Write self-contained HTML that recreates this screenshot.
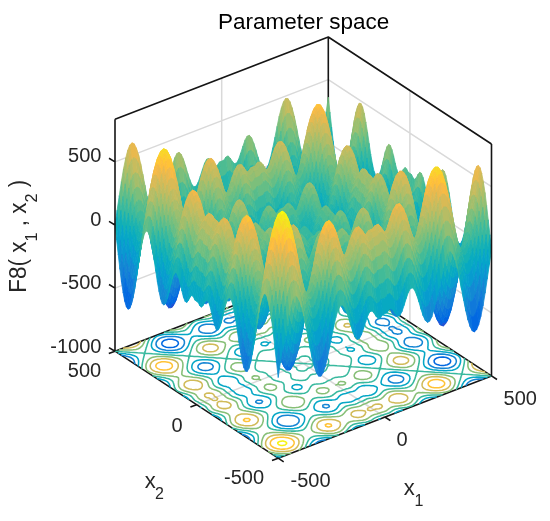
<!DOCTYPE html>
<html><head><meta charset="utf-8"><title>Parameter space</title>
<style>
html,body{margin:0;padding:0;background:#fff}
body{width:550px;height:521px;overflow:hidden}
svg{display:block}
text{font-family:"Liberation Sans",Arial,Helvetica,sans-serif}
.t{font-size:20px;fill:#262626}
.l{font-size:22px;fill:#262626}
.ti{font-size:22.5px;fill:#000}
.s{font-size:16px;fill:#262626}
.c0{fill:#352a87;stroke:#352a87}.c1{fill:#363093;stroke:#363093}.c2{fill:#3637a0;stroke:#3637a0}.c3{fill:#353dad;stroke:#353dad}.c4{fill:#3243ba;stroke:#3243ba}.c5{fill:#2c4ac7;stroke:#2c4ac7}.c6{fill:#2053d4;stroke:#2053d4}.c7{fill:#0f5cdd;stroke:#0f5cdd}.c8{fill:#0363e1;stroke:#0363e1}.c9{fill:#0268e1;stroke:#0268e1}.c10{fill:#046de0;stroke:#046de0}.c11{fill:#0871de;stroke:#0871de}.c12{fill:#0d75dc;stroke:#0d75dc}.c13{fill:#1079da;stroke:#1079da}.c14{fill:#127dd8;stroke:#127dd8}.c15{fill:#1481d6;stroke:#1481d6}.c16{fill:#1485d4;stroke:#1485d4}.c17{fill:#1389d3;stroke:#1389d3}.c18{fill:#108ed2;stroke:#108ed2}.c19{fill:#0c93d2;stroke:#0c93d2}.c20{fill:#0998d1;stroke:#0998d1}.c21{fill:#079ccf;stroke:#079ccf}.c22{fill:#06a0cd;stroke:#06a0cd}.c23{fill:#06a4ca;stroke:#06a4ca}.c24{fill:#06a7c6;stroke:#06a7c6}.c25{fill:#07a9c2;stroke:#07a9c2}.c26{fill:#0aacbe;stroke:#0aacbe}.c27{fill:#0faeb9;stroke:#0faeb9}.c28{fill:#15b1b4;stroke:#15b1b4}.c29{fill:#1db3af;stroke:#1db3af}.c30{fill:#25b5a9;stroke:#25b5a9}.c31{fill:#2eb7a4;stroke:#2eb7a4}.c32{fill:#38b99e;stroke:#38b99e}.c33{fill:#42bb98;stroke:#42bb98}.c34{fill:#4dbc92;stroke:#4dbc92}.c35{fill:#59bd8c;stroke:#59bd8c}.c36{fill:#65be86;stroke:#65be86}.c37{fill:#71bf80;stroke:#71bf80}.c38{fill:#7cbf7b;stroke:#7cbf7b}.c39{fill:#87bf77;stroke:#87bf77}.c40{fill:#92bf73;stroke:#92bf73}.c41{fill:#9cbf6f;stroke:#9cbf6f}.c42{fill:#a5be6b;stroke:#a5be6b}.c43{fill:#aebe67;stroke:#aebe67}.c44{fill:#b7bd64;stroke:#b7bd64}.c45{fill:#c0bc60;stroke:#c0bc60}.c46{fill:#c8bc5d;stroke:#c8bc5d}.c47{fill:#d1bb59;stroke:#d1bb59}.c48{fill:#d9ba56;stroke:#d9ba56}.c49{fill:#e1b952;stroke:#e1b952}.c50{fill:#e9b94e;stroke:#e9b94e}.c51{fill:#f1b94a;stroke:#f1b94a}.c52{fill:#f8bb44;stroke:#f8bb44}.c53{fill:#fdbe3d;stroke:#fdbe3d}.c54{fill:#ffc337;stroke:#ffc337}.c55{fill:#fec832;stroke:#fec832}.c56{fill:#fcce2e;stroke:#fcce2e}.c57{fill:#fad32a;stroke:#fad32a}.c58{fill:#f7d826;stroke:#f7d826}.c59{fill:#f5de21;stroke:#f5de21}.c60{fill:#f5e41d;stroke:#f5e41d}.c61{fill:#f5eb18;stroke:#f5eb18}.c62{fill:#f6f313;stroke:#f6f313}.c63{fill:#f9fb0e;stroke:#f9fb0e}
</style></head><body>
<svg width="550" height="521" viewBox="0 0 550 521">
<rect width="550" height="521" fill="#fff"/>
<path d="M115.0 288.1 L328.3 205.8M328.3 205.8 L491.5 312.8M115.0 225.0 L328.3 142.7M328.3 142.7 L491.5 249.7M115.0 161.9 L328.3 79.6M328.3 79.6 L491.5 186.6M221.7 310.0 L221.7 78.1M409.9 322.4 L409.9 90.5M384.9 417.0 L221.7 310.0M196.6 404.7 L409.9 322.4" fill="none" stroke="#d9d9d9" stroke-width="1.5"/>
<path d="M115.0 351.2 L328.3 268.9 L491.5 375.9M115.0 119.3 L328.3 37.0 L491.5 144.0M328.3 268.9 L328.3 37.0M115.0 351.2 L278.2 458.2 L491.5 375.9" fill="none" stroke="#151515" stroke-width="1.6" stroke-linejoin="round"/>
<g fill="none" stroke-width="1.55" stroke-linejoin="round">
<path stroke="#363093" d="M324.1 286.2L323.4 286.1 320.9 285.4 319.8 284.1 319.9 283.4 321.4 282.1 324 281.6 325.9 281.7 328.1 282.6 328.8 284 328.6 284.6 326.9 285.7 324.1 286.2z"/>
<path stroke="#0268e1" d="M444.8 365.3L443.9 365.4 441.6 365.4 439.8 365.2 437.1 364.6 436.7 364.4 435.3 363.6 435 363.3 434.3 362.3 434.1 360.7 434.1 360.5 435.2 359 437 357.9 439.4 357.3 442.4 357.1 443.3 357.1 446.4 357.6 446.8 357.7 448.6 358.5 450.1 359.6 450.3 360 450.7 361.1 450.4 362.3 449.9 363.1 449.2 363.7 447.3 364.7 444.8 365.3zM358.4 308.6L357.8 308.5 356.4 307.4 356.4 307.3 357.6 305.9 360.4 305.5 361 305.6 362.9 306.6 363 307.2 361.6 308.5 358.4 308.6zM329.3 289.5L326.9 289.8 326.4 289.9 323 289.9 322.5 289.8 319.2 289.4 318.7 289.3 316.6 288.7 314.6 287.8 313.2 286.6 312.4 285.2 312.4 285.2 312.4 283.5 312.6 283 313.4 281.5 313.4 281.4 314.9 280.1 316.8 279.1 319.1 278.4 321.8 278 322.5 278 325.1 277.9 326.7 278 329.2 278.4 329.8 278.5 332.3 279.3 334.1 280.3 335.4 281.5 336.2 282.9 336.2 282.9 336.2 284.6 336 285.1 335.2 286.7 335.1 286.7 333.6 287.9 331.7 288.9 329.3 289.5zM175.7 346.6L173.9 347.2 173.4 347.3 170.5 347.6 168.6 347.5 166.5 347.2 165.6 347 163.5 346.1 162.2 344.9 161.9 344.2 161.8 343.4 162.2 342.1 163.1 341.2 163.5 340.8 165.5 339.9 167.6 339.4 168 339.3 171.3 339.3 172.2 339.3 175 339.9 177 340.9 178.1 342.1 178.4 343.7 178.4 343.9 177.4 345.4 176.2 346.3 175.7 346.6zM279.2 303.3L278.6 303.4 275.5 302.9 274.9 301.4 275.3 300.8 277.6 300.1 278.3 300.1 280.7 300.9 281.2 302.4 281.2 302.4 279.2 303.3z"/>
<path stroke="#1485d4" d="M314.9 444L316 443 317.6 441.8 319.7 441 322.1 440.3 324.8 439.9 325.8 439.8M465.7 385.9L465.8 385.7 466.8 384.1 467.3 383.6 468 382.7 469.6 381.5 471.5 380.5 473.8 379.8 476.4 379.3 478.7 379.1 479.4 379.1 482.7 379 483.4 379M445.9 368.2L445.2 368.3 442.7 368.3 440.8 368.3 439 368.1 437.3 367.9 434.4 367.4 434.4 367.4 432 366.6 430.3 365.5 429 364.3 428.7 363.6 428.4 362.9 428.2 361.2 428.2 361.1 428.6 359.4 428.7 359.1 429.6 357.5 429.9 357.2 430.9 356.1 432.7 355.1 435 354.4 437.9 354.1 437.9 354.1 441.2 354.1 442.2 354.1 445.1 354.3 445.8 354.4 448.8 355 449.8 355.3 451.3 355.7 453.4 356.6 454.9 357.7 455.9 359.1 455.9 359.2 456.3 360.6 456.3 361.7 456.1 362.4 455.7 363.5 455.1 364.5 454.6 365.1 453.1 366.3 451.1 367.2 448.7 367.9 445.9 368.2zM293.2 425.8L290.6 426.2 290.4 426.2 287.1 426.3 286.2 426.2 283 425.7 282.8 425.7 280.6 425 278.8 424 277.6 422.7 277.4 422.1 277.2 421.2 277.3 419.8 277.4 419.4 278.1 418.2 279.6 416.9 280 416.7 281.6 416 282.3 415.8 284.1 415.4 287.2 415.2 288.2 415.2 290.9 415.4 291.9 415.5 294.7 416.1 296.3 416.8 296.9 417 298 417.9 298.3 418.1 299.1 419.6 299.1 420.8 299.1 421.3 298.5 422.6 297.7 423.5 297.2 424 295.4 425.1 293.2 425.8zM400 382.5L398.9 382.7 397.2 383 394 382.9 393.7 382.9 391.2 382.3 389.3 381.3 388.4 380 388.3 379.3 388.6 378.2 389 377.6 390.5 376.4 392.8 375.6 395.6 375.3 396.2 375.3 399.6 375.7 399.7 375.7 401.9 376.5 403.3 377.6 403.5 378.2 403.7 379.2 403.3 380.3 402.3 381.4 402 381.7 400 382.5zM326.8 407.9L325 407.8 322.9 407 322.8 405.3 322.8 405.3 324.9 404.4 325.1 404.4 328.4 404.8 329.4 406.1 328.9 407.1 326.8 407.9zM241.8 434.3L242.7 434.5 245.1 435.3 247.1 436.2 248.6 437.3 249.7 438.6 250.1 439.8M419.1 346.2L418.1 346.4 416.6 346.8 413.4 346.9 412.6 346.8 409.3 346.4 409.2 346.4 407 345.6 405.3 344.6 404.4 343.2 404.3 343.2 404.2 341.6 404.2 340.9 404.9 339.6 405 339.2 406.6 338 409.1 337.4 410.5 337.5 412.5 337.4 414.5 337.6 416.7 338 417.5 338.2 419.8 339 421.4 340.1 422.3 341.4 422.4 341.7 422.3 343.1 422.1 343.8 421 345.2 420.1 345.6 419.1 346.2zM259.2 403.5L257.5 403.3 255.8 402.3 255.8 401.3 257.5 400.2 260.9 400.2 261 400.2 262.6 401.3 262.6 401.3 261.7 403 259.2 403.5zM397.3 334.2L397.1 334.1 394.2 333.6 392.7 332.4 392.1 331 390.5 329.9 388.9 328.8 388.8 328.5 389.6 326.9 392.6 326.6 393.9 326.9 395.5 328 397.1 329 400 329.6 401.7 330.7 401.9 332.3 401.8 332.7 400.2 333.8 397.3 334.2zM384.6 325.8L383.9 325.6 380.4 325.3 380.4 325.3 377.9 324.6 376.2 323.5 375.4 322.1 375.4 322 376.1 320.2 376.2 320.1 377.7 319.1 380.2 318.5 380.5 318.5 383.6 318.5 384.4 318.6 387 319.4 388.5 320.4 389.3 321.9 389.4 322.3 389.1 323.6 389.2 324.4 387.7 325.6 384.6 325.8zM365.1 313L363.6 313.1 361.9 313.1 359.3 313 358.2 312.9 355.9 312.6 353.5 312.1 353.1 312 351 311.1 349.4 310 348.6 308.8 348.5 308.7 348.2 307.1 348.3 306.5 348.8 305.2 349.1 304.7 350.4 303.4 352.2 302.3 354.5 301.6 357.4 301.3 358.9 301.3 360.9 301.4 362.6 301.5 365.2 302 365.6 302.1 367.9 302.9 369.6 304 370.7 305.2 371 305.8 371.3 306.7 371.3 308.2 371.2 308.4 370.7 310 370.2 310.5 369.5 311.4 367.6 312.4 365.1 313zM208.6 370.3L205.8 370.6 205.5 370.6 202.4 370.2 200.9 369.7 200 369.4 198.4 368.3 198.3 368 197.9 366.8 198.1 365.7 198.8 364.8 199.3 364.3 201.3 363.3 203.8 362.8 203.9 362.8 207.4 362.9 207.9 362.9 210.5 363.6 212.3 364.7 213.1 366 213.2 366.7 212.8 367.8 212.5 368.5 210.9 369.6 208.6 370.3zM330 292.2L329.5 292.2 326.8 292.4 324.8 292.3 323.3 292.3 320.9 292.1 319.5 292 317.5 291.8 315 291.3 314.5 291.2 312 290.5 310.1 289.5 308.7 288.4 307.8 287 307.7 286.5 307.5 285.4 307.6 284.2 307.6 283.7 308.1 282.3 308.4 281.7 309 280.7 310.1 279.3 310.2 279.2 311.7 278 313.6 277.1 315.9 276.3 318.6 275.8 319.3 275.8 321.6 275.6 324.2 275.6 325 275.6 328 275.8 328.8 275.9 331.3 276.2 333.5 276.7 334.1 276.9 336.4 277.7 338.2 278.7 339.6 279.9 340.4 281.2 340.5 281.3 340.9 282.8 340.9 283.8 340.9 284.5 340.6 285.8 340.4 286.3 339.8 287.5 339 288.6 338.7 289 337.1 290.2 335.2 291.2 332.8 291.8 330 292.2zM174.6 350.3L174.5 350.3 171.5 350.5 169.8 350.5 167.9 350.4 166.1 350.2 163.7 349.8 163 349.7 160.5 349 158.5 348 157.1 346.9 156.3 345.5 156.1 344.8 156 343.9 156.2 342.7 156.4 342 157 341 158 339.7 158.2 339.5 159.8 338.4 161.9 337.5 164.3 336.9 166 336.6 167.1 336.5 170.3 336.4 171.1 336.4 173.9 336.5 174.9 336.6 178.1 337 178.1 337.1 180.7 337.7 182.6 338.7 183.8 339.9 184.3 341.1 184.4 341.4 184.4 343.1 184.4 343.4 183.8 345 183.8 345.2 182.7 346.7 182 347.4 181.4 348.1 179.5 349.1 177.3 349.8 174.6 350.3zM281.9 307.3L281.4 307.4 278.9 307.6 276.5 307.6 275.4 307.5 272.8 307.3 271.2 307 269.9 306.7 267.7 305.9 266.4 304.7 266.2 303.7 266 303.1 266.3 301.5 266.3 301.3 267.1 299.9 267.9 299 268.4 298.5 270.2 297.4 272.4 296.6 275 296.1 275.4 296.1 278.1 296 280 296 281.9 296.3 283.3 296.4 285.9 297.1 287.8 298.1 289.1 299.3 289.6 300.8 289.6 301.3 289.4 302.6 289.2 303.2 288.1 304.7 287.9 304.9 286.5 305.9 284.4 306.8 281.9 307.3zM212.4 332.9L209.8 333.3 209.7 333.3 206.3 333.3 205.5 333.3 202.5 332.7 201.2 332.2 200.4 331.9 199.7 331.2 199.1 330.6 198.7 329.1 198.9 328.4 199.5 327.1 199.7 326.8 201.3 325.6 203.5 324.8 206.1 324.3 207 324.2 209.3 324.2 211.3 324.2 213.2 324.5 214.6 324.7 216.7 325.5 217.6 326.9 217.5 327.4 217.5 328.6 217.2 329.3 216.2 330.8 216.2 330.9 214.5 332 212.4 332.9zM248.7 316.6L248.6 316.7 245.1 316.5 244.4 316.6 241.4 316 240.7 314.6 241.1 313.9 241.5 312.6 241.8 312.2 243.3 310.9 245.4 310.1 248.2 309.7 249 309.7 252.1 310 252.4 310.1 254.5 311 255.4 312.2 255.5 312.3 255.1 314.1 255.1 314.2 253.6 315.5 251.4 316.3 248.7 316.6zM227.9 323L227.7 323 225.1 322.3 224.1 321 224.2 320.6 225.3 319.1 227.5 318.3 230.5 318.1 232.7 317.3 234.8 316.5 236.1 316.4 238.9 317 238.9 318.7 238.6 319 236.5 319.8 234.4 320.6 233.1 322 231 322.9 227.9 323zM121.2 355.3L121.9 355.3 125 355.8 125.7 356 127.8 356.5 130.1 357.3 131.9 358.3 133.3 359.4 134.1 360.8 134.4 361.7 134.6 362.3 134.8 364 134.7 364.1"/>
<path stroke="#06a7c6" d="M309.5 446.1L309.8 445.6 310.5 444 310.6 443.9 311.7 442.4 312.4 441.6 313 441 314.6 439.9 316.7 439 319.1 438.4 321.9 438 321.9 438 324.9 437.7 327.1 437.6 328.1 437.6 331.4 437.6 331.7 437.6M351.9 429.8L352.4 429.1 353.9 427.8 355.6 426.8 357.8 425.9 360.2 425.4 363 424.9 365 424.7M378.2 419.6L378.4 419.5 380.6 418.7 380.6 418.7M394.5 413.3L395.3 412.8 397.1 411.7 399.2 410.9 401.7 410.3 402.8 410.1M419.2 403.8L420.3 402.5 421.4 401.3 421.5 401.1 423 399.9 424.8 398.8 427 398 429.6 397.5 431.8 397.2 432.4 397.2 435.6 397 436.9 397M461.1 387.6L461.3 387.2 461.9 385.6 462 385.4 462.8 383.7 463 383.5 463.7 382.1 464.5 381.2 464.9 380.7 466.4 379.4 468.2 378.4 470.5 377.7 473.3 377.3 474.9 377.2 476.4 377.1 479.7 377.1 479.7 377.1 483.2 377.2 483.8 377.2 486.9 377.4 487.6 377.4M275.8 456.6L277.6 456.7 279.6 456.9 281.3 457M449.4 370.5L448 370.6 446.2 370.7 443.5 370.6 442.8 370.6 439.6 370.4 439.1 370.4 436 370.1 435.1 370 432.7 369.7 430.5 369.2 429.8 369.1 427.4 368.3 425.6 367.3 424.4 366.1 424 365 423.8 364.6 423.6 363 423.6 362.5 423.6 361.3 423.7 360.3 423.8 359.5 424 358.3 424.1 357.7 424.3 356.3 424.5 355.9 424.6 354.3 424.7 354.1 424.6 352.4 423.1 351.3 420.3 350.7 419.1 350.6 416.9 350.3 415 350.2 413.4 349.9 410.8 349.6 410.1 349.5 407 349 406.2 348.8 404.3 348.4 402.1 347.5 400.4 346.5 399.3 345.2 398.7 344 398.6 343.7 398.2 342.2 397.7 341.1 397.6 340.7 396.6 339.4 395 338.4 392.7 337.5 392.1 337.4 390.2 336.8 388 335.9 386.4 334.9 385.3 333.6 383.6 332.5 382 331.5 380.8 330.2 379.3 329.1 377.1 328.3 374.6 327.5 372.4 326.7 371 325.8 370.7 325.6 370.7 325.6 369.7 324.3 369.1 322.9 368.9 322.2 368.7 321.3 368.2 319.8 367.9 319.3 367.4 318.4 365.7 317.3 364.3 316.9 363.3 316.6 360.3 316 359.3 315.9 357.2 315.5 354.8 315.2 354.1 315.1 351.1 314.5 349.9 314.2 348.5 313.8 346.4 312.9 344.8 311.8 343.8 310.5 343.7 310.1 343.3 309 343.2 307.6 343.2 307.3 343.4 305.5 343.5 305.5 344 303.6 344 303.6 344.8 301.9 345.3 301.5 346 300.5 347.7 299.4 350.1 298.7 352.7 298.6 353.1 298.5 356.6 298.5 357.1 298.6 360.3 298.8 360.8 298.8 364.2 299.2 364.4 299.3 367.2 299.8 369.5 300.3 369.9 300.4 372.1 301.3 373.8 302.4 375 303.6 375.3 304.2 375.7 305 376.2 306.5 376.3 307 376.4 308.1 376.6 309.5 376.6 309.7 377 311.3 377.8 312.5 377.9 312.7 379.5 313.7 379.9 313.9 381.8 314.5 384.6 315.2 385.6 315.4 387.4 315.8 390 316.5 391.7 317.2 392.2 317.3 393.8 318.4 394 318.6 394.9 319.7 395.7 321.1 396.8 322.3 398.5 323.4 400.6 324.3 402.2 325.4 403.9 326.4 405.9 327.3 407.6 328.4 408.7 329.7 409.6 331 409.7 331.2 410.6 332.3 412.2 333.4 414.4 334.2 414.4 334.2 417 334.9 419.8 335.6 419.9 335.6 422.3 336.3 424.4 337.2 426 338.3 427.1 339.6 427.7 340.7 427.8 341 428 342.6 428.1 343.2 428 344.3 428.1 345.4 427.9 346.1 427.9 347.6 427.8 347.8 428.1 349.4 430 350.4 432.7 350.7 433.2 350.8 436.7 351.2 436.8 351.2 440.2 351.5 440.8 351.6 443.6 351.9 444.9 352 446.9 352.3 449.3 352.7 450.1 352.8 452.9 353.4 454.7 354 455.3 354.2 457.3 355.1 458.8 356.2 459.6 357.2 459.8 357.5 460.4 359 460.6 360.1 460.6 360.6 460.5 362.2 460.5 362.4 460 364.1 459.9 364.3 459.2 365.8 458.8 366.4 458.1 367.3 456.6 368.6 454.7 369.5 452.3 370.2 449.4 370.5zM294.1 428.6L293 428.7 291 428.8 288.3 428.8 287.6 428.8 284.5 428.6 283.7 428.5 281.1 428.2 279.2 427.8 278.3 427.6 276 426.8 274.2 425.8 273 424.5 272.4 423.3 272.3 423.1 272 421.5 272 420.8 272.2 419.7 272.3 418.8 272.7 417.8 272.9 417 273.7 415.7 273.9 415.4 275.3 414.1 277.3 413.2 279.8 412.6 282.1 412.5 282.9 412.4 286.4 412.5 286.6 412.5 290 412.6 290.5 412.7 293.9 412.9 294.1 413 297.4 413.4 298.2 413.6 300.3 414 302.5 414.8 304 416 304.6 417.4 304.6 417.8 304.7 419.1 304.5 419.9 304.4 420.9 304.1 421.8 303.6 422.9 303.3 423.5 302.2 425.1 302 425.2 300.8 426.3 299 427.4 296.7 428.1 294.1 428.6zM401.4 385.7L399.5 385.9 398.5 386 395.2 386.1 394.6 386.1 391.7 386 390.5 386 387.9 385.7 386.8 385.7 383.7 385.2 383.6 385.1 381.6 384.3 381.6 383.8 381 382.8 381.2 381.4 381.2 381.1 381.7 379.4 381.7 379.2 382.3 377.6 382.6 377.1 383.2 376 384.4 374.7 384.5 374.6 386.2 373.5 388.4 372.7 390.6 372.3 391.1 372.3 394.2 372.1 395.5 372.1 397.8 372.2 399.3 372.4 401.9 372.7 402.6 372.8 405.4 373.4 407.5 374.3 409 375.4 409.8 376.8 409.9 377.9 410 378.5 409.6 380 409.5 380.3 408.8 381.7 408.1 382.6 407.6 383.1 406 384.2 403.9 385.1 401.4 385.7zM329.4 411.8L327.5 412 326.4 412 323.1 412 322.8 411.9 319.7 411.6 318.4 411.3 317 410.9 315.1 410 314.2 408.6 314.2 408.5 313.9 407 314.1 406.2 314.4 405.1 314.7 404.4 315.8 402.9 315.9 402.9 317.4 401.7 319.6 400.9 322.2 400.4 322.3 400.4 325.2 400.2 327.4 400.1 328.5 400.1 331.8 400.1 332.1 400 334.9 399.8 336.9 399 337.9 397.8 338.2 397.6 339.4 396.1 340.9 394.9 340.9 394.9 341.3 394.7 343.1 394.1 345.7 393.6 347.9 392.8 350 392 352.7 391.5 354.9 390.7 356.4 389.5 357.1 388.7 357.7 388.1 359.3 386.9 361.4 386.1 364 385.6 365.2 385.6 367.2 385.5 369.6 385.5 370.9 385.7 373.3 385.8 375.4 386.4 376 386.5 376.6 387.2 377.2 387.7 377.2 389.4 377 389.7 376.4 391.4 376.4 391.5 375.2 392.9 373.6 394.1 371.4 394.9 368.8 395.4 365.9 395.7 364.7 395.9 363.1 396.1 361 397 360.2 397.7 359.4 398.2 357.3 399 355.2 399.8 353.5 400.9 351.4 401.8 348.7 402.3 348.1 402.3 345.6 402.4 342.8 402.8 340.6 403.6 339.2 404.9 338.6 406 338.2 406.5 337.2 408 336.9 408.4 335.9 409.4 334.2 410.5 332 411.3 329.4 411.8zM237.3 431.4L237.5 431.4 240.7 431.9 241.7 432 243.8 432.4 246.6 433 246.6 433 249 433.8 251.1 434.7 252.6 435.8 253.6 437.1 253.8 437.7 254.1 438.6 254.3 440.2 254.3 440.3 254.3 441.9 254.2 442.5M265.3 407.6L263.8 407.7 262.4 407.8 259.2 407.8 258.8 407.7 255.7 407.4 254.6 407.2 252.8 406.8 250.6 406 248.9 404.9 247.9 403.6 247.4 402.5 247.3 402.1 247.1 400.5 247 400 247 398.8 246.4 397.4 244.7 396.3 242.1 395.6 239.7 395.2 239.2 395.1 236.9 394.3 235.3 393.2 234.2 391.9 232.6 390.8 231 389.7 230.5 389.2 230 388.4 228.5 387.3 227 386.9 226 386.5 223.4 385.9 221.1 385.1 219.4 384 218.5 382.7 218.1 381.1 218.1 381 218.4 379.3 218.4 379 219.3 377.4 220.1 376.9 221.1 376.3 221.7 376.3 224 376 226.4 376.2 227.7 376.2 230 376.5 232 376.8 233.1 377 235.4 377.8 237 378.9 237.9 380.3 238.2 380.9 238.4 381.8 239.3 383.1 241 384.2 243.3 385 244.9 386.1 246.6 387.1 248.9 387.9 250.2 388.8 250.6 389 250.6 389 251.4 390.4 251.8 391.9 251.9 392.1 252.3 393.4 253.8 394.5 256.4 395 256.7 395.1 259.8 395.6 260.9 395.7 262.9 396.1 265.7 396.7 265.8 396.7 268.1 397.5 269.7 398.6 270.6 399.9 270.6 399.9 270.9 401.5 270.8 402.3 270.6 403.4 270.3 404.2 269.3 405.5 269.2 405.7 267.6 406.8 265.3 407.6zM368.9 364.4L367 364.4 365.5 364.4 363.4 364.1 360.8 363.4 359.2 362.4 358.4 361 358.4 359.7 358.5 359.2 359 357.9 360.1 356.9 360.4 356.6 362.6 355.8 362.9 355.8 365.7 355.6 367.5 355.8 369.7 356 370.7 356.2 373.1 357 374.7 358.1 375.6 359.4 375.6 359.9 375.3 361.2 375.1 361.8 373.7 363.1 371.7 364 368.9 364.4zM298.8 389.5L297.3 389.7 295.4 389.5 294 389.2 292.3 388.2 292 387.3 292.2 386.5 292.9 385.6 295 384.8 297 384.6 298.3 384.7 300.2 385.1 301.8 386.2 302 387.2 301.7 387.9 301 388.7 298.8 389.5zM211.8 414.6L213.6 415.1 216 415.9 218.1 416.8 219.8 417.9 220.9 419.1 221.6 420.5 221.8 421.2M352.3 351.3L348.7 351.1 347.3 350 347.5 348.2 345.9 347.1 347.7 348.1 349.9 347.5 352.6 347.9 354.4 348.9 354.2 350.3 352.3 351.3zM199.9 406.8L199.9 406.8 201.5 407.9 201.7 408M339.5 342.9L339.2 342.9 336.3 343 334.9 342.8 332.1 342.2 330.4 341.2 330 339.6 330.1 339 331.4 337.6 333.7 336.9 336.9 336.7 337.4 336.8 340 337.5 341.6 338.6 342.2 340 342.2 340.2 341.4 341.9 340.5 342.4 339.5 342.9zM182.9 395.7L183.9 396 186 396.9 187.6 398 188.8 399.2 189.2 399.9M216.8 373.5L214.4 374 214.3 374.1 211 374.2 209.9 374.1 207.3 374 206.1 373.8 203.3 373.6 202.7 373.5 199.6 372.9 198.6 372.7 197 372.3 194.8 371.4 193.3 370.3 192.3 369 192.1 368.4 191.8 367.4 191.9 366.1 191.9 365.7 192.4 364.2 192.7 363.7 193.4 362.6 194.9 361.4 196.9 360.5 199.5 359.9 202.4 359.7 203.2 359.7 205.9 359.7 207.4 359.8 209.7 360 210.9 360.1 213.9 360.6 214.3 360.8 216.3 361.4 218 362.5 219 363.8 219.1 363.9 219.5 365.3 219.6 366.4 219.5 367 219.3 368.5 219.3 368.8 218.8 370.4 218.7 370.7 218.1 372.1 217.1 373 216.8 373.5zM320.2 330.2L318.5 330.5 317.4 330.7 314.2 330.8 313.4 330.7 310.5 330.5 309.7 330.5 306.7 329.9 305.7 329.6 304.3 329.2 302.7 328.1 302.5 327.5 302.1 326.6 302.1 325 302.1 324.9 302.8 323.3 303.1 322.8 304 321.8 305.7 320.7 307.9 319.9 310.6 319.5 311.9 319.4 313.9 319.4 316 319.6 317.9 319.8 319.1 320 321.5 320.8 323.2 321.8 324.3 323.2 324.6 324.2 324.6 324.7 324.5 326.4 324.4 326.5 323.6 328 322.7 328.8 322.2 329.3 320.2 330.2zM244.8 356.3L242.7 356.3 241.2 356.2 239.4 355.9 237 355.1 235.4 354 234.8 352.6 234.8 352 235.3 350.7 235.5 350.3 237.1 349 239.2 348.2 241.9 347.8 243 347.7 245.3 347.7 247 347.8 249.6 348.4 249.9 348.4 251.7 349.4 251.8 349.8 252.3 350.9 252.2 352.3 252 352.7 251.3 353.9 249.8 355.2 247.7 356 244.8 356.3zM283.4 339.4L282 339.4 279.3 338.9 279 338.9 278.3 338.3 277.6 337.8 277.7 336 277.9 335.8 279.2 334.5 281.3 333.6 284.2 333.3 284.7 333.3 287.7 333.8 289.5 334.9 290.1 336.3 289.9 337 288.7 338.4 286.5 339.2 283.4 339.4zM265.8 345.7L262.2 345.4 260.9 344.2 261.5 342.8 263.8 342.1 266.5 342 268.4 342.9 270.6 342.2 268.5 343 267.8 344.8 265.8 345.7zM156.8 378.6L158.1 378.8 161 379.3 161.5 379.5 163.6 380 165.8 380.9 167.5 381.9 168.7 383.2 169.5 384.6 169.5 384.7 170 386.1 170.3 387.5M178.1 352.6L177.4 352.6 175 352.8 172.6 352.8 171.6 352.8 168.5 352.7 168 352.6 164.8 352.4 164.1 352.3 161.4 352 159.8 351.7 158.4 351.4 155.9 350.7 153.9 349.8 152.5 348.6 151.7 347.2 151.5 346.3 151.4 345.6 151.5 344 151.5 343.9 152 342.1 152.1 342 152.8 340.4 153.1 339.9 153.8 338.9 155.2 337.5 155.6 337.2 156.8 336.4 158.9 335.5 161.3 334.9 162 334.8 164 334.5 167.1 334.2 167.9 334.2 170.3 334.2 172.4 334.1 173.7 334.2 176.6 334.2 177.3 334.3 180.7 334.4 180.8 334.4 184.4 334.5 184.9 334.4 187.7 334.5 190 333.7 191.1 332.2 191.1 332 192 330.6 192.1 329.9 192.7 328.9 193.2 327.8 193.6 327.2 194.7 325.7 195 325.4 196.1 324.4 197.8 323.3 200 322.5 202.5 321.9 205.1 321.5 205.2 321.5 208.2 321.2 211.1 320.9 211.2 320.9 213.7 320.4 215.8 319.6 217.3 318.5 217.5 318.4 219 317.2 220.7 316.1 222.9 315.3 225.4 314.7 227.5 313.9 229.7 313.1 232.1 312.5 234.3 311.7 236 310.6 237.6 309.4 239 308.5 239.3 308.3 241.4 307.4 241.9 307.3 243.9 306.9 246.8 306.6 248.8 306.4 249.9 306.3 252.9 306.1 255 305.7 255.5 305.6 257.6 304.8 257.8 304.6 259.2 303.6 260.4 302.1 260.5 301.9 261.4 300.6 262.1 299.5 262.5 299.1 263.7 297.6 264.6 296.9 265.2 296.4 267 295.3 269.2 294.6 271.7 294 272.2 293.9 274.6 293.7 277.6 293.6 277.8 293.6 281.3 293.6 281.8 293.6 285 293.9 285.6 293.9 288.9 294.3 289.3 294.4 291.7 294.9 293.7 295.8 294.8 297.1 295 298.2 295.2 298.7 295.1 300.4 295.1 300.4 294.6 302.3 294.6 302.3 293.9 304.1 293.8 304.3 292.9 305.7 292 306.7 291.7 307.1 290 308.2 287.9 309.1 285.4 309.7 283.9 309.8 282.5 310 279.4 310.2 278.6 310.2 276.1 310.2 273.9 310.3 272.8 310.3 269.7 310.5 268.5 310.7 266.9 310.9 264.8 311.7 263.9 312.5 263.3 312.9 262 314.3 261.4 315.1 260.8 315.8 259.5 317.1 257.8 318.2 257.8 318.2 257.4 318.3 255.6 319 253.1 319.5 250.3 320 247.8 320.5 245.7 321.3 243.9 322.4 241.8 323.2 239.6 324.1 237.8 325.1 235.7 326 233.2 326.5 231 326.8 230.4 326.9 227.8 327.4 225.6 328.2 224 329.4 223.7 329.6 222.7 330.7 221.4 332.1 221.2 332.3 220 333.4 218.3 334.5 216.1 335.3 213.6 335.9 211.5 336.1 210.6 336.1 207.4 336.2 206.6 336.2 203.9 336.2 202.3 336.2 200.4 336.1 198.1 336.1 196.9 336 193.8 336.2 191.8 337.2 190.9 338.8 190.9 338.9 190.2 340.5 190.1 340.9 189.5 342.3 189.4 342.9 188.9 344.1 188.6 344.9 188.2 345.9 187.6 347 187.3 347.5 186.2 349 185.9 349.3 184.9 350.4 183.1 351.4 180.8 352.2 178.1 352.6zM344 279.2L344.3 279.7 344.8 281.2 344.9 282 344.9 282.9 344.9 284.2 344.8 284.6 344.6 286.2 344.5 286.4 344.1 288.1 343.9 288.4 343.4 289.9 343 290.4 342.5 291.5 341.1 292.8 341.1 292.9 339.3 293.9 337.5 294.2 336.7 294.4 333.7 294.7 332 294.7 330.4 294.7 327.8 294.6 326.8 294.6 323.8 294.4 323.1 294.4 320 294.2 319.4 294.1 316.4 293.9 315.4 293.8 312.9 293.5 311.3 293.3 309.6 293.1 306.9 292.5 306.2 292.2 304.7 291.6 303.5 290.4 303.5 290.4 302.8 288.9 302.9 287.8 302.8 287.2 303.1 285.7 303.1 285.4 303.5 283.8 303.6 283.5 304.2 282 304.3 281.5 305 280.3 305.5 279.4 306 278.7 307.2 277.3 307.8 276.8M118 353.1L118.7 353.2 121.8 353.4 122.3 353.5 125.8 353.8 125.8 353.9 129 354.3 130.4 354.6 131.9 354.9 134.3 355.7 136.2 356.6 137.4 357.8 138.2 359.2 138.3 359.8 138.6 360.8 138.6 362.2 138.6 362.5 138.5 364.2 138.5 364.4 138.3 366 138.3 366.5M315.1 274L315.6 273.9 318.6 273.6 320.5 273.6 321.9 273.6 324.8 273.7 325.4 273.7 328.6 273.9 329.2 273.9 332.1 274.2 333.4 274.5 335.2 274.7 338 275.4 338.4 275.5"/>
<path stroke="#38b99e" d="M304.9 447.9L305.3 447.1 305.8 445.8 306 445.4 306.7 443.8 306.8 443.6 307.6 441.9 307.7 441.7 308.4 440.3 309.1 439.5 309.6 438.8 311 437.5 313 436.6 315.6 436 318.6 435.8 318.6 435.8 321.8 435.7 323.4 435.7 325.1 435.6 327.9 435.6 328.5 435.6 331.7 435.5 332.6 435.5 334.9 435.4 337.8 435 338.8 434.8M344.1 432.8L344.3 432.7 345.8 431.4 347.1 430 347.2 429.9 348.2 428.6 349.3 427.4 349.5 427.2 350.9 425.9 352.6 424.8 354.7 424 357.2 423.4 360 423 360.9 422.9 362.9 422.6 365.7 422.2 368.1 421.6 370.3 420.8 372 419.8 373.7 418.6 375.5 417.6 377.6 416.8 380 416.1 382.2 415.3 384.3 414.5 386.7 413.8 388.9 413 390.7 412 392.3 410.8 392.6 410.7 394.1 409.8 396.2 408.9 398.4 408.4 398.7 408.3 401.5 407.9 404.3 407.6 405.4 407.4 407.1 407.2 409.5 406.6 411.7 405.8 413.4 404.7 414.1 404.1 414.9 403.4 416.1 402 416.6 401.4 417.3 400.5 418.5 399.1 418.8 398.9 419.9 397.8 421.6 396.7 423.8 396 426.4 395.5 427.9 395.3 429.4 395.2 432.6 395 433.1 395 435.9 395 437.7 394.9 439.2 394.9 442.4 394.8 442.5 394.8M456.1 389.6L456.7 388.6 457.3 387.4 457.6 387 458.3 385.3 458.3 385.2 459 383.4 459 383.3 459.5 381.6 459.6 381.4 460.1 379.7 460.3 379.5 460.6 377.9 460.9 377.5 461.1 376 461.6 375.6 461.4 373.9 457.6 373.7 457.6 373.7 453.9 373.4 453.9 373.4 450.1 373.2 450.1 373.2 446.3 372.9 446.3 372.9 442.6 372.7 442.6 372.7 438.8 372.4 438.8 372.4 435 372.2 435 372.2 431.3 371.9 431.3 371.9 427.5 371.7 427.5 371.7 423.7 371.5 423.7 371.5 420 371.2 420 371.2 416.2 371 417.1 372.3 416.4 373.3 416.4 374.3 415.9 375.2 415.7 376.2 415.4 377.1 415.1 378.2 414.8 378.9 414.3 380.2 414.1 380.7 413.4 382.2 413.3 382.4 412.3 384 411.8 384.5 411.1 385.4 409.5 386.6 407.4 387.4 404.9 388 402.2 388.2 402 388.3 398.8 388.4 397.2 388.5 395.6 388.5 392.4 388.7 392.3 388.7 389.4 388.9 386.8 389.4 384.6 390.2 382.9 391.4 381.6 392.7 381.5 392.9 380.3 394.1 378.9 395.4 378.4 395.7 377.2 396.5 375.1 397.3 373.5 397.6 372.5 397.9 369.8 398.3 367.2 398.8 365.2 399.7 363.4 400.7 361.2 401.6 359.1 402.4 357.3 403.4 355.2 404.3 352.7 404.8 349.9 405.3 348.5 405.6 347.4 405.8 345.2 406.6 344.4 407.2 343.5 407.7 342.1 409 341.1 410.1 340.8 410.4 339.4 411.7 337.7 412.8 335.6 413.6 333 414.1 330 414.4 329.9 414.4 326.9 414.6 325 414.6 323.6 414.6 320.4 414.7 320.3 414.8 317.3 414.9 314.6 415.4 312.6 416.3 311.1 417.5 310.4 418.6 310 419.1 309.1 420.7 309.1 420.8 308.4 422.4 308.2 422.8 307.6 424.2 307.2 424.9 306.8 425.8 305.9 427.1 305.8 427.4 304.5 428.8 302.8 429.9 300.5 430.6 297.7 431 295.7 431.1 294.5 431.1 291.2 431.1 291.1 431.1 287.4 430.9 287.2 430.9 283.7 430.7 283.5 430.7 279.9 430.3 279.7 430.3 276.5 430 275.5 429.7 273.5 429.4 271 428.7 269.2 427.7 268.1 426.4 267.6 424.9 267.6 424.6 267.4 423.3 267.5 422.3 267.5 421.5 267.6 420.2 267.7 419.8 267.8 418.1 267.8 418 267.8 416.3 267.7 415.8 267.6 414.7 266.8 413.3 265.3 412.2 263 411.4 260.1 410.8 260.1 410.8 257 410.3 255.6 410.1 253.9 409.8 251 409.3 250.9 409.2 248.2 408.6 246 407.7 244.3 406.7 243.3 405.4 242.6 404 242.5 403.7 242 402.5 241.4 401 240.8 400.4 240.3 399.7 238.6 398.7 237.7 398.3 236.4 397.8 234 397.1 231.9 396.2 230.3 395.1 229.1 393.9 227.5 392.8 225.8 391.7 224.7 390.5 223.1 389.4 220.9 388.5 218.5 387.7 217.7 387.4 216.3 386.9 214.7 385.8 213.9 385 213.6 384.6 212.9 383.1 212.4 381.8 212.4 381.6 211.8 380.1 210.8 378.8 209.1 377.8 206.8 377 204.2 376.4 204.1 376.3 201.1 375.8 199.6 375.5 198 375.3 195 374.7 194.8 374.6 192.4 374 190.2 373.2 188.7 372.1 187.7 370.7 187.5 369.8 187.3 369.2 187.1 367.6 187.1 367.4 187.3 365.8 187.3 365.3 187.5 364 187.6 363.3 187.9 362.2 188 361.3 188.4 360.3 188.4 359.3 188.9 358.4 188.7 357.3 190.3 356.1 186.5 355.9 186.5 355.9 182.8 355.6 182.8 355.6 179 355.4 179 355.4 175.2 355.2 175.2 355.2 171.5 354.9 171.5 354.9 167.7 354.7 167.7 354.7 163.9 354.4 163.9 354.4 160.2 354.2 160.2 354.2 156.4 353.9 156.4 353.9 152.6 353.7 152.6 353.7 148.9 353.4 148.9 353.4 145.1 353.2 144.1 354.7 144.3 355.2 143.8 356.7 143.8 357.1 143.3 358.7 143.3 359 142.9 360.6 142.9 360.8 142.5 362.6 142.5 362.7 142.2 364.5 142.2 364.6 142 366.3 142 366.7 142 368 142.1 369M272.7 454.6L274 454.7 276.6 454.9 277.7 455 280.4 455.2 281.5 455.2 284.1 455.4 285.4 455.4M464.4 358.1L464.5 359.1 464.5 360.4 464.5 360.8 464.3 362.5 464.3 362.6 464 364.4 464 364.5 463.6 366.3 463.6 366.5 463.2 368.1 463.2 368.4 462.7 370 462.7 370.4 462.2 371.9 462.4 372.4 461.4 373.9 465.1 374.2 465.1 374.2 468.9 374.4 468.9 374.4 472.7 374.7 472.7 374.7 476.4 374.9 476.4 374.9 480.2 375.2 480.2 375.2 484 375.4 484 375.4 487.7 375.7 487.7 375.7 491.5 375.9M412.4 370.7L416.2 371 417.8 369.8 417.6 368.7 418.1 367.8 418.1 366.8 418.5 365.8 418.6 364.9 418.9 363.8 419 363.1 419.2 361.8 419.2 361.3 419.4 359.7 419.4 359.5 419.2 357.9 419 357.3 418.8 356.4 417.8 355 416.3 353.9 414.1 353.1 411.7 352.5 411.5 352.4 408.5 351.8 406.9 351.6 405.4 351.3 402.4 350.8 402.3 350.7 399.7 350.1 397.4 349.3 395.7 348.3 394.7 347 394.1 345.5 394.1 345.3 393.6 344 392.9 342.5 392.6 342.1 391.8 341.3 390.2 340.2 388.8 339.7 388 339.4 385.6 338.6 383.4 337.7 381.8 336.6 380.7 335.4 379 334.3 377.4 333.2 376.2 332 374.6 330.9 372.5 330 370.1 329.3 368.8 328.8 367.9 328.4 366.2 327.4 365.7 326.7 365.1 326.1 364.5 324.6 364 323.4 363.9 323.1 363.2 321.7 362.2 320.4 360.5 319.4 358.3 318.5 355.6 317.9 355.5 317.8 352.6 317.3 350.9 317 349.5 316.8 346.4 316.3 346.4 316.3 343.5 315.7 341.2 314.9 339.7 313.8 338.9 312.4 338.8 311.3 338.7 310.8 338.7 309.1 338.7 309 338.8 307.3 338.9 306.9 339 305.6 339 304.8 339.1 303.8 338.9 302.5 338.9 302.2 338.4 300.7 337.3 299.4 335.5 298.4 333 297.7 331 297.4 330 297.1 326.8 296.8 326.6 296.8 323 296.4 322.8 296.4 319.3 296.2 319.1 296.2 315.4 296 315.3 296 312 296 310.8 296 308.8 296.1 306 296.5 303.7 297.2 302 298.3 300.7 299.7 300.6 300 299.7 301.3 299.3 302.2 298.9 302.9 298.3 304.3 298.1 304.7 297.4 306.3 297.4 306.4 296.5 308 296.1 308.5 295.4 309.6 293.9 310.8 291.9 311.7 289.2 312.2 286.2 312.3 286.1 312.4 282.9 312.5 281.5 312.5 279.6 312.5 276.6 312.7 276.5 312.7 273.5 313 270.9 313.5 268.8 314.3 267.1 315.4 265.7 316.7 265.4 317 264.4 318.1 263 319.4 262.1 319.9 261.3 320.5 259.1 321.3 258 321.5 256.6 321.8 253.8 322.3 251.3 322.8 249.2 323.7 247.4 324.7 245.3 325.5 243.1 326.4 241.3 327.4 239.3 328.3 236.7 328.8 234 329.2 233 329.5 231.4 329.8 229.3 330.6 228.1 331.4 227.6 331.7 226.2 333 225 334.2 224.9 334.4 223.6 335.7 221.9 336.9 219.7 337.7 217.1 338.2 214.2 338.4 214.1 338.4 210.9 338.6 209.3 338.6 207.7 338.7 204.5 338.8 204.3 338.9 201.6 339.1 199.1 339.7 197 340.5 195.4 341.7 194.7 342.6 194.2 343.1 193.2 344.7 193.1 344.9 192.4 346.4 192.2 346.9 191.7 348.2 191.4 348.9 191.1 350 190.8 350.9 190.6 351.9 190.1 352.8 190.1 353.8 189.4 354.8 190.3 356.1 194.1 356.4 194.1 356.4 197.8 356.6 197.8 356.6 201.6 356.9 201.6 356.9 205.4 357.1 205.4 357.1 209.1 357.4 209.1 357.4 212.9 357.6 212.9 357.6 216.7 357.9 216.7 357.9 220.4 358.1 220.4 358.1 224.2 358.4 224.2 358.4 227.9 358.6 226.6 357.4 227.4 356 227.3 355.5 227.9 354.1 227.9 353.5 228.4 352.3 228.7 351.5 229.1 350.5 229.7 349.4 230 348.9 231.2 347.4 231.9 346.9 232.8 346.2 234.9 345.4 236.5 345.1 237.5 344.9 240.5 344.6 242.4 344.5 243.7 344.5 246.7 344.3 248.3 344 249.4 343.8 251.5 342.9 252 342.5 253.1 341.8 254.5 340.5 256.1 339.3 258.3 338.5 260.9 338 263 337.2 265.1 336.3 267.7 335.8 269.9 335 271.5 333.8 272.5 332.9 272.9 332.6 274.6 331.4 276.7 330.6 279.3 330.1 280.1 330 282.3 329.8 285.3 329.7 285.5 329.7 288.6 329.5 291.2 329.1 291.3 329.1 293.5 328.3 293.5 328.2 295 327 295.9 325.6 296 325.5 296.8 323.8 297 323.5 297.7 322.1 298.1 321.3 298.5 320.5 299.7 319 299.8 319 301.3 317.8 303.5 317.1 305.4 316.8 306.3 316.7 309.6 316.6 310.3 316.6 313.1 316.7 314.3 316.8 316.9 316.9 318.1 317 320.8 317.3 321.6 317.4 324.7 317.9 325.5 318.2 327.2 318.6 328.9 319.6 329.8 321 329.8 321 330.2 322.6 330.2 323.4 330.2 324.3 330.1 325.6 330.1 326 330.1 327.7 330.1 327.8 330.3 329.3 331 330.7 331.1 330.7 332.7 331.8 332.8 331.8 335.1 332.6 338 333.1 338.2 333.2 341 333.7 343.1 334.1 343.8 334.3 346.1 335.1 347.7 336.2 348.7 337.5 348.9 337.9 349.4 339 350.4 340.3 352.1 341.3 354.2 342.2 355.9 343.2 357.5 344.3 359.7 345.2 361.4 346.2 362.3 347.5 363 349 363.7 349.9 364 350.3 365.6 351.4 366.5 351.7 367.9 352.2 370.7 352.8 371.9 353 373.7 353.4 376.4 354 377.3 354.3 378.7 354.8 380.3 355.9 380.8 356.7 381.2 357.3 381.6 358.8 381.6 359.4 381.6 360.5 381.5 361.6 381.4 362.3 381.2 363.6 381 364.2 380.8 365.5 380.5 366 380.5 367.5 378.6 368.5 382.3 368.7 382.3 368.7 386.1 369 386.1 369 389.8 369.2 389.8 369.2 393.6 369.5 393.6 369.5 397.4 369.7 397.4 369.7 401.1 370 401.1 370 404.9 370.2 404.9 370.2 408.7 370.5 408.7 370.5 412.4 370.7 412.4 370.7zM301.1 410.3L303 410 305.2 409.3 306.7 408.1 306.8 408.1 308 406.6 308.4 405.8 308.8 405 309.5 403.6 309.7 403.3 310.5 401.6 310.6 401.5 311.5 400.1 313 398.9 313 398.8 315.2 398 315.3 398 317.9 397.6 321 397.4 321.2 397.4 324.2 397.3 326.4 397.1 327.2 397 329.8 396.5 331.9 395.7 333.6 394.5 334 394.2 335 393.3 336.6 392.1 338.8 391.3 341.4 390.8 343.5 389.9 345.6 389.1 348.2 388.6 350.4 387.8 352 386.6 353.4 385.3 354.5 384.6 355 384.2 357.1 383.3 358.2 383.1 359.8 382.8 362.8 382.6 364.1 382.6 366 382.5 369 382.2 370 382 371.6 381.7 373.7 380.9 374.6 380.2 375.3 379.7 376.5 378.2 376.8 377.7 377.4 376.6 377.8 375.6 378.1 374.8 378.6 373.6 378.6 373 379.2 371.6 379.1 371.1 379.9 369.7 378.6 368.5 374.8 368.2 374.8 368.2 371 368 371 368 367.3 367.7 367.3 367.7 363.5 367.5 363.5 367.5 359.7 367.3 359.7 367.3 356 367 356 367 352.2 366.8 352.2 366.8 348.4 366.5 350 367.6 349.4 369.4 349.4 369.5 348.8 371.2 348.7 371.5 348 372.9 347.6 373.6 347 374.5 345.5 375.7 343.3 376.5 340.6 376.9 338.6 377.1 337.6 377.2 334.8 377.6 332.7 378.4 331.1 379.6 329 380.4 326.9 381.3 325.8 382.1 325.3 382.4 323.2 383.3 322.2 383.4 320.4 383.7 317.4 383.9 316 384.1 314.5 384.2 312.3 385 311.6 385.8 310.9 386.4 310 387.9 309.8 388.2 309.1 389.6 308.5 390.4 308.1 391.1 306.6 392.4 304.5 393.2 301.6 393.6 300.4 393.6 298.2 393.6 296.2 393.5 294.5 393.4 292.5 393.2 290.4 392.9 289.2 392.8 286.7 392 285 391 284.2 389.6 284.2 388.8 284.1 387.9 284.1 386.5 284.1 386.2 284 384.6 283.6 384 283.3 383.1 281.6 382.1 280.2 381.8 279 381.4 276.2 380.8 274.6 380.3 273.7 380 272.2 378.9 271.9 378.5 271.2 377.6 269.6 376.5 268 375.5 267 374.1 265.5 373 263 372.3 262 372.1 260.2 371.7 257.8 370.9 256.1 369.8 255.3 368.5 255.2 367.6 255.1 366.8 255.2 365.4 255.3 365.1 255.5 363.4 255.6 363.2 256 361.4 258.1 360.6 254.3 360.3 254.3 360.3 250.5 360.1 250.5 360.1 246.8 359.8 246.8 359.8 243 359.6 243 359.6 239.2 359.4 239.2 359.4 235.5 359.1 235.5 359.1 231.7 358.9 231.7 358.9 227.9 358.6 226 359.6 226 361.1 225.7 361.6 225.5 362.9 225.3 363.5 225.1 364.8 225 365.5 224.9 366.6 224.9 367.7 224.9 368.3 225.3 369.8 225.7 370.4 226.2 371.2 227.8 372.3 229.2 372.8 230.1 373.1 232.8 373.7 234.6 374.1 235.8 374.3 238.6 374.9 240 375.4 240.9 375.7 242.5 376.8 242.8 377.2 243.5 378.1 244.2 379.6 245.1 380.9 246.8 381.9 249 382.8 250.6 383.9 252.3 384.9 254.4 385.8 256.1 386.8 257.1 388.1 257.6 389.2 257.8 389.6 258.8 390.9 260.4 392 262.7 392.8 263.4 393 265.5 393.4 268.3 393.9 268.5 394 271.4 394.5 273.7 395.3 273.8 395.3 275.4 396.4 275.5 396.4 276.2 397.8 276.4 399.3 276.4 399.4 276.4 401.1 276.4 401.5 276.3 402.8 276.3 403.7 276.3 404.5 276.7 406.1 276.7 406.1 277.6 407.5 279.3 408.5 281 408.9 281.8 409.2 284.9 409.7 285.7 409.8 288.4 410.1 289.6 410.2 292.2 410.3 293.4 410.4 296.2 410.5 296.9 410.5 300.2 410.4 301.1 410.3zM231.8 427.8L232.7 428.2 235.3 428.8 237.4 429.3 238.3 429.4 241.4 429.9 241.9 430 244.6 430.4 246.3 430.6 247.9 430.8 250.8 431.3 250.9 431.4 253.6 432 255.8 432.9 257.2 434 258 435.4 258.1 436.1 258.3 437 258.3 438.5 258.3 438.7 258.2 440.4 258.2 440.6 258 442.2 257.9 442.7 257.8 444 257.7 444.8M344.7 366.3L348.4 366.5 350.5 365.7 350.9 363.9 351 363.7 351.2 362 351.3 361.7 351.4 360.3 351.3 359.5 351.2 358.6 350.4 357.3 348.7 356.2 346.3 355.4 344.5 355 343.5 354.8 341 354.1 339.5 353 338.5 351.6 336.9 350.6 335.3 349.5 334.6 348.6 334.3 348.2 332.8 347.1 331.9 346.8 330.3 346.3 327.5 345.7 326.3 345.3 324.9 345 323.2 344 322.9 343.1 322.5 342.5 322.4 340.9 322.4 340.6 322.4 339.2 322.3 338.3 322.3 337.5 321.5 336.1 319.8 335.1 317.3 334.3 316.1 334.2 314 333.9 312 333.7 310.3 333.6 308.3 333.5 306.1 333.5 304.9 333.5 302 333.9 299.9 334.7 298.4 336 298 336.7 297.4 337.5 296.7 338.9 296.5 339.2 295.6 340.7 294.9 341.3 294.2 342.1 292 342.9 290.5 343 289.1 343.2 286.1 343.4 284.3 343.7 283.3 343.8 281.2 344.7 280.7 345 279.6 345.8 277.5 346.7 275.4 347.5 273.8 348.7 271.7 349.5 268.9 349.9 267.9 350 265.9 350.2 263.2 350.6 261 351.4 259.5 352.6 258.9 353.5 258.5 354.2 257.8 355.6 257.7 355.9 257.1 357.6 257.1 357.7 256.5 359.5 258.1 360.6 261.8 360.8 261.8 360.8 265.6 361.1 265.6 361.1 269.4 361.3 269.4 361.3 273.1 361.6 273.1 361.6 276.9 361.8 278.9 360.9 279.4 359.2 279.5 359.1 280.3 357.4 280.7 357 281.6 356 283.8 355.3 285.8 355 286.6 354.9 288.8 354.1 290.9 353.2 293.8 352.9 296 352.1 297.2 350.7 297.3 350.5 298.2 349.2 299.3 348.1 299.5 347.8 301.6 346.9 302.4 346.9 304.6 346.6 307.2 346.7 308.2 346.8 310.8 347.1 312.7 347.5 313.5 347.7 315.1 348.8 315.1 349.1 315.6 350.3 315.7 351.7 315.7 351.9 316.2 353.5 317.9 354.5 320.5 355.2 322.2 356.3 323.8 357.3 324.5 357.5 326.3 358 328 359.1 328.5 360.1 328.6 360.6 328.6 362.3 328.6 362.4 328.1 364.2 329.6 365.3 333.4 365.5 333.4 365.5 337.1 365.8 337.1 365.8 340.9 366 340.9 366 344.7 366.3 344.7 366.3zM304.1 380.2L304.9 380.2 307 379.3 307.2 379 308.3 377.9 309.2 376.6 309.3 376.4 310.5 375 312.7 374.2 315.6 373.9 317.7 373 319.9 372.2 320.7 372.1 322.7 371.8 324.9 371.1 325.8 370.1 326.2 369.7 327 368 327.1 367.9 327.6 366.2 329.6 365.3 325.8 365 325.8 365 322.1 364.8 322.1 364.8 318.3 364.5 318.3 364.5 314.5 364.3 312.6 365.2 311.8 366.9 309.7 367.8 307.5 368.6 307.5 368.7 306.4 370 304.3 370.9 301.5 371 301 371 298.4 370.5 296.9 369.4 296.5 368 296.5 367.9 294.9 366.8 293.3 365.7 293.4 364 292 362.8 288.2 362.6 288.2 362.6 284.4 362.3 284.4 362.3 280.7 362.1 280.7 362.1 276.9 361.8 278.4 362.9 277.9 364.7 277.9 364.8 277.9 366.5 278 367 278.5 368 280.2 369.1 282 369.6 282.7 369.8 284.3 370.8 286 371.9 288.6 372.6 290.3 373.6 290.8 375.2 290.8 375.4 290.9 376.8 291.4 378 291.4 378.3 293 379.4 293.8 379.6 295.7 380 298.3 380.3 299.3 380.4 301.9 380.5 304.1 380.2zM310.8 364L314.5 364.3 313.1 363.1 313.2 361.4 311.6 360.3 310 359.2 310 359.1 309.6 357.7 308.1 356.6 305.5 356.1 305 356.1 302.2 356.2 300.1 357.1 299 358.4 299 358.5 296.8 359.3 294.7 360.2 293.9 361.9 292 362.8 295.7 363.1 295.7 363.1 299.5 363.3 299.5 363.3 303.2 363.5 303.2 363.5 307 363.8 307 363.8 310.8 364 310.8 364zM378.7 302L378.8 302.1 379.6 303.5 380.2 305 380.2 305.1 380.5 306.5 380.9 307.9 381 308.1 381.7 309.5 382.8 310.8 384.4 311.8 386.5 312.7 389 313.5 389.8 313.7 391.6 314.2 394.1 314.9 396.2 315.8 397.8 316.9 398.9 318.1 399.9 319.5 401.1 320.7 402.8 321.8 404.8 322.7 406.4 323.8 408 324.8 410 325.7 411.7 326.8 412.9 328 413.9 329.4 414.1 329.6 415 330.6 416.6 331.7 418.5 332.5 418.7 332.6 421.2 333.3 423.8 334 424.7 334.3 426.2 334.8 428.3 335.7 429.9 336.8 431.1 338 431.4 338.7 431.8 339.4 432.3 341 432.4 341.6 432.6 342.5 433.1 344.1 433.2 344.3 433.7 345.5 434.9 346.8 436.6 347.8 438.8 348.6 440.2 348.9 441.6 349.3 444.6 349.8 445.1 349.9 447.7 350.3 449.5 350.6 450.9 350.8 453.9 351.3 454 351.3M152.5 375.8L152.6 375.8 155.6 376.3 157 376.5 158.8 376.8 161.4 377.2 161.9 377.3 164.9 377.8 166.3 378.2 167.7 378.5 169.9 379.3 171.6 380.3 172.8 381.6 173.3 382.8 173.4 383 173.9 384.6 174.1 385.5 174.2 386.1 174.7 387.7 175.1 388.4 175.4 389.1 176.6 390.3 178.2 391.4 180.3 392.3 181.8 392.8 182.7 393.1 185.3 393.8 187.8 394.5 188 394.6 189.9 395.4 191.5 396.5 192.4 397.5 192.6 397.7 193.6 399.1 194.8 400.3 196.5 401.4 198.5 402.3 200.1 403.3 201.7 404.4 203.7 405.3 205.4 406.4 206.6 407.6 207.6 409 208.7 410.2 210.3 411.3 212.4 412.2 214.9 412.9 216.7 413.4 217.5 413.6 220 414.4 222.1 415.3 223.7 416.3 224.8 417.6 225.5 419 225.6 419.2 226 420.6 226.3 422 226.3 422.1 226.9 423.6 227.7 425 227.8 425.1M348.8 282.3L348.7 283.1 348.6 284.4 348.5 284.9 348.3 286.5 348.3 286.7 348.2 288.4 348.2 288.6 348.2 290.1 348.4 291 348.5 291.7 349.3 293.1 350.7 294.2 352.9 295.1 355.6 295.7 355.7 295.8 358.6 296.3 360.2 296.5 361.9 296.7 364.6 297.1 365.1 297.2 368.2 297.7 369.1 297.8 371.2 298.3 373.8 298.9 374.7 299.3M115 351.2L118.8 351.4 118.8 351.4 122.5 351.7 122.5 351.7 126.3 351.9 126.3 351.9 130.1 352.2 130.1 352.2 133.8 352.4 133.8 352.4 137.6 352.7 137.6 352.7 141.4 352.9 141.4 352.9 145.1 353.2 144.9 351.5 145.4 351.1 145.6 349.6 145.9 349.2 146.2 347.6 146.4 347.4 146.9 345.7 147 345.5 147.5 343.8 147.5 343.7 148.2 341.9 148.2 341.8 148.9 340.1 149.2 339.7 149.8 338.5 150.4 337.5M164 332.3L164.1 332.3 167.3 332.2 168.8 332.2 170.6 332.1 173.4 332.1 173.9 332.1 177.1 331.9 178.6 331.8 180.1 331.6 182.7 331.1 184.9 330.4 186.6 329.3 187.7 328.2 188 328 189.2 326.6 189.9 325.7 190.4 325.1 191.6 323.7 192.4 323 193.1 322.4 194.8 321.3 197 320.5 199.4 319.9 201.1 319.7 202.2 319.5 205 319.2 207.8 318.8 208.1 318.7 210.3 318.2 212.4 317.3 213.9 316.4 214.2 316.3 215.8 315.1 217.6 314.1 219.8 313.3 222.2 312.6 224.3 311.8 226.5 311 228.9 310.3 231 309.5 232.8 308.5 234.5 307.3 236.2 306.3 238.4 305.5 240.8 304.9 243.6 304.5 245.6 304.2 246.5 304.1 249.3 303.7 251.8 303.1 253.9 302.3 255.6 301.2 257 299.9 257.2 299.7 258.3 298.5 259.3 297.2 259.4 297.1 260.7 295.7 262.2 294.4 262.4 294.3M267.7 292.3L268.7 292.1 271.6 291.7 273.9 291.6 274.8 291.6 278 291.5 278.6 291.5 281.4 291.5 283.1 291.4 284.7 291.4 287.9 291.3 287.9 291.3 290.9 291.1 293.5 290.5 295.5 289.6 296.9 288.3 297.4 287.6 298.1 286.8 298.8 285.4 298.9 285.2 299.7 283.5 299.8 283.3 300.5 281.7 300.7 281.3 301.2 280 301.6 279.2M321.1 271.7L322.4 271.7 325 271.9 326.1 271.9 328.8 272.1 329.9 272.2 332.5 272.4 333.8 272.5"/>
<path stroke="#87bf77" d="M298.7 450.3L299.3 449.8 300.5 448.4 301 447.7 301.5 446.8 302.2 445.6 302.3 445.1 302.9 443.6 303 443.3 303.4 441.7 303.4 441.4 303.7 439.9 303.6 439.3 303.7 438.2 303 436.7 303 436.7 301.8 435.5 300.3 434.9 299.6 434.6 296.9 434 295.2 433.8 293.6 433.6 291.1 433.3 290.1 433.2 287.1 433 286.5 432.9 283.4 432.7 282.7 432.7 279.7 432.5 278.7 432.5 276.1 432.4 274.5 432.4 272.8 432.4 269.8 432.7 269 432.9 267.2 433.2 265.4 434.2 265.4 434.3 264 435.6 263.5 436.7 263.1 437.2 262.6 438.7 262.4 439 262 440.7 261.9 440.9 261.7 442.5 261.6 442.9 261.6 444.2 261.6 445.1 261.7 445.9 262.2 447.4 262.5 447.9M444.5 392.3L445.2 392.2 447.6 391.6 449.7 390.7 450.9 389.9 451.3 389.6 452.7 388.2 453.4 387.2 453.7 386.7 454.4 385.1 454.5 385 455 383.2 455 383.1 455.1 381.5 455 380.8 454.8 379.9 454 378.5 452.6 377.3 450.6 376.4 448.1 375.7 446.7 375.4 445.1 375.1 442.4 374.8 441.7 374.7 438.5 374.5 438 374.4 434.9 374.3 433.9 374.3 431.5 374.3 429.1 374.5 428.4 374.5 425.7 374.9 423.4 375.7 421.6 376.7 420.6 377.8 420.3 378.1 419.2 379.6 418.9 380.1 418.3 381.2 417.9 382.2 417.6 383 417.1 384.2 417 384.8 416.4 386.2 416.3 386.6 415.6 388.2 415.6 388.3 414.7 389.9 412.7 390.9 409.6 391.1 408.4 391 406.1 391 404.2 390.9 402.6 390.9 399.9 390.9 399.1 390.9 395.9 391 395 391 392.9 391.2 390.4 391.8 388.2 392.6 386.5 393.7 385.3 394.8 385.1 395 383.8 396.4 382.8 397.5 382.5 397.7 380.9 398.9 378.7 399.7 376.1 400.2 375.5 400.3 373.3 400.6 370.8 401.1 368.7 402 366.9 403 364.7 403.9 362.6 404.7 360.8 405.8 358.7 406.6 356.2 407.1 353.4 407.6 350.9 408.1 349.1 408.8 348.7 408.9 348.7 408.9 347 410 345.7 411.3 345.1 412 344.5 412.8 343.2 414.2 342.6 414.6 341.7 415.4 339.6 416.2 338 416.4 336.8 416.6 333.7 416.8 332.6 416.8 330.4 416.9 327.9 416.9 327.1 416.9 324 417.1 322.6 417.3 321.1 417.4 318.6 418 316.5 418.9 314.8 420 314.5 420.4 313.6 421.4 312.7 422.8 312.6 423 311.9 424.8 311.9 424.8 311.4 426.7 311.4 426.7 311.3 428.4 311.5 428.9 311.7 430 312.8 431.3 314.8 432.2 317.2 432.7 317.6 432.8 320.9 433.2 321.5 433.2 324.7 433.5 325.2 433.5 328.7 433.5 328.9 433.5 331.9 433.4 334.3 433.2 334.8 433.1 337.3 432.5 339.5 431.8 341.3 430.7 341.9 430.2 342.8 429.5 344 428 344.4 427.6 345.1 426.5 346 425.2 346.1 425 347.3 423.5 348.7 422.5 348.9 422.3 351 421.5 351.5 421.4 353.6 421 356.6 420.8 357.7 420.7 359.7 420.5 362.6 420.2 364.6 419.8 365.1 419.7 367.2 418.8 367.5 418.6 368.9 417.7 370.5 416.5 372.2 415.4 374.4 414.6 376.8 414 379 413.2 381.1 412.4 383.6 411.8 385.8 411 387.5 409.9 389 408.7 389.2 408.6 390.7 407.5 392.8 406.7 395.3 406.2 395.4 406.2 398.3 405.9 401.3 405.6 401.4 405.6 404 405.2 406.5 404.6 408.7 403.8 410.4 402.7 411.5 401.7 411.8 401.4 412.9 399.9 413.3 399.3 413.8 398.2 414.4 397.2 414.5 396.5 415.4 395.1 415.4 394.9 416.5 393.4 418.8 392.6 421.6 392.7 422.1 392.6 425.7 392.7 425.8 392.7 429.2 392.8 429.9 392.9 432.8 392.9 434.1 393 436.2 392.9 438.6 392.9 439.4 392.9 442.5 392.6 444.5 392.3zM268.1 451.6L268.5 451.7 271.3 452.4 273.1 452.6 274.4 452.9 277.3 453.2 277.9 453.2 281.1 453.4 281.7 453.4 284.6 453.5 286 453.5 287.9 453.5 290.9 453.2 291.4 453.1M468.2 360.6L468.2 361.1 468 362.7 468 362.9 467.9 364.6 467.9 364.9 467.9 366.3 468.2 367.3 468.3 367.9 469.1 369.3 470.3 370.5 472.2 371.4 474.6 372.2 476.1 372.5 477.5 372.8 480.7 373.2 480.7 373.3 484.2 373.6 484.7 373.7 487.8 373.9 488.5 374M253.8 428.5L256.4 428.4 258.8 427.7 260.5 426.6 261.2 425.6 261.7 425.2 262.5 423.5 262.5 423.5 263 421.6 263.1 421.6 263.3 419.8 263.3 419.5 263.2 418.1 262.8 417 262.7 416.6 261.7 415.3 260.1 414.2 258 413.3 256.6 412.9 255.4 412.6 252.4 412 251.7 411.9 249.3 411.6 247.2 411.2 246.2 411.1 243.2 410.5 242.2 410.2 240.8 409.8 239.1 408.7 238.6 407.8 238.3 407.3 237.8 405.8 237.6 404.9 237.4 404.2 236.8 402.8 235.8 401.5 235.8 401.5 235.5 401.3 234.1 400.4 231.9 399.6 229.4 398.8 227.2 398 225.7 396.9 224.5 395.6 222.9 394.6 221.2 393.5 220.1 392.2 218.5 391.2 216.3 390.3 214.4 389.7 213.8 389.6 211.5 388.7 209.9 387.7 208.9 386.4 208.8 386 208.3 384.9 207.9 383.4 207.8 383.1 207.2 381.9 206.1 380.6 204.4 379.6 202.2 378.7 200.3 378.3 199.5 378.1 196.4 377.6 195.7 377.5 193.1 377.2 191.5 376.9 189.6 376.8 187.4 376.5 186.2 376.4 183.4 375.8 181.9 374.7 181.8 373 181.9 372.8 182 371.2 182.2 370.8 182.4 369.4 182.5 368.8 182.7 367.6 182.8 366.8 182.9 365.8 182.9 364.6 182.9 364.1 182.7 362.5 182.5 362.1 182.1 361 180.9 359.8 179.1 358.8 176.7 358 176 357.9 173.8 357.4 171.4 357.1 170.5 357 167.4 356.7 166.9 356.7 163.7 356.5 163 356.5 160.3 356.4 158.5 356.5 157.1 356.6 154.2 356.9 151.8 357.6 149.9 358.5 148.4 359.8 147.7 360.7 147.3 361.3 146.6 362.8 146.5 363 146 364.7 146 364.9 145.9 366.5 145.9 367 146.1 368.1 146.7 369.6 146.9 369.9 147.7 370.9 149.2 372 151.2 372.9 151.8 373.1 153.6 373.7 156.4 374.3 157.2 374.4 159.6 374.8 161.6 375.1 162.9 375.2 165.7 375.5 166.3 375.6 169.7 375.9 169.8 375.9 173.3 376.3 173.8 376.4 176.5 376.7 178.4 377.7 178.7 379.3 178.6 379.5 178.6 381 178.4 381.7 178.5 382.8 178.4 383.9 178.5 384.5 178.7 386.1 178.8 386.4 179.4 387.5 180.5 388.8 182.1 389.9 184.2 390.8 186.6 391.5 186.7 391.5 189.5 392.2 192.1 392.9 192.1 392.9 194.3 393.7 195.9 394.8 196.8 395.9 196.9 396.1 197.8 397.4 198.9 398.7 200.6 399.8 202.6 400.7 204.3 401.7 205.9 402.8 208 403.7 209.7 404.8 210.8 406 211.6 407.4 212.5 408.5 212.7 408.7 214.3 409.8 214.8 409.9 216.5 410.6 219.1 411.3 220.9 411.7 221.9 411.9 224.7 412.6 226.6 413.2 227 413.4 228.6 414.4 228.7 414.6 229.5 415.8 229.9 417.4 229.9 417.6 230.1 419 230.2 420.1 230.3 420.6 230.8 422.1 231.2 422.9 231.5 423.5 232.7 424.7 234.4 425.8 236.6 426.7 237 426.8 239.3 427.3 242.1 427.8 242.3 427.9 245.7 428.3 246.2 428.3 249.4 428.5 249.9 428.6 253.4 428.6 253.8 428.5zM403.3 367.4L404.1 367.4 407 367.2 409.6 366.6 411.6 365.7 413.1 364.5 413.8 363.4 414.1 362.9 414.6 361.4 414.6 361 414.7 359.7 414.4 358.7 414.2 358.1 413.2 356.8 411.7 355.7 409.5 354.8 407.9 354.4 406.9 354.2 403.8 353.6 403.2 353.5 400.4 353.3 399.2 353.1 396.6 353 395.5 352.9 392.2 353 392.1 353.1 389.7 353.6 389.4 354.1 388.4 355 387.8 356.4 387.7 356.7 387.2 358.3 387.2 358.6 387 360.1 386.9 360.7 387 361.8 387.4 363.2 387.5 363.3 388.5 364.6 390.2 365.7 392.2 366.3 392.6 366.5 395.6 367 396.8 367.1 399.1 367.3 400.6 367.4 403.3 367.4zM294.6 407.7L295.9 407.6 298.6 407.2 300.8 406.4 302.5 405.3 303.4 404.3 303.7 403.8 304.4 402.2 304.4 402.1 304.4 400.5 304 399.6 303.8 399 302.2 397.9 300.8 397.5 299.8 397.2 296.8 396.6 296 396.6 293.1 396.4 292.3 396.3 289.1 396.4 288 396.6 286.3 396.9 284.3 397.8 283.8 398.3 282.9 399.1 282.1 400.6 282 400.7 281.9 402.4 281.9 402.9 282.2 403.9 283.3 405.3 285 406.3 287.4 407.1 288.6 407.3 290.5 407.5 292.6 407.7 294.6 407.7zM363.5 379.4L364.6 379.3 367.3 378.9 369.4 378.1 371 376.8 371.2 376.4 371.7 375.1 371.7 374.5 371.1 373.1 369.5 372 367.1 371.2 365.3 370.9 363.8 370.8 361.7 370.8 358.8 371.1 356.7 371.9 355.2 373.2 354.5 374.4 354.3 374.8 354.2 376.2 354.7 377.3 354.8 377.7 356.6 378.7 356.9 378.7 359.5 379.3 361.2 379.4 363.5 379.4zM321.8 393.8L322.3 393.8 325.2 393.5 327.3 392.6 328.6 391.3 328.8 391.1 328.9 389.3 328.2 388.8 327.5 388.2 327.2 388.2 324.5 387.7 323.1 387.7 320 387.9 317.8 388.7 316.6 390.1 316.4 390.8 317 392.2 318.8 393.3 321.8 393.8zM340 385.1L342.7 385 345 384.3 345.6 382.9 344.3 381.7 340.7 381.4 338.7 382.3 338 384.1 335.9 384.9 338.1 384.2 340 385.1zM436.2 339.6L436.5 341 437 342.4 437 342.5 437.8 343.9 439 345.2 440.7 346.2 442.9 347.1 445 347.6 445.5 347.8 448.4 348.3 449.7 348.5M384.8 350.8L385.4 350.8 386.4 350.2 387.2 349.7 388.1 348.1 388.1 347.8 388.4 346.1 388.4 346 388 344.4 387.1 343.1 385.4 342 383.1 341.2 380.5 340.6 379.5 340.2 378 339.8 376.5 338.7 376 337.9 375.5 337.4 373.9 336.3 372.3 335.2 371.2 333.9 369.6 332.8 367.3 332 366.8 331.9 364.4 331.5 361.8 330.8 360.1 329.7 359.5 328.3 359.5 327.1 359.4 326.6 359.2 325 359.1 324.6 358.6 323.5 357.6 322.2 355.9 321.1 353.7 320.3 351.9 319.9 350.8 319.7 347.7 319.4 347.3 319.3 344.1 319.3 342.7 319.4 341.2 319.5 338.9 320.3 337.3 321.4 337.2 321.6 336.2 322.9 335.9 323.7 335.7 324.8 335.6 325.6 335.9 327.2 335.9 327.2 336.8 328.5 338.4 329.6 340.7 330.4 340.8 330.4 343.6 331 345.6 331.4 346.7 331.5 349.8 332 350.1 332.1 352.7 332.6 354.2 333.7 354.6 335 354.7 335.2 355.1 336.7 355.9 338.1 355.9 338.1 356.3 338.3 357.6 339.2 359.9 340 361.6 341 363.2 342.1 365.5 342.9 367.2 344 368.1 345.3 368.3 346.2 368.6 346.8 369.5 348.2 371.1 349.3 373.4 350.1 374.5 350.3 376.5 350.6 378.8 350.9 380.1 350.9 382.5 351.1 384.8 350.8zM269.1 390.3L269.6 390.4 272.8 390.2 275.1 389.5 276.4 388.1 276.5 387.5 276.1 385.9 274.4 384.9 271.6 384.3 270.2 384.1 267.3 384.2 267 384.2 266 384.7 265.1 385.2 264.3 386.9 264.3 387.1 264.9 388.5 266.5 389.6 269.1 390.3zM417.3 327.2L417.7 327.9 418.9 329.1 420.5 330.2 422.6 331.1 423.6 331.4M258.8 379L260.6 380 259 378.9 259.2 377.1 257.8 376 254.2 375.8 252.3 376.8 252.1 378.2 253.9 379.2 256.6 379.6 258.8 379zM404.8 319.1L405 319.2 406.6 320.3 406.6 320.3M243.6 371.3L243.9 371.3 246.1 370.5 246.4 370.2 247.5 369.2 248 367.9 248.1 367.4 248.1 366.1 247.3 364.7 245.7 363.7 243.1 363 241 362.7 239.5 362.7 237.6 362.7 234.8 363.1 232.8 364 231.4 365.3 231.2 365.9 230.9 367.2 230.9 367.7 231.8 369 233.4 370.1 235.8 370.9 236.8 371.1 239 371.3 240.8 371.5 243.6 371.3zM309.5 342.5L311.5 342.3 313.6 341.5 314.3 340.6 314.5 339.8 314.2 338.9 312.5 337.9 311.1 337.6 309.2 337.4 307.7 337.6 305.5 338.4 304.8 339.2 304.5 339.9 304.7 340.9 306.3 342 308.2 342.4 309.5 342.5zM384.7 305.9L384.9 306.6 385.6 308 386.7 309.2 388.4 310.3 390.5 311.2 392.9 312 394.7 312.5M324.4 314.6L326.7 314.5 329.2 313.9 331.2 313 332.6 311.7 332.8 311.4 333.6 310.1 333.8 309.3 334.2 308.3 334.3 307.4 334.5 306.3 334.5 305.6 334.2 304 334.1 303.8 333.5 302.6 332.3 301.3 330.5 300.3 328.2 299.5 327.3 299.3 325.4 298.9 322.8 298.6 322 298.5 318.9 298.3 318.2 298.3 315.5 298.3 313.5 298.4 312.4 298.5 309.8 299 307.5 299.7 305.7 300.8 304.5 301.9 304.3 302 303.2 303.6 302.9 304.2 302.4 305.3 302.1 306.2 302 307.2 301.8 308 301.9 309.3 301.9 309.7 302.5 311.1 304 312.3 306.2 313.1 308.3 313.5 309.1 313.7 312.4 314.1 312.6 314.2 316 314.4 316.5 314.5 319.9 314.6 320.1 314.6 323.6 314.7 324.4 314.6zM215.9 354.8L218.1 354.4 220.3 353.6 222 352.5 222.1 352.4 223.3 351.1 223.9 350 224.2 349.5 224.8 347.9 224.8 347.7 225.3 346 225.3 345.7 225.5 344.3 224.9 343.3 224.9 342.8 222.9 342 222.8 341.9 219.7 341.4 218.6 341.4 216 341.1 214.8 341.1 211.9 341 211.3 341 208 341.1 207 341.2 205.1 341.4 202.6 342 200.5 342.9 198.9 344 198.4 344.5 197.7 345.4 197 346.8 196.9 347.1 196.5 348.6 196.6 349.2 196.7 350.3 197.5 351.7 199 352.8 201.1 353.7 203.9 354.3 204.6 354.4 207.2 354.7 208.7 354.9 211 355 212.3 355 215.4 354.8 215.9 354.8zM284.2 326.7L284.3 326.7 286.9 326.2 289.1 325.4 290.6 324.2 290.7 324.2 291.8 322.7 292.1 322 292.4 320.9 292.6 320.1 292.3 318.6 292.3 318.5 291.4 317.1 289.5 316.2 288.1 315.8 286.8 315.5 283.7 315.2 283.4 315.1 280.1 315.1 279 315.1 277.1 315.3 274.5 315.8 272.3 316.6 270.6 317.7 269.6 318.7 269.3 319.1 268.3 320.6 267.9 321.1 267.3 322.2 265.9 323.5 263.7 324.3 260.9 324.7 258.4 324.8 257.8 324.8 255.1 325.3 253 326.2 251.3 327.3 249.2 328.1 247.1 328.9 246.3 329.4 245.5 330.1 243.4 331 241.8 331.2 240.6 331.4 237.7 331.7 235.1 332.2 232.9 333 231.3 334.2 230.1 335.6 230.1 335.7 229.5 337.4 229.3 337.7 229.3 339.4 229.9 339.9 230.5 340.6 231.1 340.7 233.2 341.3 235.6 341.4 236.9 341.6 239.3 341.6 241.3 341.5 242.5 341.5 245.1 341 247.2 340.2 248.8 339 249.4 338.4 250.1 337.6 251.6 336.4 253.8 335.6 256.5 335.1 258.6 334.3 260.8 333.5 263.4 333 265.2 332.4 265.6 332.2 265.6 332.2 267.1 331 268.3 329.5 268.6 329.3 269.6 328.1 271.6 327.3 274.4 327.1 274.7 327 278 327 279.1 327 281.3 326.9 284.2 326.7zM352.3 284.6L352.2 285.2 352.2 286.8 352.2 286.9 352.4 288.5 352.7 289.4 352.9 290 353.9 291.3 355.4 292.4 357.5 293.3 359.9 294.1 359.9 294.1 362.7 294.7 364.8 295.1 365.8 295.2 369 295.7 369.2 295.7M118.9 349.7L119.6 349.7 122.7 349.9 123.3 349.9 126.8 350 126.8 350 130.1 350 131.6 349.9 133.2 349.8 136 349.4 138.3 348.7 140.1 347.7 141.6 346.4 142 345.9 142.8 345 143.5 343.6 143.7 343.4 144.5 341.7 144.6 341.5 145.2 339.9 145.4 339.5M169.6 330.1L170.9 330.1 174.1 329.9 174.7 329.9 176.9 329.6 179.5 329.1 181.7 328.3 183.5 327.2 185 326 185.1 325.8 186.2 324.6 187.3 323.3M203.7 317L204.8 316.8 207.3 316.2 209.4 315.4 211.2 314.3 212 313.8M225.9 308.4L225.9 308.4 228.1 307.6 228.3 307.5M241.5 302.4L243.5 302.2 246.3 301.7 248.7 301.2 250.9 300.3 252.6 299.3 254.1 298 254.6 297.3M274.8 289.5L275.1 289.5 278.4 289.5 279.4 289.5 281.6 289.4 284.6 289.1 284.6 289.1 287.4 288.7 289.8 288.1 291.9 287.2 293.5 286.1 294.1 285.5 294.8 284.7 295.9 283.2 296 283.1 296.7 281.5 297 281M325.2 270.1L326.9 270.2 328.9 270.4 330.7 270.5"/>
<path stroke="#d1bb59" d="M287.2 451.3L287.9 451.3 290.6 450.8 292.9 450 294.8 449.1 296.3 447.9 296.4 447.8 297.5 446.4 298.1 445.4 298.4 444.8 298.9 443.4 298.9 442.9 299 441.7 298.8 440.6 298.7 440.1 297.8 438.7 296.4 437.6 294.5 436.6 292 435.9 291.5 435.8 289 435.3 287 435.1 285.6 435 283.2 434.8 281.7 434.8 279.7 434.7 277 434.9 276.5 434.9 273.7 435.3 271.3 435.9 269.4 436.9 267.8 438.1 267.5 438.5 266.7 439.6 266.1 440.8 265.9 441.3 265.6 442.6 265.6 443.3 265.6 444.3 266 445.8 266.1 445.9 266.9 447.2 268.3 448.4 270.1 449.4 272.4 450.2 273 450.4 275.2 450.9 277.7 451.2 278.5 451.3 281.5 451.5 282.3 451.5 284.9 451.5 287.2 451.3zM440.5 390.5L442.2 390.2 444.6 389.6 446.7 388.7 448.3 387.6 448.5 387.4 449.5 386.1 450.1 385.1 450.3 384.4 450.5 383.2 450.4 382.3 450.2 381.6 449.4 380.2 448 379.1 446 378.1 443.5 377.4 442.8 377.3 440.4 376.9 438.6 376.7 436.7 376.6 435 376.6 432 376.8 431.9 376.8 429.2 377.3 427 378 425.1 379 424.5 379.7 423.8 380.4 422.7 381.9 422.7 382.1 422.1 383.7 422.1 384 422.1 385.7 422.2 386 422.7 387.2 423.9 388.4 425.8 389.4 428.4 390 428.4 390.1 431.6 390.5 432.6 390.6 435.4 390.7 436.2 390.7 439.4 390.6 440.5 390.5zM331.1 431L331.5 431 334.1 430.5 336.3 429.7 338.1 428.6 338.6 428.1 339.4 427.2 340.2 425.8 340.2 425.6 340.5 424 340.3 423.4 340.1 422.4 338.8 421.2 336.6 420.4 335.3 420.1 333.7 419.8 331.1 419.6 330 419.5 327.6 419.5 325.1 419.7 324.6 419.8 322.1 420.3 320 421.2 318.6 422.2 318.4 422.4 317.3 423.9 317.1 424.5 316.9 425.8 316.9 426.3 317.4 427.8 318.7 429 320.6 430 323.2 430.7 324.6 430.8 326.5 431.1 328.4 431.1 331.1 431zM399.5 402.9L400.4 402.8 403 402.3 405.2 401.5 406.8 400.3 407 400 407.6 398.7 407.8 398 407.4 396.5 406.8 395.9 406.1 395.2 405.3 394.9 404 394.4 401 393.8 400.2 393.8 396.8 393.8 396.7 393.8 394.1 394.2 392 395.1 390.3 396.2 390.3 396.3 389.3 397.8 389 398.5 389 399.7 388.9 400.2 389.8 401.6 391.9 402.4 393.3 402.6 395.2 402.9 397.2 402.9 399.5 402.9zM357.5 417.4L358.3 417.4 361.1 417 363.2 416.2 364.7 414.9 365 414.5 365.4 413.2 365.8 412.5 365.1 411.1 362.1 410.5 361.4 410.6 357.9 410.4 357.8 410.5 355.1 410.8 352.9 411.6 351.4 412.9 351.4 413 351 414.8 351.1 414.9 352 416.1 354.1 417 354.4 417.1 357.5 417.4zM370.4 410.7L371.7 410.6 373.8 409.8 376 409 379 408.8 381.2 408 382.3 406.5 382.4 406.1 381.4 404.8 378.8 404.1 378.6 404.1 375.5 404.2 373.4 405.1 372.1 406.5 370 407.3 367.9 408.1 367.6 408.4 367.6 410.1 370.4 410.7zM471.8 363L471.7 363.1 471.9 364.8 472.1 365.4 472.4 366.3 473.2 367.7 474.6 368.8 476.4 369.8 478.7 370.6 480.8 371.1 481.5 371.3 484.6 371.8 485.3 371.8M247.6 425.8L249.1 425.8 252 425.5 254.3 424.8 256.1 423.7 257.4 422.4 257.7 421.9 258.2 420.6 258.3 420 258 418.4 257.9 418.3 257.1 417.1 255.5 416 253.4 415.1 253 415 250.6 414.5 248.3 414.2 247.2 414.1 244.6 414 242.9 414 241.4 414.1 238.9 414.7 237 415.7 236.3 416.6 235.8 417.1 235.3 418.7 235.2 418.9 235.2 420.4 235.5 421.3 235.8 421.9 236.9 423.1 238.6 424.2 240.9 425 241.3 425.1 243.9 425.6 245.6 425.7 247.6 425.8zM402.7 364.3L405.2 363.8 407.2 362.8 407.7 362.3 408.4 361.4 408.6 360.3 408.2 359.1 408.1 358.8 406.5 357.7 405.6 357.4 404.1 356.9 401 356.5 400.7 356.5 397.9 356.8 395.6 357.5 394 358.6 393.7 359.3 393.3 360.4 393.4 361.1 394.2 362.4 396 363.5 398.6 364.2 399.1 364.2 402.6 364.3 402.7 364.3zM226 408.6L226.3 408.6 228.8 408 230.3 407 230.4 406.9 231.1 405.1 231.1 405 230.3 403.6 228.6 402.5 226.1 401.8 226.1 401.8 222.6 401.5 221.9 401.3 218.8 401.5 217.3 402.7 217.4 403.5 217.1 404.8 217.2 405.2 218 406.7 219.5 407.7 222.1 408.5 222.9 408.6 226 408.6zM212.6 400.2L213.9 400.5 216.9 400.2 217.7 398.6 217.6 398.3 216 397.2 214.4 396.1 213.8 394.7 212.3 393.5 209.4 393 209.2 392.9 206.3 393.3 204.7 394.4 204.6 394.8 204.8 396.4 206.5 397.5 209.4 398.1 211 399.1 212.6 400.2zM196 389.6L197.4 389.7 199.9 389.1 201.5 387.9 201.6 387.5 202.3 386.2 202.3 385.5 202.2 383.9 202.1 383.9 201.2 382.5 199.5 381.5 197.3 380.7 197.2 380.7 193.9 380.3 193.1 380.2 189.9 380.3 188.4 380.7 187.4 380.9 186.4 381.5 185.5 381.9 184.4 383.3 184.2 384 184.1 385.4 184.2 385.7 185.1 387 186.7 388.1 189 388.9 189.8 389.1 192 389.5 194 389.7 196 389.6zM345.5 326.9L345.6 326.9 349 326.9 350.7 325.8 350.7 324.8 349 323.8 347.3 323.6 344.8 324.1 343.9 325.8 343.9 325.8 345.5 326.9zM168.6 373L171.5 372.7 173.8 372 175.6 371 176.6 369.9 176.9 369.6 177.8 368 177.9 367.7 178.3 366 178.3 365.9 178.1 364.2 177.8 363.5 177.5 362.8 176.2 361.6 174.5 360.5 172.1 359.7 172.1 359.7 169.2 359.2 167.5 359 165.7 358.8 163.8 358.8 161.3 358.8 160.6 358.9 157.8 359.2 155.4 359.9 153.4 360.8 151.9 362 151.4 362.6 150.8 363.6 150.4 364.7 150.2 365.4 150.2 366.5 150.6 367.9 150.6 368 151.6 369.4 153.1 370.5 155.2 371.4 156.7 371.8 157.7 372.1 160.7 372.7 161.4 372.8 164.3 373 165.3 373 168.6 373 168.6 373zM324.2 311.3L324.9 311.1 326.5 310.4 326.9 310.2 328.4 308.9 329.1 307.7 329.2 307.3 329.3 305.9 329.1 305 328.9 304.4 327.7 303.1 325.9 302.1 323.7 301.4 323.5 301.4 320.3 300.9 319.4 300.8 316.1 300.9 315.9 300.9 313.3 301.3 311.1 302 309.3 303.1 308.8 303.6 308 304.5 307.4 305.8 307.4 306.3 307.4 307.5 308.2 309 308.5 309.2 309.6 310.1 310.2 310.3 311.8 311 314.6 311.6 315.6 311.7 318.3 311.9 319.3 311.9 322.4 311.7 324.2 311.3zM210.3 351.8L210.9 351.8 213.7 351.5 216 350.7 217.5 349.5 217.9 348.9 218.2 347.8 218.1 347.1 217.2 345.8 215.3 344.8 212.8 344.2 212.5 344.2 209.3 344.1 207.6 344.4 206.5 344.6 204.5 345.4 204.2 345.7 203.2 346.8 202.8 347.9 203 348.9 203.2 349.5 204.6 350.6 206.8 351.4 206.9 351.4 210.3 351.8zM281.4 322.7L281.6 322.7 283.7 321.8 283.7 321.8 283.6 320.1 281.5 319.3 279.7 319.2 277.6 320 277.1 321 278.1 322.3 281.4 322.7zM356.4 287.3L356.8 288.5 357.9 289.8 359.4 290.9 361.4 291.8 363.8 292.6 364.7 292.8M123.1 348.1L123.8 348.1 127.1 348 127.8 348 130.1 347.8 132.7 347.3 135 346.6 136.9 345.6 138.5 344.4 139.2 343.5 139.7 343 140.7 341.4 140.8 341.2M280.7 287.3L281.7 287.2 284.4 286.8 286.8 286.1 288.9 285.3 290.5 284.1 291.6 283.1"/>
<path stroke="#ffc337" d="M284 449.1L284.7 449.1 287.4 448.7 289.7 448 291.6 447 293.1 445.7 293.1 445.6 293.9 444.1 294.1 443.6 294.1 441.9 294.1 441.9 293.3 440.5 291.9 439.3 289.9 438.4 287.8 437.8 287.3 437.7 284 437.3 283.5 437.2 280.1 437.2 279.6 437.3 277.2 437.6 274.8 438.2 272.9 439.2 271.4 440.4 271.3 440.4 270.5 442 270.3 442.5 270.3 444.2 270.3 444.2 271.1 445.6 272.4 446.8 274.2 447.8 276.7 448.6 277.3 448.7 279.8 449.1 281.4 449.2 284 449.1zM438.9 387.7L441 387.2 443 386.3 443.4 385.9 444.3 385 444.7 383.7 444.6 382.9 444.3 382.2 443 381 440.9 380.1 440 379.9 437.9 379.6 436 379.5 433.1 379.8 432.6 379.9 430.8 380.5 430.3 380.8 429.1 381.7 428.1 383.2 428.1 383.4 428.4 385 429.5 386.2 431.5 387.2 434.3 387.8 435.2 387.8 438.5 387.8 438.9 387.7zM328.2 427L328.9 427 331.2 426.3 331.6 425.7 331 424.2 327.9 423.7 327.3 423.8 325.3 424.7 325.3 424.7 325.8 426.2 328.2 427zM245.5 421.5L246.1 421.6 248.9 421.2 250.1 419.8 250.1 419.7 248.7 418.6 248.1 418.5 244.9 418.6 243.5 419.9 243.6 420.5 245.5 421.5zM163.2 370L164.1 370 167.1 369.8 169.5 369.2 171.3 368.1 172.4 366.6 172.4 366.4 172.2 364.8 171.5 363.8 171.2 363.5 169.8 362.7 169.4 362.5 166.7 361.9 164.9 361.7 162.6 361.7 161.7 361.8 159.2 362.4 157.3 363.4 156.6 364 156.1 364.8 155.8 366 156.2 367.1 156.4 367.5 157.9 368.6 159.7 369.4 160.1 369.5 163.2 370z"/>
<path stroke="#f6f313" d="M280.6 445.4L282.5 445.5 285.1 445 286.6 443.7 286.7 443 285.6 441.7 283.1 441 282.4 440.9 279.6 441.4 277.9 442.5 277.7 443.1 278.4 444.5 280.6 445.4z"/>
</g>
<g transform="scale(0.1)" stroke-width="8" stroke-linejoin="round">
<path class="c37" d="M3278 1267l21-146-16-150-21 147z"/>
<path class="c33" d="M3257 1415l21-148-16-149-22 147z"/>
<path class="c29" d="M3022 1631l21 104-16-149-21-104z"/>
<path class="c32" d="M3001 1520l21 111-16-149-22-111z"/>
<path class="c36" d="M2979 1410l22 110-17-149-21-111z"/>
<path class="c39" d="M2958 1309l21 101-16-150-21-100z"/>
<path class="c42" d="M2937 1225l21 84-16-149-22-84z"/>
<path class="c44" d="M2915 1166l22 59-17-149-21-60z"/>
<path class="c45" d="M2894 1134l21 32-16-150-21-31z"/>
<path class="c46" d="M2873 1135l21-1-16-149-22 0z"/>
<path class="c45" d="M2851 1167l22-32-17-150-21 32z"/>
<path class="c43" d="M2830 1227l21-60-16-150-21 61z"/>
<path class="c41" d="M2809 1312l21-85-16-149-22 85z"/>
<path class="c38" d="M2787 1413l22-101-17-149-21 101z"/>
<path class="c35" d="M2766 1522l21-109-16-149-21 108z"/>
<path class="c32" d="M2745 1627l21-105-16-150-22 106z"/>
<path class="c30" d="M2723 1720l22-93-17-149-21 93z"/>
<path class="c28" d="M2702 1792l21-72-16-149-21 72z"/>
<path class="c27" d="M2681 1836l21-44-16-149-22 43zM2659 1848l22-12-17-150-21 12z"/>
<path class="c31" d="M2595 1718l22 65-17-150-21-65z"/>
<path class="c34" d="M2574 1645l21 73-16-150-21-72z"/>
<path class="c36" d="M2553 1577l21 68-16-149-22-68z"/>
<path class="c38" d="M2531 1526l22 51-17-149-21-51z"/>
<path class="c39" d="M2510 1502l21 24-16-149-21-24zM2489 1510l21-8-16-149-22 8z"/>
<path class="c38" d="M2467 1548l22-38-17-149-21 38z"/>
<path class="c36" d="M2446 1609l21-61-16-149-21 61z"/>
<path class="c34" d="M2425 1679l21-70-16-149-22 69z"/>
<path class="c33" d="M2403 1741l22-62-17-150-21 62z"/>
<path class="c32" d="M2382 1779l21-38-16-150-21 39zM2361 1786l21-7-16-149-22 6z"/>
<path class="c33" d="M2339 1764l22 22-17-150-21-22z"/>
<path class="c34" d="M2318 1729l21 35-16-150-21-34z"/>
<path class="c35" d="M2297 1708l21 21-16-149-22-21zM2275 1719l22-11-17-149-21 11z"/>
<path class="c34" d="M2254 1751l21-32-16-149-21 32zM2233 1760l21-9-16-149-21 9zM2211 1768l22-8-16-149-22 8z"/>
<path class="c33" d="M2190 1801l21-33-16-149-21 33zM2169 1812l21-11-16-149-21 11z"/>
<path class="c36" d="M2105 1734l21 22-16-149-21-22z"/>
<path class="c37" d="M2084 1741l21-7-16-149-22 6z"/>
<path class="c36" d="M2062 1779l22-38-17-150-21 39z"/>
<path class="c34" d="M2041 1841l21-62-16-149-21 62z"/>
<path class="c32" d="M2020 1911l21-70-16-149-22 70z"/>
<path class="c31" d="M1998 1972l22-61-17-149-21 60z"/>
<path class="c30" d="M1977 2010l21-38-16-150-21 39zM1956 2018l21-8-16-149-22 7z"/>
<path class="c31" d="M1934 1994l22 24-17-150-21-24z"/>
<path class="c32" d="M1913 1943l21 51-16-150-21-51z"/>
<path class="c35" d="M1892 1875l21 68-16-150-22-67z"/>
<path class="c37" d="M1870 1802l22 73-17-149-21-73z"/>
<path class="c39" d="M1849 1737l21 65-16-149-21-65z"/>
<path class="c41" d="M1828 1691l21 46-16-149-22-46z"/>
<path class="c42" d="M1806 1672l22 19-17-149-21-19zM1785 1684l21-12-16-149-21 12z"/>
<path class="c41" d="M1764 1728l21-44-16-149-22 43z"/>
<path class="c39" d="M1742 1799l22-71-17-150-21 72z"/>
<path class="c32" d="M1486 2110l22 101-17-149-21-101z"/>
<path class="c36" d="M1465 2000l21 110-16-149-21-110z"/>
<path class="c40" d="M1444 1889l21 111-16-149-22-112z"/>
<path class="c43" d="M1422 1785l22 104-17-150-21-104z"/>
<path class="c46" d="M1401 1696l21 89-16-150-21-89z"/>
<path class="c48" d="M1380 1628l21 68-16-150-22-67z"/>
<path class="c50" d="M1358 1588l22 40-17-149-21-41zM1337 1577l21 11-16-150-21-10zM1316 1598l21-21-16-149-22 21z"/>
<path class="c48" d="M1294 1650l22-52-17-149-21 52z"/>
<path class="c46" d="M1273 1732l21-82-16-149-21 81z"/>
<path class="c43" d="M1252 1838l21-106-16-150-22 107z"/>
<path class="c40" d="M1230 1965l22-127-17-149-21 127z"/>
<path class="c36" d="M1209 2105l21-140-16-149-21 140z"/>
<path class="c32" d="M1188 2252l21-147-16-149-22 147z"/>
<path class="c27" d="M1166 2399l22-147-17-149-21 147z"/>
<path class="c33" d="M3294 1417l22-147-17-149-21 146z"/>
<path class="c28" d="M3017 1670l21 111-16-150-21-111z"/>
<path class="c32" d="M2996 1559l21 111-16-150-22-110z"/>
<path class="c35" d="M2974 1459l22 100-17-149-21-101z"/>
<path class="c38" d="M2953 1375l21 84-16-150-21-84z"/>
<path class="c40" d="M2932 1315l21 60-16-150-22-59z"/>
<path class="c41" d="M2910 1284l22 31-17-149-21-32zM2889 1284l21 0-16-150-21 1zM2868 1316l21-32-16-149-22 32z"/>
<path class="c39" d="M2846 1377l22-61-17-149-21 60z"/>
<path class="c37" d="M2825 1462l21-85-16-150-21 85z"/>
<path class="c34" d="M2804 1563l21-101-16-150-22 101z"/>
<path class="c31" d="M2782 1671l22-108-17-150-21 109z"/>
<path class="c32" d="M2569 1727l21 68-16-150-21-68z"/>
<path class="c34" d="M2548 1676l21 51-16-150-22-51z"/>
<path class="c35" d="M2526 1652l22 24-17-150-21-24zM2505 1660l21-8-16-150-21 8z"/>
<path class="c34" d="M2484 1698l21-38-16-150-22 38z"/>
<path class="c32" d="M2462 1759l22-61-17-150-21 61z"/>
<path class="c30" d="M2441 1829l21-70-16-150-21 70zM2334 1879l22 34-17-149-21-35z"/>
<path class="c31" d="M2313 1858l21 21-16-150-21-21zM2292 1869l21-11-16-150-22 11z"/>
<path class="c30" d="M2270 1901l22-32-17-150-21 32zM2249 1910l21-9-16-150-21 9zM2228 1918l21-8-16-150-22 8z"/>
<path class="c29" d="M2206 1951l22-33-17-150-21 33z"/>
<path class="c30" d="M1908 2025l21 67-16-149-21-68z"/>
<path class="c33" d="M1887 1952l21 73-16-150-22-73z"/>
<path class="c35" d="M1865 1887l22 65-17-150-21-65z"/>
<path class="c37" d="M1844 1841l21 46-16-150-21-46z"/>
<path class="c38" d="M1823 1822l21 19-16-150-22-19zM1801 1834l22-12-17-150-21 12z"/>
<path class="c36" d="M1780 1878l21-44-16-150-21 44z"/>
<path class="c35" d="M1759 1949l21-71-16-150-22 71z"/>
<path class="c32" d="M1481 2150l22 110-17-150-21-110z"/>
<path class="c35" d="M1460 2038l21 112-16-150-21-111z"/>
<path class="c39" d="M1439 1934l21 104-16-149-22-104z"/>
<path class="c42" d="M1417 1845l22 89-17-149-21-89z"/>
<path class="c44" d="M1396 1778l21 67-16-149-21-68z"/>
<path class="c45" d="M1375 1737l21 41-16-150-22-40z"/>
<path class="c46" d="M1353 1727l22 10-17-149-21-11zM1332 1748l21-21-16-150-21 21z"/>
<path class="c44" d="M1311 1800l21-52-16-150-22 52z"/>
<path class="c42" d="M1289 1881l22-81-17-150-21 82z"/>
<path class="c39" d="M1268 1988l21-107-16-149-21 106z"/>
<path class="c35" d="M1247 2115l21-127-16-150-22 127z"/>
<path class="c32" d="M1225 2255l22-140-17-150-21 140z"/>
<path class="c27" d="M1204 2402l21-147-16-150-21 147z"/>
<path class="c23" d="M1183 2549l21-147-16-150-22 147z"/>
<path class="c29" d="M3311 1560l21-147-16-143-22 147z"/>
<path class="c28" d="M3012 1702l21 110-16-142-21-111z"/>
<path class="c31" d="M2991 1601l21 101-16-143-22-100z"/>
<path class="c34" d="M2969 1518l22 83-17-142-21-84z"/>
<path class="c36" d="M2948 1458l21 60-16-143-21-60z"/>
<path class="c37" d="M2927 1427l21 31-16-143-22-31zM2905 1427l22 0-17-143-21 0zM2884 1459l21-32-16-143-21 32z"/>
<path class="c35" d="M2863 1520l21-61-16-143-22 61z"/>
<path class="c33" d="M2841 1605l22-85-17-143-21 85z"/>
<path class="c31" d="M2543 1795l21 24-16-143-22-24zM2521 1802l22-7-17-143-21 8z"/>
<path class="c30" d="M2500 1841l21-39-16-142-21 38z"/>
<path class="c28" d="M2479 1902l21-61-16-143-22 61z"/>
<path class="c26" d="M2287 2044l21-32-16-143-22 32zM2265 2052l22-8-17-143-21 9zM2244 2061l21-9-16-142-21 8z"/>
<path class="c31" d="M1882 2030l21 65-16-143-22-65z"/>
<path class="c33" d="M1860 1984l22 46-17-143-21-46z"/>
<path class="c34" d="M1839 1965l21 19-16-143-21-19zM1818 1977l21-12-16-143-22 12z"/>
<path class="c32" d="M1796 2020l22-43-17-143-21 44z"/>
<path class="c31" d="M1476 2181l22 112-17-143-21-112z"/>
<path class="c35" d="M1455 2077l21 104-16-143-21-104z"/>
<path class="c38" d="M1434 1988l21 89-16-143-22-89z"/>
<path class="c40" d="M1412 1921l22 67-17-143-21-67z"/>
<path class="c41" d="M1391 1880l21 41-16-143-21-41z"/>
<path class="c42" d="M1370 1870l21 10-16-143-22-10zM1348 1891l22-21-17-143-21 21z"/>
<path class="c40" d="M1327 1943l21-52-16-143-21 52z"/>
<path class="c38" d="M1306 2024l21-81-16-143-22 81z"/>
<path class="c35" d="M1284 2131l22-107-17-143-21 107z"/>
<path class="c32" d="M1263 2257l21-126-16-143-21 127z"/>
<path class="c28" d="M1242 2398l21-141-16-142-22 140z"/>
<path class="c23" d="M1220 2545l22-147-17-143-21 147z"/>
<path class="c19" d="M1199 2692l21-147-16-143-21 147z"/>
<path class="c25" d="M3327 1689l21-147-16-129-21 147z"/>
<path class="c28" d="M3007 1730l21 101-16-129-21-101z"/>
<path class="c30" d="M2986 1647l21 83-16-129-22-83z"/>
<path class="c32" d="M2964 1587l22 60-17-129-21-60z"/>
<path class="c34" d="M2943 1556l21 31-16-129-21-31zM2922 1556l21 0-16-129-22 0z"/>
<path class="c33" d="M2900 1588l22-32-17-129-21 32z"/>
<path class="c32" d="M2879 1649l21-61-16-129-21 61z"/>
<path class="c29" d="M1877 2113l21 46-16-129-22-46z"/>
<path class="c30" d="M1855 2094l22 19-17-129-21-19zM1834 2106l21-12-16-129-21 12z"/>
<path class="c29" d="M1813 2149l21-43-16-129-22 43z"/>
<path class="c31" d="M1471 2206l22 104-17-129-21-104z"/>
<path class="c34" d="M1450 2117l21 89-16-129-21-89z"/>
<path class="c36" d="M1429 2050l21 67-16-129-22-67z"/>
<path class="c38" d="M1407 2009l22 41-17-129-21-41zM1386 1999l21 10-16-129-21-10zM1365 2020l21-21-16-129-22 21z"/>
<path class="c37" d="M1343 2072l22-52-17-129-21 52z"/>
<path class="c34" d="M1322 2153l21-81-16-129-21 81z"/>
<path class="c32" d="M1301 2260l21-107-16-129-22 107z"/>
<path class="c28" d="M1279 2386l22-126-17-129-21 126z"/>
<path class="c24" d="M1258 2527l21-141-16-129-21 141z"/>
<path class="c20" d="M1237 2674l21-147-16-129-22 147z"/>
<path class="c16" d="M1215 2821l22-147-17-129-21 147z"/>
<path class="c22" d="M3343 1798l22-147-17-109-21 147z"/>
<path class="c27" d="M3002 1756l21 84-16-110-21-83z"/>
<path class="c29" d="M2981 1696l21 60-16-109-22-60z"/>
<path class="c31" d="M2959 1665l22 31-17-109-21-31zM2938 1665l21 0-16-109-21 0z"/>
<path class="c30" d="M2917 1697l21-32-16-109-22 32z"/>
<path class="c29" d="M2895 1758l22-61-17-109-21 61z"/>
<path class="c26" d="M1829 2258l21-43-16-109-21 43z"/>
<path class="c31" d="M1466 2226l22 89-17-109-21-89z"/>
<path class="c33" d="M1445 2159l21 67-16-109-21-67z"/>
<path class="c35" d="M1424 2118l21 41-16-109-22-41zM1402 2108l22 10-17-109-21-10zM1381 2129l21-21-16-109-21 21z"/>
<path class="c34" d="M1360 2181l21-52-16-109-22 52z"/>
<path class="c32" d="M1338 2262l22-81-17-109-21 81z"/>
<path class="c29" d="M1317 2369l21-107-16-109-21 107z"/>
<path class="c25" d="M1296 2495l21-126-16-109-22 126z"/>
<path class="c21" d="M1274 2636l22-141-17-109-21 141z"/>
<path class="c17" d="M1253 2783l21-147-16-109-21 147z"/>
<path class="c13" d="M1232 2930l21-147-16-109-22 147z"/>
<path class="c27" d="M2997 1780l21 60-16-84-21-60z"/>
<path class="c28" d="M2976 1749l21 31-16-84-22-31z"/>
<path class="c29" d="M2954 1749l22 0-17-84-21 0z"/>
<path class="c28" d="M2933 1781l21-32-16-84-21 32z"/>
<path class="c23" d="M1525 2503l22 111-17-83-21-112z"/>
<path class="c31" d="M1461 2243l22 67-17-84-21-67z"/>
<path class="c33" d="M1440 2202l21 41-16-84-21-41zM1419 2191l21 11-16-84-22-10zM1397 2213l22-22-17-83-21 21z"/>
<path class="c32" d="M1376 2265l21-52-16-84-21 52z"/>
<path class="c29" d="M1355 2346l21-81-16-84-22 81z"/>
<path class="c26" d="M1333 2453l22-107-17-84-21 107z"/>
<path class="c23" d="M1312 2579l21-126-16-84-21 126z"/>
<path class="c19" d="M1291 2720l21-141-16-84-22 141z"/>
<path class="c15" d="M1269 2867l22-147-17-84-21 147z"/>
<path class="c10" d="M1248 3014l21-147-16-84-21 147z"/>
<path class="c27" d="M2971 1804l21 0-16-55-22 0z"/>
<path class="c21" d="M1542 2558l21 111-16-55-22-111z"/>
<path class="c25" d="M1520 2454l22 104-17-55-21-104z"/>
<path class="c28" d="M1499 2365l21 89-16-55-21-89z"/>
<path class="c31" d="M1456 2257l22 41-17-55-21-41z"/>
<path class="c32" d="M1435 2246l21 11-16-55-21-11zM1414 2267l21-21-16-55-22 22z"/>
<path class="c30" d="M1392 2320l22-53-17-54-21 52z"/>
<path class="c28" d="M1371 2401l21-81-16-55-21 81z"/>
<path class="c25" d="M1350 2508l21-107-16-55-22 107z"/>
<path class="c21" d="M1328 2634l22-126-17-55-21 126z"/>
<path class="c17" d="M1307 2774l21-140-16-55-21 141z"/>
<path class="c13" d="M1286 2922l21-148-16-54-22 147z"/>
<path class="c9" d="M1264 3069l22-147-17-55-21 147z"/>
<path class="c8" d="M1643 2987l22 60-17-23-21-60z"/>
<path class="c32" d="M1451 2270l22 10-17-23-21-11z"/>
<path class="c31" d="M1430 2291l21-21-16-24-21 21z"/>
<path class="c30" d="M1409 2343l21-52-16-24-22 53z"/>
<path class="c28" d="M1387 2424l22-81-17-23-21 81z"/>
<path class="c25" d="M1366 2531l21-107-16-23-21 107z"/>
<path class="c21" d="M1345 2658l21-127-16-23-22 126z"/>
<path class="c17" d="M1323 2798l22-140-17-24-21 140z"/>
<path class="c13" d="M1302 2945l21-147-16-24-21 148z"/>
<path class="c9" d="M1281 3092l21-147-16-23-22 147z"/>
<path class="c5" d="M1702 3070l21 0-16 8-21 0z"/>
<path class="c6" d="M1681 3039l21 31-16 8-21-31z"/>
<path class="c8" d="M1659 2979l22 60-16 8-22-60z"/>
<path class="c32" d="M1446 2283l22-21-17 8-21 21z"/>
<path class="c30" d="M1425 2335l21-52-16 8-21 52z"/>
<path class="c28" d="M1404 2416l21-81-16 8-22 81z"/>
<path class="c25" d="M1382 2523l22-107-17 8-21 107z"/>
<path class="c22" d="M1361 2650l21-127-16 8-21 127z"/>
<path class="c18" d="M1340 2790l21-140-16 8-22 140z"/>
<path class="c13" d="M1318 2937l22-147-17 8-21 147z"/>
<path class="c9" d="M1297 3084l21-147-16 8-21 147z"/>
<path class="c6" d="M1740 3032l21-32-16 38-22 32zM1718 3032l22 0-17 38-21 0z"/>
<path class="c8" d="M1697 3001l21 31-16 38-21-31z"/>
<path class="c10" d="M1676 2941l21 60-16 38-22-60z"/>
<path class="c32" d="M1441 2297l22-53-17 39-21 52z"/>
<path class="c30" d="M1420 2378l21-81-16 38-21 81z"/>
<path class="c27" d="M1399 2485l21-107-16 38-22 107z"/>
<path class="c23" d="M1377 2611l22-126-17 38-21 127z"/>
<path class="c19" d="M1356 2752l21-141-16 39-21 140z"/>
<path class="c15" d="M1335 2899l21-147-16 38-22 147z"/>
<path class="c11" d="M1313 3046l22-147-17 38-21 147z"/>
<path class="c9" d="M1777 2935l22-61-17 65-21 61z"/>
<path class="c8" d="M1756 2967l21-32-16 65-21 32z"/>
<path class="c9" d="M1735 2967l21 0-16 65-22 0z"/>
<path class="c10" d="M1713 2936l22 31-17 65-21-31z"/>
<path class="c12" d="M1692 2876l21 60-16 65-21-60z"/>
<path class="c29" d="M1415 2420l21-107-16 65-21 107z"/>
<path class="c25" d="M1394 2546l21-126-16 65-22 126z"/>
<path class="c21" d="M1372 2687l22-141-17 65-21 141z"/>
<path class="c17" d="M1351 2834l21-147-16 65-21 147z"/>
<path class="c13" d="M1330 2981l21-147-16 65-22 147z"/>
<path class="c14" d="M1815 2787l21-84-16 86-21 85z"/>
<path class="c12" d="M1794 2848l21-61-16 87-22 61z"/>
<path class="c11" d="M1772 2880l22-32-17 87-21 32z"/>
<path class="c12" d="M1751 2880l21 0-16 87-21 0z"/>
<path class="c13" d="M1730 2849l21 31-16 87-22-31z"/>
<path class="c15" d="M1708 2789l22 60-17 87-21-60z"/>
<path class="c28" d="M1410 2460l21-127-16 87-21 126z"/>
<path class="c24" d="M1389 2600l21-140-16 86-22 141z"/>
<path class="c20" d="M1367 2747l22-147-17 87-21 147z"/>
<path class="c16" d="M1346 2894l21-147-16 87-21 147z"/>
<path class="c15" d="M1810 2747l21-61-16 101-21 61zM1789 2778l21-31-16 101-22 32zM1767 2779l22-1-17 102-21 0z"/>
<path class="c16" d="M1746 2748l21 31-16 101-21-31z"/>
<path class="c18" d="M1725 2688l21 60-16 101-22-60z"/>
<path class="c28" d="M1405 2499l21-141-16 102-21 140z"/>
<path class="c23" d="M1383 2646l22-147-16 101-22 147z"/>
<path class="c19" d="M1362 2793l21-147-16 101-21 147z"/>
<path class="c32" d="M3490 1552l21-147-16 109-21 147z"/>
<path class="c19" d="M1784 2670l21 0-16 108-22 1z"/>
<path class="c20" d="M1762 2639l22 31-17 109-21-31z"/>
<path class="c22" d="M1741 2579l21 60-16 109-21-60z"/>
<path class="c27" d="M1400 2537l21-147-16 109-22 147z"/>
<path class="c23" d="M1378 2684l22-147-17 109-21 147z"/>
<path class="c36" d="M3506 1444l22-147-17 108-21 147z"/>
<path class="c32" d="M3485 1592l21-148-16 108-21 147z"/>
<path class="c35" d="M1437 2282l22-140-17 107-21 141z"/>
<path class="c31" d="M1416 2429l21-147-16 108-21 147z"/>
<path class="c26" d="M1395 2576l21-147-16 108-22 147z"/>
<path class="c39" d="M3523 1346l21-147-16 98-22 147z"/>
<path class="c35" d="M3501 1493l22-147-17 98-21 148z"/>
<path class="c38" d="M1454 2184l21-141-16 99-22 140z"/>
<path class="c34" d="M1432 2331l22-147-17 98-21 147z"/>
<path class="c30" d="M1411 2478l21-147-16 98-21 147z"/>
<path class="c42" d="M3539 1265l21-147-16 81-21 147z"/>
<path class="c38" d="M3518 1412l21-147-16 81-22 147z"/>
<path class="c34" d="M3496 1552l22-140-17 81-21 141z"/>
<path class="c40" d="M3027 1519l22-108-17 81-21 108z"/>
<path class="c38" d="M1961 1996l21-106-16 81-22 106z"/>
<path class="c49" d="M1513 1836l21-107-16 81-22 107z"/>
<path class="c45" d="M1491 1962l22-126-17 81-21 126z"/>
<path class="c41" d="M1470 2103l21-141-16 81-21 141z"/>
<path class="c37" d="M1449 2250l21-147-16 81-22 147z"/>
<path class="c33" d="M1427 2397l22-147-17 81-21 147z"/>
<path class="c44" d="M3555 1208l22-147-17 57-21 147z"/>
<path class="c40" d="M3534 1355l21-147-16 57-21 147z"/>
<path class="c36" d="M3513 1495l21-140-16 57-22 140z"/>
<path class="c48" d="M3086 1252l22-84-17 57-21 85z"/>
<path class="c46" d="M3065 1353l21-101-16 58-21 101z"/>
<path class="c43" d="M3044 1462l21-109-16 58-22 108z"/>
<path class="c40" d="M3022 1567l22-105-17 57-21 106z"/>
<path class="c37" d="M3001 1661l21-94-16 58-21 93z"/>
<path class="c43" d="M1998 1833l22-93-17 57-21 93z"/>
<path class="c41" d="M1977 1938l21-105-16 57-21 106z"/>
<path class="c38" d="M1956 2047l21-109-16 58-22 108z"/>
<path class="c54" d="M1550 1672l22-82-17 58-21 81z"/>
<path class="c51" d="M1529 1778l21-106-16 57-21 107z"/>
<path class="c47" d="M1508 1905l21-127-16 58-22 126z"/>
<path class="c43" d="M1486 2045l22-140-17 57-21 141z"/>
<path class="c39" d="M1465 2193l21-148-16 58-21 147z"/>
<path class="c35" d="M1444 2339l21-146-16 57-22 147z"/>
<path class="c45" d="M3572 1179l21-147-16 29-22 147z"/>
<path class="c41" d="M3550 1326l22-147-17 29-21 147z"/>
<path class="c37" d="M3529 1467l21-141-16 29-21 140z"/>
<path class="c34" d="M3508 1593l21-126-16 28-22 127z"/>
<path class="c52" d="M3124 1139l21-61-16 29-21 61z"/>
<path class="c50" d="M3102 1224l22-85-16 29-22 84z"/>
<path class="c47" d="M3081 1325l21-101-16 28-21 101z"/>
<path class="c44" d="M3060 1433l21-108-16 28-21 109z"/>
<path class="c41" d="M3038 1539l22-106-16 29-22 105z"/>
<path class="c38" d="M3017 1632l21-93-16 28-21 94z"/>
<path class="c36" d="M2996 1704l21-72-16 29-21 71z"/>
<path class="c35" d="M2975 1747l21-43-16 28-22 44z"/>
<path class="c46" d="M2761 1460l22-39-17 29-21 38z"/>
<path class="c45" d="M2740 1520l21-60-16 28-21 61z"/>
<path class="c43" d="M2719 1590l21-70-16 29-22 70z"/>
<path class="c41" d="M2697 1652l22-62-17 29-21 62z"/>
<path class="c40" d="M2676 1691l21-39-16 29-21 38z"/>
<path class="c44" d="M2356 1691l21-39-16 29-21 38z"/>
<path class="c42" d="M2335 1753l21-62-16 28-22 62z"/>
<path class="c41" d="M2313 1822l22-69-17 28-21 70z"/>
<path class="c39" d="M2292 1883l21-61-16 29-21 61z"/>
<path class="c49" d="M2057 1639l22-43-17 28-21 44z"/>
<path class="c47" d="M2036 1711l21-72-16 29-21 72z"/>
<path class="c45" d="M2015 1804l21-93-16 29-22 93z"/>
<path class="c42" d="M1993 1910l22-106-17 29-21 105z"/>
<path class="c39" d="M1972 2018l21-108-16 28-21 109z"/>
<path class="c57" d="M1588 1562l21-52-16 28-21 52z"/>
<path class="c55" d="M1567 1643l21-81-16 28-22 82z"/>
<path class="c52" d="M1545 1750l22-107-17 29-21 106z"/>
<path class="c48" d="M1524 1876l21-126-16 28-21 127z"/>
<path class="c44" d="M1503 2017l21-141-16 29-22 140z"/>
<path class="c40" d="M1481 2164l22-147-17 28-21 148z"/>
<path class="c36" d="M1460 2311l21-147-16 29-21 146z"/>
<path class="c46" d="M3588 1182l21-147-16-3-21 147z"/>
<path class="c41" d="M3567 1329l21-147-16-3-22 147z"/>
<path class="c37" d="M3545 1469l22-140-17-3-21 141z"/>
<path class="c34" d="M3524 1596l21-127-16-2-21 126z"/>
<path class="c54" d="M3183 1049l21 0-16-3-22 0zM3161 1081l22-32-17-3-21 32z"/>
<path class="c52" d="M3140 1142l21-61-16-3-21 61z"/>
<path class="c50" d="M3119 1226l21-84-16-3-22 85z"/>
<path class="c47" d="M3097 1327l22-101-17-2-21 101z"/>
<path class="c44" d="M3076 1436l21-109-16-2-21 108z"/>
<path class="c41" d="M3055 1542l21-106-16-3-22 106z"/>
<path class="c38" d="M3033 1635l22-93-17-3-21 93z"/>
<path class="c36" d="M3012 1706l21-71-16-3-21 72z"/>
<path class="c35" d="M2991 1750l21-44-16-2-21 43zM2970 1762l21-12-16-3-22 12z"/>
<path class="c48" d="M2799 1424l21-7-16-3-21 7z"/>
<path class="c47" d="M2778 1462l21-38-16-3-22 39z"/>
<path class="c45" d="M2756 1523l22-61-17-2-21 60z"/>
<path class="c43" d="M2735 1593l21-70-16-3-21 70z"/>
<path class="c42" d="M2714 1655l21-62-16-3-22 62z"/>
<path class="c41" d="M2692 1694l22-39-17-3-21 39zM2671 1700l21-6-16-3-21 6z"/>
<path class="c44" d="M2586 1633l21-11-16-3-22 11z"/>
<path class="c43" d="M2564 1666l22-33-17-3-21 33zM2543 1674l21-8-16-3-21 8zM2522 1683l21-9-16-3-22 9z"/>
<path class="c42" d="M2500 1715l22-32-17-3-21 32zM2479 1726l21-11-16-3-21 11z"/>
<path class="c45" d="M2394 1655l21-7-16-2-22 6z"/>
<path class="c44" d="M2372 1693l22-38-17-3-21 39z"/>
<path class="c43" d="M2351 1755l21-62-16-2-21 62z"/>
<path class="c41" d="M2330 1825l21-70-16-2-22 69z"/>
<path class="c39" d="M2308 1886l22-61-17-3-21 61z"/>
<path class="c38" d="M2287 1924l21-38-16-3-21 39zM2266 1932l21-8-16-2-22 7z"/>
<path class="c50" d="M2095 1598l21-12-16-2-21 12z"/>
<path class="c49" d="M2074 1642l21-44-16-2-22 43z"/>
<path class="c47" d="M2052 1714l22-72-17-3-21 72z"/>
<path class="c45" d="M2031 1807l21-93-16-3-21 93z"/>
<path class="c42" d="M2010 1913l21-106-16-3-22 106z"/>
<path class="c39" d="M1988 2021l22-108-17-3-21 108z"/>
<path class="c59" d="M1647 1491l21 11-16-3-21-11zM1626 1512l21-21-16-3-22 22z"/>
<path class="c57" d="M1604 1565l22-53-17-2-21 52z"/>
<path class="c55" d="M1583 1646l21-81-16-3-21 81z"/>
<path class="c52" d="M1562 1753l21-107-16-3-22 107z"/>
<path class="c48" d="M1540 1879l22-126-17-3-21 126z"/>
<path class="c44" d="M1519 2020l21-141-16-3-21 141z"/>
<path class="c40" d="M1498 2167l21-147-16-3-22 147z"/>
<path class="c36" d="M1476 2314l22-147-17-3-21 147z"/>
<path class="c45" d="M3604 1216l22-147-17-34-21 147z"/>
<path class="c41" d="M3583 1363l21-147-16-34-21 147z"/>
<path class="c37" d="M3562 1504l21-141-16-34-22 140z"/>
<path class="c33" d="M3540 1630l22-126-17-35-21 127z"/>
<path class="c53" d="M3220 1083l22 31-17-34-21-31z"/>
<path class="c54" d="M3199 1083l21 0-16-34-21 0z"/>
<path class="c53" d="M3178 1115l21-32-16-34-22 32z"/>
<path class="c51" d="M3156 1176l22-61-17-34-21 61z"/>
<path class="c49" d="M3135 1261l21-85-16-34-21 84z"/>
<path class="c46" d="M3114 1362l21-101-16-35-22 101z"/>
<path class="c43" d="M3092 1470l22-108-17-35-21 109z"/>
<path class="c40" d="M3071 1576l21-106-16-34-21 106z"/>
<path class="c38" d="M3050 1669l21-93-16-34-22 93z"/>
<path class="c36" d="M3028 1741l22-72-17-34-21 71z"/>
<path class="c35" d="M3007 1784l21-43-16-35-21 44zM2986 1796l21-12-16-34-21 12zM2964 1777l22 19-16-34-22-19z"/>
<path class="c47" d="M2837 1451l21 24-16-34-22-24zM2815 1458l22-7-17-34-21 7z"/>
<path class="c46" d="M2794 1497l21-39-16-34-21 38z"/>
<path class="c44" d="M2773 1558l21-61-16-35-22 61z"/>
<path class="c42" d="M2751 1627l22-69-17-35-21 70z"/>
<path class="c41" d="M2730 1689l21-62-16-34-21 62z"/>
<path class="c40" d="M2709 1728l21-39-16-34-22 39zM2687 1734l22-6-17-34-21 6z"/>
<path class="c41" d="M2666 1712l21 22-16-34-21-22z"/>
<path class="c42" d="M2645 1678l21 34-16-34-22-35z"/>
<path class="c43" d="M2623 1657l22 21-17-35-21-21zM2602 1668l21-11-16-35-21 11z"/>
<path class="c42" d="M2581 1700l21-32-16-35-22 33zM2559 1709l22-9-17-34-21 8zM2538 1717l21-8-16-35-21 9z"/>
<path class="c41" d="M2517 1750l21-33-16-34-22 32zM2495 1761l22-11-17-35-21 11z"/>
<path class="c42" d="M2474 1739l21 22-16-35-21-21z"/>
<path class="c44" d="M2453 1705l21 34-16-34-22-34z"/>
<path class="c45" d="M2431 1683l22 22-17-34-21-23zM2410 1689l21-6-16-35-21 7z"/>
<path class="c44" d="M2389 1728l21-39-16-34-22 38z"/>
<path class="c42" d="M2367 1790l22-62-17-35-21 62z"/>
<path class="c40" d="M2346 1859l21-69-16-35-21 70z"/>
<path class="c39" d="M2325 1920l21-61-16-34-22 61z"/>
<path class="c38" d="M2303 1959l22-39-17-34-21 38zM2282 1966l21-7-16-35-21 8z"/>
<path class="c39" d="M2261 1942l21 24-16-34-22-24z"/>
<path class="c50" d="M2133 1621l21 19-16-34-22-20zM2111 1633l22-12-17-35-21 12z"/>
<path class="c49" d="M2090 1676l21-43-16-35-21 44z"/>
<path class="c47" d="M2069 1748l21-72-16-34-22 72z"/>
<path class="c44" d="M2047 1841l22-93-17-34-21 93z"/>
<path class="c41" d="M2026 1947l21-106-16-34-21 106z"/>
<path class="c38" d="M2005 2055l21-108-16-34-22 108z"/>
<path class="c58" d="M1685 1536l21 41-16-34-22-41zM1663 1526l22 10-17-34-21-11zM1642 1547l21-21-16-35-21 21z"/>
<path class="c57" d="M1621 1599l21-52-16-35-22 53z"/>
<path class="c54" d="M1599 1680l22-81-17-34-21 81z"/>
<path class="c51" d="M1578 1787l21-107-16-34-21 107z"/>
<path class="c48" d="M1557 1913l21-126-16-34-22 126z"/>
<path class="c44" d="M1535 2054l22-141-17-34-21 141z"/>
<path class="c40" d="M1514 2201l21-147-16-34-21 147z"/>
<path class="c35" d="M1493 2348l21-147-16-34-22 147z"/>
<path class="c43" d="M3621 1279l21-147-16-63-22 147z"/>
<path class="c39" d="M3599 1427l22-148-17-63-21 147z"/>
<path class="c35" d="M3578 1567l21-140-16-64-21 141z"/>
<path class="c32" d="M3557 1693l21-126-16-63-22 126z"/>
<path class="c51" d="M3258 1177l21 60-16-63-21-60z"/>
<path class="c52" d="M3237 1146l21 31-16-63-22-31zM3215 1147l22-1-17-63-21 0z"/>
<path class="c51" d="M3194 1179l21-32-16-64-21 32z"/>
<path class="c50" d="M3173 1239l21-60-16-64-22 61z"/>
<path class="c47" d="M3151 1324l22-85-17-63-21 85z"/>
<path class="c45" d="M3130 1425l21-101-16-63-21 101z"/>
<path class="c42" d="M3109 1534l21-109-16-63-22 108z"/>
<path class="c39" d="M3087 1639l22-105-17-64-21 106z"/>
<path class="c36" d="M3066 1732l21-93-16-63-21 93z"/>
<path class="c34" d="M3045 1804l21-72-16-63-22 72z"/>
<path class="c33" d="M3023 1848l22-44-17-63-21 43zM3002 1860l21-12-16-64-21 12z"/>
<path class="c34" d="M2981 1840l21 20-16-64-22-19z"/>
<path class="c35" d="M2959 1794l22 46-17-63-21-46z"/>
<path class="c38" d="M2938 1729l21 65-16-63-21-65z"/>
<path class="c40" d="M2917 1657l21 72-16-63-22-72z"/>
<path class="c42" d="M2895 1589l22 68-17-63-21-68z"/>
<path class="c44" d="M2874 1538l21 51-16-63-21-51z"/>
<path class="c45" d="M2853 1514l21 24-16-63-21-24zM2832 1522l21-8-16-63-22 7z"/>
<path class="c44" d="M2810 1560l22-38-17-64-21 39z"/>
<path class="c43" d="M2789 1621l21-61-16-63-21 61z"/>
<path class="c41" d="M2768 1691l21-70-16-63-22 69z"/>
<path class="c39" d="M2746 1753l22-62-17-64-21 62z"/>
<path class="c38" d="M2725 1791l21-38-16-64-21 39zM2704 1798l21-7-16-63-22 6z"/>
<path class="c39" d="M2682 1775l22 23-17-64-21-22z"/>
<path class="c41" d="M2661 1741l21 34-16-63-21-34zM2640 1720l21 21-16-63-22-21zM2618 1731l22-11-17-63-21 11zM2597 1763l21-32-16-63-21 32zM2576 1772l21-9-16-63-22 9zM2554 1780l22-8-17-63-21 8z"/>
<path class="c40" d="M2533 1813l21-33-16-63-21 33zM2512 1824l21-11-16-63-22 11z"/>
<path class="c41" d="M2490 1803l22 21-17-63-21-22z"/>
<path class="c42" d="M2469 1768l21 35-16-64-21-34z"/>
<path class="c43" d="M2448 1746l21 22-16-63-22-22zM2426 1752l22-6-17-63-21 6z"/>
<path class="c42" d="M2405 1791l21-39-16-63-21 39z"/>
<path class="c40" d="M2384 1853l21-62-16-63-22 62z"/>
<path class="c39" d="M2362 1923l22-70-17-63-21 69z"/>
<path class="c37" d="M2341 1984l21-61-16-64-21 61z"/>
<path class="c36" d="M2320 2022l21-38-16-64-22 39zM2298 2030l22-8-17-63-21 7z"/>
<path class="c37" d="M2277 2005l21 25-16-64-21-24z"/>
<path class="c39" d="M2256 1955l21 50-16-63-22-51z"/>
<path class="c41" d="M2234 1887l22 68-17-64-21-67z"/>
<path class="c44" d="M2213 1814l21 73-16-63-21-73z"/>
<path class="c46" d="M2192 1749l21 65-16-63-22-65z"/>
<path class="c47" d="M2170 1703l22 46-17-63-21-46z"/>
<path class="c48" d="M2149 1684l21 19-16-63-21-19zM2128 1696l21-12-16-63-22 12z"/>
<path class="c47" d="M2106 1740l22-44-17-63-21 43z"/>
<path class="c45" d="M2085 1811l21-71-16-64-21 72z"/>
<path class="c43" d="M2064 1904l21-93-16-63-22 93z"/>
<path class="c40" d="M2042 2010l22-106-17-63-21 106z"/>
<path class="c37" d="M2021 2119l21-109-16-63-21 108z"/>
<path class="c55" d="M1722 1640l22 68-17-64-21-67z"/>
<path class="c56" d="M1701 1599l21 41-16-63-21-41z"/>
<path class="c57" d="M1680 1589l21 10-16-63-22-10z"/>
<path class="c56" d="M1658 1610l22-21-17-63-21 21z"/>
<path class="c55" d="M1637 1662l21-52-16-63-21 52z"/>
<path class="c53" d="M1616 1744l21-82-16-63-22 81z"/>
<path class="c50" d="M1594 1850l22-106-17-64-21 107z"/>
<path class="c46" d="M1573 1977l21-127-16-63-21 126z"/>
<path class="c42" d="M1552 2117l21-140-16-64-22 141z"/>
<path class="c38" d="M1530 2264l22-147-17-63-21 147z"/>
<path class="c34" d="M1509 2411l21-147-16-63-21 147z"/>
<path class="c41" d="M3637 1366l21-146-16-88-21 147z"/>
<path class="c37" d="M3616 1514l21-148-16-87-22 148z"/>
<path class="c33" d="M3594 1654l22-140-17-87-21 140z"/>
<path class="c29" d="M3573 1781l21-127-16-87-21 126z"/>
<path class="c33" d="M3381 1730l21 104-16-87-21-104z"/>
<path class="c37" d="M3360 1619l21 111-16-87-22-111z"/>
<path class="c40" d="M3338 1509l22 110-17-87-21-110z"/>
<path class="c44" d="M3317 1408l21 101-16-87-21-101z"/>
<path class="c46" d="M3296 1324l21 84-16-87-22-84z"/>
<path class="c48" d="M3274 1265l22 59-17-87-21-60z"/>
<path class="c50" d="M3253 1233l21 32-16-88-21-31zM3232 1234l21-1-16-87-22 1z"/>
<path class="c49" d="M3210 1266l22-32-17-87-21 32z"/>
<path class="c47" d="M3189 1326l21-60-16-87-21 60z"/>
<path class="c45" d="M3168 1411l21-85-16-87-22 85z"/>
<path class="c42" d="M3146 1512l22-101-17-87-21 101z"/>
<path class="c39" d="M3125 1621l21-109-16-87-21 109z"/>
<path class="c36" d="M3104 1726l21-105-16-87-22 105z"/>
<path class="c34" d="M3082 1819l22-93-17-87-21 93z"/>
<path class="c32" d="M3061 1891l21-72-16-87-21 72z"/>
<path class="c31" d="M3040 1935l21-44-16-87-22 44zM3018 1947l22-12-17-87-21 12z"/>
<path class="c32" d="M2997 1928l21 19-16-87-21-20z"/>
<path class="c33" d="M2976 1881l21 47-16-88-22-46z"/>
<path class="c35" d="M2954 1817l22 64-17-87-21-65z"/>
<path class="c38" d="M2933 1744l21 73-16-88-21-72z"/>
<path class="c40" d="M2912 1676l21 68-16-87-22-68z"/>
<path class="c42" d="M2890 1625l22 51-17-87-21-51z"/>
<path class="c43" d="M2869 1601l21 24-16-87-21-24zM2848 1609l21-8-16-87-21 8z"/>
<path class="c42" d="M2826 1647l22-38-16-87-22 38z"/>
<path class="c40" d="M2805 1708l21-61-16-87-21 61z"/>
<path class="c39" d="M2784 1778l21-70-16-87-21 70z"/>
<path class="c37" d="M2762 1840l22-62-16-87-22 62z"/>
<path class="c36" d="M2741 1878l21-38-16-87-21 38zM2720 1885l21-7-16-87-21 7z"/>
<path class="c37" d="M2699 1863l21 22-16-87-22-23z"/>
<path class="c38" d="M2677 1828l22 35-17-88-21-34z"/>
<path class="c39" d="M2656 1807l21 21-16-87-21-21zM2635 1818l21-11-16-87-22 11z"/>
<path class="c38" d="M2613 1850l22-32-17-87-21 32zM2592 1859l21-9-16-87-21 9zM2571 1867l21-8-16-87-22 8zM2549 1900l22-33-17-87-21 33zM2528 1911l21-11-16-87-21 11zM2507 1890l21 21-16-87-22-21z"/>
<path class="c40" d="M2485 1855l22 35-17-87-21-35z"/>
<path class="c41" d="M2464 1833l21 22-16-87-21-22zM2443 1840l21-7-16-87-22 6z"/>
<path class="c40" d="M2421 1878l22-38-17-88-21 39z"/>
<path class="c38" d="M2400 1940l21-62-16-87-21 62z"/>
<path class="c36" d="M2379 2010l21-70-16-87-22 70z"/>
<path class="c35" d="M2357 2071l22-61-17-87-21 61z"/>
<path class="c34" d="M2336 2109l21-38-16-87-21 38zM2315 2117l21-8-16-87-22 8z"/>
<path class="c35" d="M2293 2093l22 24-17-87-21-25z"/>
<path class="c37" d="M2272 2042l21 51-16-88-21-50z"/>
<path class="c39" d="M2251 1974l21 68-16-87-22-68z"/>
<path class="c41" d="M2229 1901l22 73-17-87-21-73z"/>
<path class="c43" d="M2208 1836l21 65-16-87-21-65z"/>
<path class="c45" d="M2187 1790l21 46-16-87-22-46z"/>
<path class="c46" d="M2165 1771l22 19-17-87-21-19zM2144 1783l21-12-16-87-21 12z"/>
<path class="c45" d="M2123 1827l21-44-16-87-22 44z"/>
<path class="c43" d="M2101 1898l22-71-17-87-21 71z"/>
<path class="c40" d="M2080 1992l21-94-16-87-21 93z"/>
<path class="c37" d="M2059 2097l21-105-16-88-22 106z"/>
<path class="c34" d="M2037 2206l22-109-17-87-21 109z"/>
<path class="c40" d="M1824 2099l21 110-16-87-21-110z"/>
<path class="c44" d="M1803 1988l21 111-16-87-22-111z"/>
<path class="c47" d="M1781 1884l22 104-17-87-21-104z"/>
<path class="c50" d="M1760 1795l21 89-16-87-21-89z"/>
<path class="c52" d="M1739 1727l21 68-16-87-22-68z"/>
<path class="c54" d="M1717 1687l22 40-17-87-21-41zM1696 1676l21 11-16-88-21-10zM1675 1697l21-21-16-87-22 21z"/>
<path class="c53" d="M1653 1749l22-52-17-87-21 52z"/>
<path class="c50" d="M1632 1831l21-82-16-87-21 82z"/>
<path class="c47" d="M1611 1937l21-106-16-87-22 106z"/>
<path class="c44" d="M1589 2064l22-127-17-87-21 127z"/>
<path class="c40" d="M1568 2204l21-140-16-87-21 140z"/>
<path class="c36" d="M1547 2351l21-147-16-87-22 147z"/>
<path class="c31" d="M1525 2498l22-147-17-87-21 147z"/>
<path class="c38" d="M3653 1470l22-147-17-103-21 146z"/>
<path class="c34" d="M3632 1617l21-147-16-104-21 148z"/>
<path class="c30" d="M3611 1758l21-141-16-103-22 140z"/>
<path class="c26" d="M3589 1884l22-126-17-104-21 127z"/>
<path class="c34" d="M3376 1723l21 111-16-104-21-111z"/>
<path class="c37" d="M3355 1612l21 111-16-104-22-110z"/>
<path class="c41" d="M3333 1512l22 100-17-103-21-101z"/>
<path class="c43" d="M3312 1428l21 84-16-104-21-84z"/>
<path class="c46" d="M3291 1368l21 60-16-104-22-59z"/>
<path class="c47" d="M3269 1337l22 31-17-103-21-32zM3248 1337l21 0-16-104-21 1z"/>
<path class="c46" d="M3227 1369l21-32-16-103-22 32z"/>
<path class="c45" d="M3205 1430l22-61-17-103-21 60z"/>
<path class="c42" d="M3184 1515l21-85-16-104-21 85z"/>
<path class="c40" d="M3163 1616l21-101-16-104-22 101z"/>
<path class="c37" d="M3141 1724l22-108-17-104-21 109z"/>
<path class="c34" d="M3120 1830l21-106-16-103-21 105z"/>
<path class="c31" d="M3099 1923l21-93-16-104-22 93z"/>
<path class="c29" d="M3077 1995l22-72-17-104-21 72zM3013 2031l22 19-17-103-21-19z"/>
<path class="c30" d="M2992 1985l21 46-16-103-21-47z"/>
<path class="c33" d="M2971 1920l21 65-16-104-22-64z"/>
<path class="c35" d="M2949 1848l22 72-17-103-21-73z"/>
<path class="c37" d="M2928 1780l21 68-16-104-21-68z"/>
<path class="c39" d="M2907 1729l21 51-16-104-22-51z"/>
<path class="c40" d="M2885 1705l22 24-17-104-21-24zM2864 1712l21-7-16-104-21 8z"/>
<path class="c39" d="M2843 1751l21-39-16-103-22 38z"/>
<path class="c38" d="M2821 1812l22-61-17-104-21 61z"/>
<path class="c36" d="M2800 1881l21-69-16-104-21 70z"/>
<path class="c34" d="M2779 1943l21-62-16-103-22 62z"/>
<path class="c33" d="M2757 1982l22-39-17-103-21 38zM2736 1988l21-6-16-104-21 7z"/>
<path class="c34" d="M2715 1966l21 22-16-103-21-22z"/>
<path class="c35" d="M2694 1932l21 34-16-103-22-35z"/>
<path class="c36" d="M2672 1911l22 21-17-104-21-21zM2651 1922l21-11-16-104-21 11zM2630 1954l21-32-16-104-22 32zM2608 1963l22-9-17-104-21 9zM2587 1971l21-8-16-104-21 8z"/>
<path class="c35" d="M2566 2004l21-33-16-104-22 33zM2544 2015l22-11-17-104-21 11z"/>
<path class="c36" d="M2523 1993l21 22-16-104-21-21z"/>
<path class="c37" d="M2502 1959l21 34-16-103-22-35z"/>
<path class="c38" d="M2480 1937l22 22-17-104-21-22zM2459 1943l21-6-16-104-21 7z"/>
<path class="c37" d="M2438 1982l21-39-16-103-22 38z"/>
<path class="c35" d="M2416 2044l22-62-17-104-21 62z"/>
<path class="c33" d="M2395 2113l21-69-16-104-21 70z"/>
<path class="c31" d="M2331 2220l21-7-16-104-21 8z"/>
<path class="c32" d="M2310 2196l21 24-16-103-22-24z"/>
<path class="c34" d="M2288 2145l22 51-17-103-21-51z"/>
<path class="c36" d="M2267 2078l21 67-16-103-21-68z"/>
<path class="c38" d="M2246 2005l21 73-16-104-22-73z"/>
<path class="c41" d="M2224 1940l22 65-17-104-21-65z"/>
<path class="c42" d="M2203 1894l21 46-16-104-21-46z"/>
<path class="c43" d="M2182 1875l21 19-16-104-22-19zM2160 1887l22-12-17-104-21 12z"/>
<path class="c42" d="M2139 1930l21-43-16-104-21 44z"/>
<path class="c40" d="M2118 2002l21-72-16-103-22 71z"/>
<path class="c37" d="M2096 2095l22-93-17-104-21 94z"/>
<path class="c35" d="M2075 2201l21-106-16-103-21 105z"/>
<path class="c32" d="M2054 2309l21-108-16-104-22 109z"/>
<path class="c37" d="M1840 2203l22 110-17-104-21-110z"/>
<path class="c41" d="M1819 2091l21 112-16-104-21-111z"/>
<path class="c44" d="M1798 1987l21 104-16-103-22-104z"/>
<path class="c47" d="M1776 1898l22 89-17-103-21-89z"/>
<path class="c49" d="M1755 1831l21 67-16-103-21-68z"/>
<path class="c51" d="M1734 1790l21 41-16-104-22-40z"/>
<path class="c52" d="M1712 1780l22 10-17-103-21-11z"/>
<path class="c51" d="M1691 1801l21-21-16-104-21 21z"/>
<path class="c50" d="M1670 1853l21-52-16-104-22 52z"/>
<path class="c48" d="M1648 1934l22-81-17-104-21 82z"/>
<path class="c45" d="M1627 2041l21-107-16-103-21 106z"/>
<path class="c41" d="M1606 2167l21-126-16-104-22 127z"/>
<path class="c37" d="M1584 2308l22-141-17-103-21 140z"/>
<path class="c33" d="M1563 2455l21-147-16-104-21 147z"/>
<path class="c29" d="M1542 2602l21-147-16-104-22 147z"/>
<path class="c35" d="M3670 1581l21-147-16-111-22 147z"/>
<path class="c31" d="M3648 1728l22-147-17-111-21 147z"/>
<path class="c27" d="M3627 1869l21-141-16-111-21 141z"/>
<path class="c34" d="M3371 1723l21 110-16-110-21-111z"/>
<path class="c38" d="M3350 1622l21 101-16-111-22-100z"/>
<path class="c40" d="M3328 1539l22 83-17-110-21-84z"/>
<path class="c43" d="M3307 1479l21 60-16-111-21-60z"/>
<path class="c44" d="M3286 1448l21 31-16-111-22-31zM3264 1448l22 0-17-111-21 0z"/>
<path class="c43" d="M3243 1480l21-32-16-111-21 32z"/>
<path class="c42" d="M3222 1541l21-61-16-111-22 61z"/>
<path class="c39" d="M3200 1626l22-85-17-111-21 85z"/>
<path class="c37" d="M3179 1727l21-101-16-111-21 101z"/>
<path class="c33" d="M3158 1835l21-108-16-111-22 108z"/>
<path class="c31" d="M3136 1941l22-106-17-111-21 106z"/>
<path class="c28" d="M3115 2034l21-93-16-111-21 93z"/>
<path class="c27" d="M3008 2096l22 46-17-111-21-46z"/>
<path class="c30" d="M2987 2031l21 65-16-111-21-65z"/>
<path class="c32" d="M2966 1958l21 73-16-111-22-72z"/>
<path class="c34" d="M2944 1891l22 67-17-110-21-68z"/>
<path class="c36" d="M2923 1840l21 51-16-111-21-51z"/>
<path class="c37" d="M2902 1816l21 24-16-111-22-24zM2880 1823l22-7-17-111-21 7z"/>
<path class="c36" d="M2859 1862l21-39-16-111-21 39z"/>
<path class="c35" d="M2838 1922l21-60-16-111-22 61z"/>
<path class="c33" d="M2816 1992l22-70-17-110-21 69z"/>
<path class="c31" d="M2795 2054l21-62-16-111-21 62z"/>
<path class="c30" d="M2774 2093l21-39-16-111-22 39zM2752 2099l22-6-17-111-21 6z"/>
<path class="c31" d="M2731 2077l21 22-16-111-21-22z"/>
<path class="c32" d="M2710 2043l21 34-16-111-21-34z"/>
<path class="c33" d="M2688 2021l22 22-16-111-22-21zM2667 2032l21-11-16-110-21 11z"/>
<path class="c32" d="M2646 2065l21-33-16-110-21 32zM2625 2073l21-8-16-111-22 9zM2603 2082l22-9-17-110-21 8zM2582 2114l21-32-16-111-21 33zM2561 2125l21-11-16-110-22 11z"/>
<path class="c33" d="M2539 2104l22 21-17-110-21-22z"/>
<path class="c34" d="M2518 2070l21 34-16-111-21-34z"/>
<path class="c35" d="M2497 2048l21 22-16-111-22-22zM2475 2054l22-6-17-111-21 6z"/>
<path class="c34" d="M2454 2093l21-39-16-111-21 39z"/>
<path class="c32" d="M2433 2155l21-62-16-111-22 62z"/>
<path class="c31" d="M2305 2256l21 51-16-111-22-51z"/>
<path class="c33" d="M2283 2188l22 68-17-111-21-67z"/>
<path class="c35" d="M2262 2116l21 72-16-110-21-73z"/>
<path class="c38" d="M2241 2051l21 65-16-111-22-65z"/>
<path class="c39" d="M2219 2005l22 46-17-111-21-46z"/>
<path class="c40" d="M2198 1986l21 19-16-111-21-19zM2177 1998l21-12-16-111-22 12z"/>
<path class="c39" d="M2155 2041l22-43-17-111-21 43z"/>
<path class="c37" d="M2134 2113l21-72-16-111-21 72z"/>
<path class="c34" d="M2113 2206l21-93-16-111-22 93z"/>
<path class="c32" d="M2091 2312l22-106-17-111-21 106z"/>
<path class="c38" d="M1835 2202l22 111-17-110-21-112z"/>
<path class="c41" d="M1814 2098l21 104-16-111-21-104z"/>
<path class="c44" d="M1793 2009l21 89-16-111-22-89z"/>
<path class="c46" d="M1771 1942l22 67-17-111-21-67z"/>
<path class="c48" d="M1750 1901l21 41-16-111-21-41zM1729 1890l21 11-16-111-22-10zM1707 1912l22-22-17-110-21 21z"/>
<path class="c47" d="M1686 1964l21-52-16-111-21 52z"/>
<path class="c45" d="M1665 2045l21-81-16-111-22 81z"/>
<path class="c42" d="M1643 2152l22-107-17-111-21 107z"/>
<path class="c38" d="M1622 2278l21-126-16-111-21 126z"/>
<path class="c34" d="M1601 2419l21-141-16-111-22 141z"/>
<path class="c30" d="M1579 2566l22-147-17-111-21 147z"/>
<path class="c26" d="M1558 2713l21-147-16-111-21 147z"/>
<path class="c32" d="M3686 1689l21-147-16-108-21 147z"/>
<path class="c28" d="M3665 1836l21-147-16-108-22 147z"/>
<path class="c35" d="M3366 1731l21 100-16-108-21-101z"/>
<path class="c37" d="M3345 1647l21 84-16-109-22-83z"/>
<path class="c40" d="M3323 1587l22 60-17-108-21-60z"/>
<path class="c41" d="M3302 1556l21 31-16-108-21-31zM3281 1556l21 0-16-108-22 0z"/>
<path class="c40" d="M3259 1588l22-32-17-108-21 32z"/>
<path class="c39" d="M3238 1649l21-61-16-108-21 61z"/>
<path class="c36" d="M3217 1734l21-85-16-108-22 85z"/>
<path class="c34" d="M3195 1835l22-101-17-108-21 101z"/>
<path class="c31" d="M3174 1943l21-108-16-108-21 108z"/>
<path class="c28" d="M3153 2049l21-106-16-108-22 106z"/>
<path class="c27" d="M3003 2139l22 65-17-108-21-65z"/>
<path class="c29" d="M2982 2067l21 72-16-108-21-73z"/>
<path class="c31" d="M2961 1999l21 68-16-109-22-67z"/>
<path class="c33" d="M2939 1948l22 51-17-108-21-51z"/>
<path class="c34" d="M2918 1924l21 24-16-108-21-24zM2897 1932l21-8-16-108-22 7z"/>
<path class="c33" d="M2875 1970l22-38-17-109-21 39z"/>
<path class="c32" d="M2854 2031l21-61-16-108-21 60z"/>
<path class="c30" d="M2833 2101l21-70-16-109-22 70z"/>
<path class="c28" d="M2811 2162l22-61-17-109-21 62z"/>
<path class="c27" d="M2790 2201l21-39-16-108-21 39zM2769 2208l21-7-16-108-22 6z"/>
<path class="c28" d="M2747 2185l22 23-17-109-21-22z"/>
<path class="c29" d="M2726 2151l21 34-16-108-21-34z"/>
<path class="c30" d="M2705 2130l21 21-16-108-22-22zM2683 2141l22-11-17-109-21 11zM2662 2173l21-32-16-109-21 33zM2641 2182l21-9-16-108-21 8zM2619 2190l22-8-16-109-22 9z"/>
<path class="c29" d="M2598 2223l21-33-16-108-21 32zM2577 2234l21-11-16-109-21 11z"/>
<path class="c30" d="M2556 2212l21 22-16-109-22-21z"/>
<path class="c31" d="M2534 2178l22 34-17-108-21-34z"/>
<path class="c32" d="M2513 2156l21 22-16-108-21-22zM2492 2162l21-6-16-108-22 6z"/>
<path class="c31" d="M2470 2201l22-39-17-108-21 39z"/>
<path class="c30" d="M2300 2297l21 67-16-108-22-68z"/>
<path class="c32" d="M2278 2224l22 73-17-109-21-72z"/>
<path class="c35" d="M2257 2159l21 65-16-108-21-65z"/>
<path class="c36" d="M2236 2113l21 46-16-108-22-46z"/>
<path class="c37" d="M2214 2094l22 19-17-108-21-19zM2193 2106l21-12-16-108-21 12z"/>
<path class="c36" d="M2172 2149l21-43-16-108-22 43z"/>
<path class="c34" d="M2150 2221l22-72-17-108-21 72z"/>
<path class="c32" d="M2129 2314l21-93-16-108-21 93z"/>
<path class="c38" d="M1830 2206l22 104-17-108-21-104z"/>
<path class="c41" d="M1809 2117l21 89-16-108-21-89z"/>
<path class="c43" d="M1788 2050l21 67-16-108-22-67z"/>
<path class="c45" d="M1766 2009l22 41-17-108-21-41z"/>
<path class="c46" d="M1745 1999l21 10-16-108-21-11z"/>
<path class="c45" d="M1724 2020l21-21-16-109-22 22z"/>
<path class="c44" d="M1702 2072l22-52-17-108-21 52z"/>
<path class="c42" d="M1681 2153l21-81-16-108-21 81z"/>
<path class="c39" d="M1660 2260l21-107-16-108-22 107z"/>
<path class="c35" d="M1638 2387l22-127-17-108-21 126z"/>
<path class="c31" d="M1617 2527l21-140-16-109-21 141z"/>
<path class="c27" d="M1596 2674l21-147-16-108-22 147z"/>
<path class="c23" d="M1574 2821l22-147-17-108-21 147z"/>
<path class="c30" d="M3702 1785l22-147-17-96-21 147z"/>
<path class="c25" d="M3681 1932l21-147-16-96-21 147z"/>
<path class="c35" d="M3361 1743l21 83-16-95-21-84z"/>
<path class="c37" d="M3340 1683l21 60-16-96-22-60z"/>
<path class="c38" d="M3318 1652l22 31-17-96-21-31zM3297 1652l21 0-16-96-21 0zM3276 1684l21-32-16-96-22 32z"/>
<path class="c36" d="M3254 1745l22-61-17-96-21 61z"/>
<path class="c34" d="M3233 1829l21-84-16-96-21 85z"/>
<path class="c31" d="M3212 1930l21-101-16-95-22 101z"/>
<path class="c28" d="M3190 2039l22-109-17-95-21 108z"/>
<path class="c25" d="M3169 2145l21-106-16-96-21 106z"/>
<path class="c29" d="M2977 2094l21 68-16-95-21-68z"/>
<path class="c31" d="M2956 2044l21 50-16-95-22-51z"/>
<path class="c32" d="M2934 2019l22 25-17-96-21-24zM2913 2027l21-8-16-95-21 8z"/>
<path class="c31" d="M2892 2065l21-38-16-95-22 38z"/>
<path class="c29" d="M2870 2126l22-61-17-95-21 61z"/>
<path class="c27" d="M2849 2196l21-70-16-95-21 70z"/>
<path class="c26" d="M2614 2318l22-32-17-96-21 33zM2593 2329l21-11-16-95-21 11z"/>
<path class="c27" d="M2572 2308l21 21-16-95-21-22z"/>
<path class="c28" d="M2550 2274l22 34-16-96-22-34z"/>
<path class="c29" d="M2529 2251l21 23-16-96-21-22zM2508 2258l21-7-16-95-21 6z"/>
<path class="c28" d="M2487 2296l21-38-16-96-22 39z"/>
<path class="c32" d="M2273 2255l22 65-17-96-21-65z"/>
<path class="c34" d="M2252 2209l21 46-16-96-21-46z"/>
<path class="c35" d="M2231 2189l21 20-16-96-22-19z"/>
<path class="c34" d="M2209 2201l22-12-17-95-21 12z"/>
<path class="c33" d="M2188 2245l21-44-16-95-21 43z"/>
<path class="c32" d="M2167 2317l21-72-16-96-22 72z"/>
<path class="c39" d="M1825 2213l22 89-17-96-21-89z"/>
<path class="c41" d="M1804 2146l21 67-16-96-21-67z"/>
<path class="c42" d="M1783 2105l21 41-16-96-22-41z"/>
<path class="c43" d="M1761 2094l22 11-17-96-21-10zM1740 2115l21-21-16-95-21 21z"/>
<path class="c41" d="M1719 2168l21-53-16-95-22 52z"/>
<path class="c39" d="M1697 2249l22-81-17-96-21 81z"/>
<path class="c36" d="M1676 2356l21-107-16-96-21 107z"/>
<path class="c32" d="M1655 2482l21-126-16-96-22 127z"/>
<path class="c28" d="M1633 2622l22-140-17-95-21 140z"/>
<path class="c24" d="M1612 2770l21-148-16-95-21 147z"/>
<path class="c20" d="M1591 2917l21-147-16-96-22 147z"/>
<path class="c28" d="M3719 1859l21-147-16-74-22 147z"/>
<path class="c35" d="M3356 1757l21 60-16-74-21-60z"/>
<path class="c36" d="M3335 1726l21 31-16-74-22-31zM3313 1726l22 0-17-74-21 0zM3292 1758l21-32-16-74-21 32z"/>
<path class="c34" d="M3271 1819l21-61-16-74-22 61z"/>
<path class="c32" d="M3249 1903l22-84-17-74-21 84z"/>
<path class="c29" d="M3228 2005l21-102-16-74-21 101z"/>
<path class="c26" d="M3207 2113l21-108-16-75-22 109z"/>
<path class="c29" d="M2972 2118l21 50-16-74-21-50z"/>
<path class="c30" d="M2951 2094l21 24-16-74-22-25zM2929 2101l22-7-17-75-21 8z"/>
<path class="c29" d="M2908 2139l21-38-16-74-21 38z"/>
<path class="c33" d="M2226 2276l21-12-16-75-22 12z"/>
<path class="c32" d="M2204 2319l22-43-17-75-21 44z"/>
<path class="c39" d="M1820 2220l22 67-17-74-21-67z"/>
<path class="c40" d="M1799 2179l21 41-16-74-21-41z"/>
<path class="c41" d="M1778 2168l21 11-16-74-22-11zM1756 2189l22-21-17-74-21 21z"/>
<path class="c39" d="M1735 2242l21-53-16-74-21 53z"/>
<path class="c37" d="M1714 2323l21-81-16-74-22 81z"/>
<path class="c34" d="M1692 2430l22-107-17-74-21 107z"/>
<path class="c31" d="M1671 2556l21-126-16-74-21 126z"/>
<path class="c27" d="M1650 2697l21-141-16-74-22 140z"/>
<path class="c22" d="M1628 2844l22-147-17-75-21 148z"/>
<path class="c18" d="M1607 2991l21-147-16-74-21 147z"/>
<path class="c27" d="M3735 1905l21-147-16-46-21 147z"/>
<path class="c35" d="M3351 1772l21 31-16-46-21-31zM3330 1772l21 0-16-46-22 0zM3308 1804l22-32-17-46-21 32z"/>
<path class="c33" d="M3287 1865l21-61-16-46-21 61z"/>
<path class="c31" d="M3266 1950l21-85-16-46-22 84z"/>
<path class="c28" d="M3244 2051l22-101-17-47-21 102z"/>
<path class="c25" d="M3223 2159l21-108-16-46-21 108z"/>
<path class="c29" d="M2967 2140l21 24-16-46-21-24zM2946 2147l21-7-16-46-22 7z"/>
<path class="c39" d="M1815 2225l22 41-17-46-21-41z"/>
<path class="c40" d="M1794 2214l21 11-16-46-21-11zM1773 2235l21-21-16-46-22 21z"/>
<path class="c38" d="M1751 2288l22-53-17-46-21 53z"/>
<path class="c36" d="M1730 2369l21-81-16-46-21 81z"/>
<path class="c33" d="M1709 2476l21-107-16-46-22 107z"/>
<path class="c29" d="M1687 2602l22-126-17-46-21 126z"/>
<path class="c25" d="M1666 2743l21-141-16-46-21 141z"/>
<path class="c21" d="M1645 2890l21-147-16-46-22 147z"/>
<path class="c17" d="M1623 3037l22-147-17-46-21 147z"/>
<path class="c35" d="M3346 1787l21-1-16-14-21 0zM3325 1819l21-32-16-15-22 32z"/>
<path class="c33" d="M3303 1879l22-60-17-15-21 61z"/>
<path class="c31" d="M3282 1964l21-85-16-14-21 85z"/>
<path class="c28" d="M3261 2065l21-101-16-14-22 101z"/>
<path class="c25" d="M3239 2174l22-109-17-14-21 108z"/>
<path class="c40" d="M1810 2229l22 11-17-15-21-11z"/>
<path class="c39" d="M1789 2250l21-21-16-15-21 21z"/>
<path class="c38" d="M1768 2302l21-52-16-15-22 53z"/>
<path class="c36" d="M1746 2384l22-82-17-14-21 81z"/>
<path class="c33" d="M1725 2490l21-106-16-15-21 107z"/>
<path class="c29" d="M1704 2617l21-127-16-14-22 126z"/>
<path class="c25" d="M1682 2757l22-140-17-15-21 141z"/>
<path class="c21" d="M1661 2904l21-147-16-14-21 147z"/>
<path class="c17" d="M1640 3051l21-147-16-14-22 147z"/>
<path class="c35" d="M3341 1802l21-32-16 17-21 32z"/>
<path class="c34" d="M3320 1863l21-61-16 17-22 60z"/>
<path class="c32" d="M3298 1947l22-84-17 16-21 85z"/>
<path class="c29" d="M3277 2048l21-101-16 17-21 101z"/>
<path class="c26" d="M3256 2157l21-109-16 17-22 109z"/>
<path class="c13" d="M2061 3021l22-1-17 17-21 0z"/>
<path class="c15" d="M2040 2990l21 31-16 16-21-31z"/>
<path class="c39" d="M1784 2286l21-53-16 17-21 52z"/>
<path class="c37" d="M1763 2367l21-81-16 16-22 82z"/>
<path class="c34" d="M1741 2474l22-107-17 17-21 106z"/>
<path class="c30" d="M1720 2600l21-126-16 16-21 127z"/>
<path class="c26" d="M1699 2740l21-140-16 17-22 140z"/>
<path class="c22" d="M1677 2888l22-148-17 17-21 147z"/>
<path class="c18" d="M1656 3035l21-147-16 16-21 147z"/>
<path class="c29" d="M3784 1859l21-147-16 44-21 147z"/>
<path class="c35" d="M3336 1819l21-61-16 44-21 61z"/>
<path class="c33" d="M3315 1904l21-85-16 44-22 84z"/>
<path class="c30" d="M3293 2005l22-101-17 43-21 101z"/>
<path class="c27" d="M3272 2113l21-108-16 43-21 109z"/>
<path class="c15" d="M2078 2977l21 0-16 43-22 1z"/>
<path class="c16" d="M2056 2946l22 31-17 44-21-31z"/>
<path class="c38" d="M1779 2323l21-81-16 44-21 81z"/>
<path class="c35" d="M1758 2430l21-107-16 44-22 107z"/>
<path class="c32" d="M1736 2556l22-126-17 44-21 126z"/>
<path class="c28" d="M1715 2697l21-141-16 44-21 140z"/>
<path class="c24" d="M1694 2844l21-147-16 43-22 148z"/>
<path class="c19" d="M1672 2991l22-147-17 44-21 147z"/>
<path class="c31" d="M3800 1797l22-147-17 62-21 147z"/>
<path class="c35" d="M3331 1841l21-84-16 62-21 85z"/>
<path class="c33" d="M3310 1942l21-101-16 63-22 101z"/>
<path class="c30" d="M3288 2051l22-109-17 63-21 108z"/>
<path class="c27" d="M3267 2157l21-106-16 62-21 106z"/>
<path class="c38" d="M1774 2368l21-107-16 62-21 107z"/>
<path class="c34" d="M1753 2494l21-126-16 62-22 126z"/>
<path class="c30" d="M1731 2634l22-140-17 62-21 141z"/>
<path class="c26" d="M1710 2782l21-148-16 63-21 147z"/>
<path class="c22" d="M1689 2929l21-147-16 62-22 147z"/>
<path class="c34" d="M3817 1726l21-146-16 70-22 147z"/>
<path class="c29" d="M3795 1874l22-148-17 71-21 147z"/>
<path class="c35" d="M3326 1872l21-101-16 70-21 101z"/>
<path class="c32" d="M3305 1981l21-109-16 70-22 109z"/>
<path class="c29" d="M3283 2086l22-105-17 70-21 106z"/>
<path class="c40" d="M1790 2297l22-106-17 70-21 107z"/>
<path class="c37" d="M1769 2424l21-127-16 71-21 126z"/>
<path class="c33" d="M1748 2564l21-140-16 70-22 140z"/>
<path class="c28" d="M1726 2711l22-147-17 70-21 148z"/>
<path class="c24" d="M1705 2858l21-147-16 71-21 147z"/>
<path class="c36" d="M3833 1661l21-147-16 66-21 146z"/>
<path class="c32" d="M3812 1808l21-147-16 65-22 148z"/>
<path class="c37" d="M3342 1807l22-101-17 65-21 101z"/>
<path class="c34" d="M3321 1915l21-108-16 65-21 109z"/>
<path class="c31" d="M3300 2021l21-106-16 66-22 105z"/>
<path class="c29" d="M3278 2114l22-93-17 65-21 93z"/>
<path class="c35" d="M2276 2286l21-93-16 65-22 94z"/>
<path class="c42" d="M1807 2232l21-107-16 66-22 106z"/>
<path class="c39" d="M1785 2359l22-127-17 65-21 127z"/>
<path class="c35" d="M1764 2499l21-140-16 65-21 140z"/>
<path class="c31" d="M1743 2646l21-147-16 65-22 147z"/>
<path class="c26" d="M1721 2793l22-147-17 65-21 147z"/>
<path class="c38" d="M3849 1613l22-147-17 48-21 147z"/>
<path class="c34" d="M3828 1760l21-147-16 48-21 147z"/>
<path class="c30" d="M3807 1900l21-140-16 48-22 141z"/>
<path class="c42" d="M3380 1657l21-84-16 48-21 85z"/>
<path class="c39" d="M3359 1759l21-102-16 49-22 101z"/>
<path class="c36" d="M3337 1867l22-108-17 48-21 108z"/>
<path class="c33" d="M3316 1973l21-106-16 48-21 106z"/>
<path class="c31" d="M3295 2066l21-93-16 48-22 93z"/>
<path class="c29" d="M3273 2137l22-71-17 48-21 72z"/>
<path class="c35" d="M2996 2024l21-70-16 49-21 70z"/>
<path class="c33" d="M2591 2256l21-70-16 49-22 70z"/>
<path class="c40" d="M2313 2145l22-72-17 49-21 71z"/>
<path class="c37" d="M2292 2238l21-93-16 48-21 93z"/>
<path class="c47" d="M1844 2077l22-81-17 48-21 81z"/>
<path class="c44" d="M1823 2184l21-107-16 48-21 107z"/>
<path class="c41" d="M1802 2310l21-126-16 48-22 127z"/>
<path class="c37" d="M1780 2451l22-141-17 49-21 140z"/>
<path class="c32" d="M1759 2598l21-147-16 48-21 147z"/>
<path class="c28" d="M1738 2745l21-147-16 48-22 147z"/>
<path class="c39" d="M3866 1591l21-147-16 22-22 147z"/>
<path class="c35" d="M3844 1738l22-147-17 22-21 147z"/>
<path class="c31" d="M3823 1879l21-141-16 22-21 140z"/>
<path class="c47" d="M3439 1490l21-31-16 21-21 32z"/>
<path class="c45" d="M3418 1551l21-61-16 22-22 61z"/>
<path class="c43" d="M3396 1636l22-85-17 22-21 84z"/>
<path class="c40" d="M3375 1737l21-101-16 21-21 102z"/>
<path class="c37" d="M3354 1845l21-108-16 22-22 108z"/>
<path class="c34" d="M3332 1951l22-106-17 22-21 106z"/>
<path class="c32" d="M3311 2044l21-93-16 22-21 93z"/>
<path class="c30" d="M3290 2116l21-72-16 22-22 71z"/>
<path class="c40" d="M3055 1872l21-38-16 21-21 38z"/>
<path class="c38" d="M3034 1933l21-61-16 21-22 61z"/>
<path class="c36" d="M3012 2003l22-70-17 21-21 70z"/>
<path class="c35" d="M2991 2065l21-62-16 21-21 62z"/>
<path class="c34" d="M2970 2103l21-38-16 21-22 39z"/>
<path class="c36" d="M2842 2075l21-32-16 21-22 33z"/>
<path class="c35" d="M2778 2125l21-33-16 22-22 32z"/>
<path class="c37" d="M2650 2103l21-39-16 22-22 38z"/>
<path class="c36" d="M2628 2165l22-62-17 21-21 62z"/>
<path class="c34" d="M2607 2235l21-70-16 21-21 70z"/>
<path class="c32" d="M2586 2296l21-61-16 21-22 61z"/>
<path class="c43" d="M2351 2052l21-44-16 22-21 43z"/>
<path class="c41" d="M2330 2123l21-71-16 21-22 72z"/>
<path class="c38" d="M2308 2216l22-93-17 22-21 93z"/>
<path class="c35" d="M2287 2322l21-106-16 22-21 106z"/>
<path class="c50" d="M1882 1974l21-52-16 21-21 53z"/>
<path class="c48" d="M1860 2055l22-81-16 22-22 81z"/>
<path class="c45" d="M1839 2162l21-107-16 22-21 107z"/>
<path class="c42" d="M1818 2289l21-127-16 22-21 126z"/>
<path class="c38" d="M1797 2429l21-140-16 21-22 141z"/>
<path class="c33" d="M1775 2576l22-147-17 22-21 147z"/>
<path class="c29" d="M1754 2723l21-147-16 22-21 147z"/>
<path class="c39" d="M3882 1601l21-147-16-10-21 147z"/>
<path class="c35" d="M3861 1749l21-148-16-10-22 147z"/>
<path class="c31" d="M3839 1889l22-140-17-11-21 141z"/>
<path class="c48" d="M3477 1469l21-1-16-10-22 1z"/>
<path class="c47" d="M3455 1500l22-31-17-10-21 31z"/>
<path class="c45" d="M3434 1561l21-61-16-10-21 61z"/>
<path class="c43" d="M3413 1646l21-85-16-10-22 85z"/>
<path class="c40" d="M3391 1747l22-101-17-10-21 101z"/>
<path class="c37" d="M3370 1855l21-108-16-10-21 108z"/>
<path class="c34" d="M3349 1961l21-106-16-10-22 106z"/>
<path class="c32" d="M3327 2054l22-93-17-10-21 93z"/>
<path class="c30" d="M3306 2126l21-72-16-10-21 72z"/>
<path class="c41" d="M3093 1844l21-8-16-10-22 8z"/>
<path class="c40" d="M3071 1882l22-38-17-10-21 38z"/>
<path class="c38" d="M3050 1943l21-61-16-10-21 61z"/>
<path class="c36" d="M3029 2013l21-70-16-10-22 70z"/>
<path class="c35" d="M3007 2075l22-62-17-10-21 62z"/>
<path class="c34" d="M2986 2113l21-38-16-10-21 38zM2965 2120l21-7-16-10-22 7z"/>
<path class="c37" d="M2879 2053l22-11-17-10-21 11z"/>
<path class="c36" d="M2858 2085l21-32-16-10-21 32zM2837 2094l21-9-16-10-22 9zM2815 2102l22-8-17-10-21 8z"/>
<path class="c35" d="M2794 2135l21-33-16-10-21 33zM2773 2146l21-11-16-10-22 11z"/>
<path class="c38" d="M2687 2074l22-6-17-10-21 6z"/>
<path class="c37" d="M2666 2113l21-39-16-10-21 39z"/>
<path class="c36" d="M2645 2175l21-62-16-10-22 62z"/>
<path class="c34" d="M2623 2245l22-70-17-10-21 70z"/>
<path class="c32" d="M2602 2306l21-61-16-10-21 61z"/>
<path class="c44" d="M2389 2018l21-12-16-10-22 12z"/>
<path class="c43" d="M2367 2062l22-44-17-10-21 44z"/>
<path class="c41" d="M2346 2133l21-71-16-10-21 71z"/>
<path class="c38" d="M2325 2226l21-93-16-10-22 93z"/>
<path class="c35" d="M2303 2332l22-106-17-10-21 106z"/>
<path class="c52" d="M1941 1911l21 10-16-10-22-10zM1919 1932l22-21-17-10-21 21z"/>
<path class="c50" d="M1898 1984l21-52-16-10-21 52z"/>
<path class="c48" d="M1877 2066l21-82-16-10-22 81z"/>
<path class="c45" d="M1855 2172l22-106-17-11-21 107z"/>
<path class="c42" d="M1834 2299l21-127-16-10-21 127z"/>
<path class="c38" d="M1813 2439l21-140-16-10-21 140z"/>
<path class="c33" d="M1791 2586l22-147-16-10-22 147z"/>
<path class="c29" d="M1770 2733l21-147-16-10-21 147z"/>
<path class="c38" d="M3898 1642l21-147-16-41-21 147z"/>
<path class="c34" d="M3877 1789l21-147-16-41-21 148z"/>
<path class="c30" d="M3855 1930l22-141-16-40-22 140z"/>
<path class="c46" d="M3514 1509l22 31-17-41-21-31z"/>
<path class="c47" d="M3493 1509l21 0-16-41-21 1z"/>
<path class="c46" d="M3472 1541l21-32-16-40-22 31z"/>
<path class="c44" d="M3450 1602l22-61-17-41-21 61z"/>
<path class="c42" d="M3429 1687l21-85-16-41-21 85z"/>
<path class="c39" d="M3408 1788l21-101-16-41-22 101z"/>
<path class="c36" d="M3386 1896l22-108-17-41-21 108z"/>
<path class="c33" d="M3365 2002l21-106-16-41-21 106z"/>
<path class="c31" d="M3344 2095l21-93-16-41-22 93z"/>
<path class="c29" d="M3322 2167l22-72-17-41-21 72z"/>
<path class="c39" d="M3152 1901l21 51-16-41-22-51z"/>
<path class="c40" d="M3130 1877l22 24-17-41-21-24zM3109 1884l21-7-16-41-21 8z"/>
<path class="c39" d="M3088 1923l21-39-16-40-22 38z"/>
<path class="c37" d="M3066 1984l22-61-17-41-21 61z"/>
<path class="c35" d="M3045 2053l21-69-16-41-21 70z"/>
<path class="c34" d="M3024 2115l21-62-16-40-22 62z"/>
<path class="c33" d="M3002 2154l22-39-17-40-21 38zM2981 2160l21-6-16-41-21 7z"/>
<path class="c34" d="M2960 2138l21 22-16-40-22-23z"/>
<path class="c35" d="M2938 2104l22 34-17-41-21-34z"/>
<path class="c36" d="M2917 2082l21 22-16-41-21-21zM2896 2094l21-12-16-40-22 11z"/>
<path class="c35" d="M2874 2126l22-32-17-41-21 32zM2853 2134l21-8-16-41-21 9zM2832 2143l21-9-16-40-22 8z"/>
<path class="c34" d="M2810 2175l22-32-17-41-21 33zM2789 2186l21-11-16-40-21 11z"/>
<path class="c35" d="M2768 2165l21 21-16-40-22-21z"/>
<path class="c37" d="M2746 2131l22 34-17-40-21-35zM2725 2109l21 22-16-41-21-22z"/>
<path class="c38" d="M2704 2115l21-6-16-41-22 6z"/>
<path class="c37" d="M2682 2154l22-39-17-41-21 39z"/>
<path class="c35" d="M2661 2216l21-62-16-41-21 62z"/>
<path class="c33" d="M2640 2285l21-69-16-41-22 70z"/>
<path class="c32" d="M2618 2346l22-61-17-40-21 61z"/>
<path class="c42" d="M2448 2066l21 46-16-41-22-46z"/>
<path class="c43" d="M2426 2047l22 19-17-41-21-19zM2405 2059l21-12-16-41-21 12z"/>
<path class="c42" d="M2384 2102l21-43-16-41-22 44z"/>
<path class="c40" d="M2362 2174l22-72-17-40-21 71z"/>
<path class="c37" d="M2341 2267l21-93-16-41-21 93z"/>
<path class="c34" d="M2320 2373l21-106-16-41-22 106z"/>
<path class="c51" d="M1978 1962l22 41-17-41-21-41zM1957 1952l21 10-16-41-21-10zM1936 1973l21-21-16-41-22 21z"/>
<path class="c49" d="M1914 2025l22-52-17-41-21 52z"/>
<path class="c47" d="M1893 2106l21-81-16-41-21 82z"/>
<path class="c44" d="M1872 2213l21-107-16-40-22 106z"/>
<path class="c41" d="M1850 2339l22-126-17-41-21 127z"/>
<path class="c37" d="M1829 2480l21-141-16-40-21 140z"/>
<path class="c32" d="M1808 2627l21-147-16-41-22 147z"/>
<path class="c28" d="M1786 2774l22-147-17-41-21 147z"/>
<path class="c36" d="M3914 1705l22-147-17-63-21 147z"/>
<path class="c32" d="M3893 1853l21-148-16-63-21 147z"/>
<path class="c28" d="M3872 1993l21-140-16-64-22 141z"/>
<path class="c44" d="M3552 1603l21 60-16-63-21-60z"/>
<path class="c45" d="M3531 1572l21 31-16-63-22-31zM3509 1573l22-1-17-63-21 0z"/>
<path class="c44" d="M3488 1605l21-32-16-64-21 32z"/>
<path class="c43" d="M3467 1665l21-60-16-64-22 61z"/>
<path class="c40" d="M3445 1750l22-85-17-63-21 85z"/>
<path class="c38" d="M3424 1851l21-101-16-63-21 101z"/>
<path class="c35" d="M3403 1960l21-109-16-63-22 108z"/>
<path class="c32" d="M3381 2065l22-105-17-64-21 106z"/>
<path class="c29" d="M3360 2158l21-93-16-63-21 93z"/>
<path class="c27" d="M3339 2230l21-72-16-63-22 72z"/>
<path class="c33" d="M3211 2083l21 72-16-63-22-73z"/>
<path class="c35" d="M3189 2015l22 68-17-64-21-67z"/>
<path class="c37" d="M3168 1964l21 51-16-63-21-51z"/>
<path class="c38" d="M3147 1940l21 24-16-63-22-24zM3125 1948l22-8-17-63-21 7z"/>
<path class="c37" d="M3104 1986l21-38-16-64-21 39z"/>
<path class="c36" d="M3083 2047l21-61-16-63-22 61z"/>
<path class="c34" d="M3061 2117l22-70-17-63-21 69z"/>
<path class="c32" d="M3040 2179l21-62-16-64-21 62z"/>
<path class="c31" d="M3019 2217l21-38-16-64-22 39zM2997 2224l22-7-17-63-21 6z"/>
<path class="c32" d="M2976 2201l21 23-16-64-21-22z"/>
<path class="c34" d="M2955 2167l21 34-16-63-22-34zM2933 2146l22 21-17-63-21-22zM2912 2157l21-11-16-64-21 12zM2891 2189l21-32-16-63-22 32zM2869 2198l22-9-17-63-21 8zM2848 2206l21-8-16-64-21 9zM2784 2229l21 21-16-64-21-21z"/>
<path class="c35" d="M2763 2194l21 35-16-64-22-34z"/>
<path class="c36" d="M2741 2172l22 22-17-63-21-22zM2720 2178l21-6-16-63-21 6z"/>
<path class="c35" d="M2699 2217l21-39-16-63-22 39z"/>
<path class="c33" d="M2677 2279l22-62-17-63-21 62z"/>
<path class="c32" d="M2656 2349l21-70-16-63-21 69z"/>
<path class="c30" d="M2635 2410l21-61-16-64-22 61z"/>
<path class="c39" d="M2485 2175l22 65-17-63-21-65z"/>
<path class="c40" d="M2464 2129l21 46-16-63-21-46z"/>
<path class="c41" d="M2443 2110l21 19-16-63-22-19zM2421 2122l22-12-17-63-21 12z"/>
<path class="c40" d="M2400 2166l21-44-16-63-21 43z"/>
<path class="c38" d="M2379 2237l21-71-16-64-22 72z"/>
<path class="c36" d="M2357 2330l22-93-17-63-21 93z"/>
<path class="c33" d="M2336 2436l21-106-16-63-21 106z"/>
<path class="c48" d="M2016 2066l21 68-16-64-21-67z"/>
<path class="c49" d="M1995 2025l21 41-16-63-22-41z"/>
<path class="c50" d="M1973 2015l22 10-17-63-21-10z"/>
<path class="c49" d="M1952 2036l21-21-16-63-21 21z"/>
<path class="c48" d="M1931 2088l21-52-16-63-22 52z"/>
<path class="c46" d="M1909 2170l22-82-17-63-21 81z"/>
<path class="c43" d="M1888 2276l21-106-16-64-21 107z"/>
<path class="c39" d="M1867 2403l21-127-16-63-22 126z"/>
<path class="c35" d="M1845 2543l22-140-17-64-21 141z"/>
<path class="c31" d="M1824 2690l21-147-16-63-21 147z"/>
<path class="c27" d="M1803 2837l21-147-16-63-22 147z"/>
<path class="c34" d="M3931 1778l21-147-16-73-22 147z"/>
<path class="c30" d="M3909 1925l22-147-17-73-21 148z"/>
<path class="c26" d="M3888 2065l21-140-16-72-21 140z"/>
<path class="c40" d="M3590 1736l21 83-16-72-22-84z"/>
<path class="c42" d="M3568 1676l22 60-17-73-21-60z"/>
<path class="c43" d="M3547 1645l21 31-16-73-21-31zM3526 1645l21 0-16-73-22 1z"/>
<path class="c42" d="M3504 1677l22-32-17-72-21 32z"/>
<path class="c41" d="M3483 1738l21-61-16-72-21 60z"/>
<path class="c39" d="M3462 1822l21-84-16-73-22 85z"/>
<path class="c36" d="M3440 1923l22-101-17-72-21 101z"/>
<path class="c33" d="M3419 2032l21-109-16-72-21 109z"/>
<path class="c30" d="M3398 2138l21-106-16-72-22 105z"/>
<path class="c27" d="M3376 2231l22-93-17-73-21 93z"/>
<path class="c31" d="M3227 2155l21 73-16-73-21-72z"/>
<path class="c34" d="M3206 2087l21 68-16-72-22-68z"/>
<path class="c35" d="M3184 2037l22 50-17-72-21-51z"/>
<path class="c36" d="M3163 2012l21 25-16-73-21-24zM3142 2020l21-8-16-72-22 8z"/>
<path class="c35" d="M3120 2058l22-38-17-72-21 38z"/>
<path class="c34" d="M3099 2119l21-61-16-72-21 61z"/>
<path class="c32" d="M3078 2189l21-70-16-72-22 70z"/>
<path class="c30" d="M3056 2251l22-62-17-72-21 62z"/>
<path class="c29" d="M3035 2290l21-39-16-72-21 38zM3014 2296l21-6-16-73-22 7z"/>
<path class="c30" d="M2992 2274l22 22-17-72-21-23z"/>
<path class="c32" d="M2971 2239l21 35-16-73-21-34z"/>
<path class="c33" d="M2950 2218l21 21-16-72-22-21z"/>
<path class="c32" d="M2928 2229l22-11-17-72-21 11zM2907 2262l21-33-16-72-21 32zM2886 2270l21-8-16-73-22 9z"/>
<path class="c34" d="M2758 2244l21 23-16-73-22-22zM2736 2251l22-7-17-72-21 6z"/>
<path class="c33" d="M2715 2289l21-38-16-73-21 39z"/>
<path class="c32" d="M2694 2351l21-62-16-72-22 62z"/>
<path class="c30" d="M2672 2421l22-70-17-72-21 70z"/>
<path class="c39" d="M2480 2202l22 46-17-73-21-46zM2459 2182l21 20-16-73-21-19zM2438 2194l21-12-16-72-22 12z"/>
<path class="c38" d="M2416 2238l22-44-17-72-21 44z"/>
<path class="c36" d="M2395 2310l21-72-16-72-21 71z"/>
<path class="c34" d="M2374 2403l21-93-16-73-22 93z"/>
<path class="c31" d="M2352 2508l22-105-17-73-21 106z"/>
<path class="c43" d="M2054 2206l21 89-16-72-22-89z"/>
<path class="c46" d="M2032 2139l22 67-17-72-21-68z"/>
<path class="c47" d="M2011 2098l21 41-16-73-21-41z"/>
<path class="c48" d="M1990 2087l21 11-16-73-22-10z"/>
<path class="c47" d="M1968 2108l22-21-17-72-21 21z"/>
<path class="c46" d="M1947 2161l21-53-16-72-21 52z"/>
<path class="c44" d="M1926 2242l21-81-16-73-22 82z"/>
<path class="c41" d="M1904 2349l22-107-17-72-21 106z"/>
<path class="c37" d="M1883 2475l21-126-16-73-21 127z"/>
<path class="c33" d="M1862 2615l21-140-16-72-22 140z"/>
<path class="c29" d="M1840 2763l22-148-17-72-21 147z"/>
<path class="c25" d="M1819 2910l21-147-16-73-21 147z"/>
<path class="c33" d="M3947 1842l21-147-16-64-21 147z"/>
<path class="c29" d="M3926 1989l21-147-16-64-22 147z"/>
<path class="c40" d="M3584 1740l22 60-16-64-22-60z"/>
<path class="c41" d="M3563 1709l21 31-16-64-21-31z"/>
<path class="c42" d="M3542 1709l21 0-16-64-21 0z"/>
<path class="c41" d="M3521 1741l21-32-16-64-22 32z"/>
<path class="c39" d="M3499 1802l22-61-17-64-21 61z"/>
<path class="c37" d="M3478 1887l21-85-16-64-21 84z"/>
<path class="c34" d="M3457 1988l21-101-16-65-22 101z"/>
<path class="c31" d="M3435 2096l22-108-17-65-21 109z"/>
<path class="c28" d="M3414 2202l21-106-16-64-21 106z"/>
<path class="c32" d="M3222 2152l21 68-16-65-21-68z"/>
<path class="c34" d="M3201 2101l21 51-16-65-22-50z"/>
<path class="c35" d="M3179 2077l22 24-17-64-21-25zM3158 2084l21-7-16-65-21 8z"/>
<path class="c34" d="M3137 2123l21-39-16-64-22 38z"/>
<path class="c32" d="M3115 2184l22-61-17-65-21 61z"/>
<path class="c30" d="M3094 2253l21-69-16-65-21 70z"/>
<path class="c29" d="M3073 2315l21-62-16-64-22 62z"/>
<path class="c28" d="M3051 2354l22-39-17-64-21 39z"/>
<path class="c29" d="M3009 2338l21 22-16-64-22-22z"/>
<path class="c30" d="M2987 2304l22 34-17-64-21-35z"/>
<path class="c31" d="M2966 2283l21 21-16-65-21-21zM2945 2294l21-11-16-65-22 11z"/>
<path class="c30" d="M2923 2326l22-32-17-65-21 33zM2902 2335l21-9-16-64-21 8z"/>
<path class="c32" d="M2753 2315l21-6-16-65-22 7zM2731 2354l22-39-17-64-21 38z"/>
<path class="c44" d="M2049 2203l21 67-16-64-22-67z"/>
<path class="c46" d="M2027 2162l22 41-17-64-21-41zM2006 2152l21 10-16-64-21-11zM1985 2173l21-21-16-65-22 21z"/>
<path class="c44" d="M1963 2225l22-52-17-65-21 53z"/>
<path class="c42" d="M1942 2306l21-81-16-64-21 81z"/>
<path class="c39" d="M1921 2413l21-107-16-64-22 107z"/>
<path class="c36" d="M1899 2539l22-126-17-64-21 126z"/>
<path class="c32" d="M1878 2680l21-141-16-64-21 140z"/>
<path class="c27" d="M1857 2827l21-147-16-65-22 148z"/>
<path class="c23" d="M1835 2974l22-147-17-64-21 147z"/>
<path class="c32" d="M3963 1883l22-147-17-41-21 147z"/>
<path class="c40" d="M3579 1750l22 31-17-41-21-31z"/>
<path class="c41" d="M3558 1750l21 0-16-41-21 0z"/>
<path class="c40" d="M3537 1782l21-32-16-41-21 32z"/>
<path class="c38" d="M3516 1843l21-61-16-41-22 61z"/>
<path class="c36" d="M3494 1928l22-85-17-41-21 85z"/>
<path class="c33" d="M3473 2029l21-101-16-41-21 101z"/>
<path class="c30" d="M3452 2137l21-108-16-41-22 108z"/>
<path class="c27" d="M3430 2243l22-106-17-41-21 106z"/>
<path class="c33" d="M3217 2142l21 51-16-41-21-51z"/>
<path class="c34" d="M3196 2118l21 24-16-41-22-24zM3174 2126l22-8-17-41-21 7z"/>
<path class="c33" d="M3153 2164l21-38-16-42-21 39z"/>
<path class="c31" d="M3132 2225l21-61-16-41-22 61z"/>
<path class="c29" d="M3110 2294l22-69-17-41-21 69z"/>
<path class="c28" d="M3089 2356l21-62-16-41-21 62z"/>
<path class="c29" d="M3004 2345l21 34-16-41-22-34z"/>
<path class="c30" d="M2982 2324l22 21-17-41-21-21z"/>
<path class="c45" d="M2044 2203l21 41-16-41-22-41zM2022 2193l22 10-17-41-21-10zM2001 2214l21-21-16-41-21 21z"/>
<path class="c43" d="M1980 2266l21-52-16-41-22 52z"/>
<path class="c41" d="M1958 2347l22-81-17-41-21 81z"/>
<path class="c38" d="M1937 2454l21-107-16-41-21 107z"/>
<path class="c35" d="M1916 2581l21-127-16-41-22 126z"/>
<path class="c31" d="M1894 2721l22-140-17-42-21 141z"/>
<path class="c26" d="M1873 2868l21-147-16-41-21 147z"/>
<path class="c22" d="M1852 3015l21-147-16-41-22 147z"/>
<path class="c41" d="M3574 1759l22 0-17-9-21 0z"/>
<path class="c40" d="M3553 1791l21-32-16-9-21 32z"/>
<path class="c38" d="M3532 1852l21-61-16-9-21 61z"/>
<path class="c36" d="M3510 1937l22-85-16-9-22 85z"/>
<path class="c33" d="M3489 2038l21-101-16-9-21 101z"/>
<path class="c30" d="M3468 2146l21-108-16-9-21 108z"/>
<path class="c27" d="M3447 2252l21-106-16-9-22 106z"/>
<path class="c34" d="M3191 2135l21-8-16-9-22 8z"/>
<path class="c33" d="M3169 2173l22-38-17-9-21 38z"/>
<path class="c31" d="M3148 2234l21-61-16-9-21 61z"/>
<path class="c29" d="M3127 2303l21-69-16-9-22 69z"/>
<path class="c28" d="M3105 2365l22-62-17-9-21 62z"/>
<path class="c19" d="M2252 2979l21 31-16-9-21-31z"/>
<path class="c45" d="M2039 2202l21 10-16-9-22-10zM2017 2223l22-21-17-9-21 21z"/>
<path class="c43" d="M1996 2275l21-52-16-9-21 52z"/>
<path class="c41" d="M1975 2356l21-81-16-9-22 81z"/>
<path class="c38" d="M1953 2463l22-107-17-9-21 107z"/>
<path class="c35" d="M1932 2590l21-127-16-9-21 127z"/>
<path class="c31" d="M1911 2730l21-140-16-9-22 140z"/>
<path class="c27" d="M1889 2877l22-147-17-9-21 147z"/>
<path class="c22" d="M1868 3024l21-147-16-9-21 147z"/>
<path class="c41" d="M3569 1771l22-31-17 19-21 32z"/>
<path class="c39" d="M3548 1832l21-61-16 20-21 61z"/>
<path class="c37" d="M3527 1917l21-85-16 20-22 85z"/>
<path class="c34" d="M3505 2018l22-101-17 20-21 101z"/>
<path class="c31" d="M3484 2126l21-108-16 20-21 108z"/>
<path class="c28" d="M3463 2232l21-106-16 20-21 106z"/>
<path class="c34" d="M3186 2153l21-38-16 20-22 38z"/>
<path class="c32" d="M3164 2214l22-61-17 20-21 61z"/>
<path class="c30" d="M3143 2284l21-70-16 20-21 69z"/>
<path class="c29" d="M3122 2346l21-62-16 19-22 62z"/>
<path class="c19" d="M2290 2990l21 0-16 20-22 0z"/>
<path class="c20" d="M2268 2959l22 31-17 20-21-31z"/>
<path class="c44" d="M2012 2255l22-52-17 20-21 52z"/>
<path class="c42" d="M1991 2337l21-82-16 20-21 81z"/>
<path class="c39" d="M1970 2443l21-106-16 19-22 107z"/>
<path class="c36" d="M1948 2570l22-127-17 20-21 127z"/>
<path class="c32" d="M1927 2710l21-140-16 20-21 140z"/>
<path class="c27" d="M1906 2857l21-147-16 20-22 147z"/>
<path class="c23" d="M1884 3004l22-147-17 20-21 147z"/>
<path class="c34" d="M4012 1840l22-147-17 32-21 147z"/>
<path class="c41" d="M3564 1800l22-61-17 32-21 61z"/>
<path class="c38" d="M3543 1885l21-85-16 32-21 85z"/>
<path class="c35" d="M3522 1986l21-101-16 32-22 101z"/>
<path class="c32" d="M3500 2094l22-108-17 32-21 108z"/>
<path class="c29" d="M3479 2200l21-106-16 32-21 106z"/>
<path class="c27" d="M3458 2293l21-93-16 32-22 93z"/>
<path class="c34" d="M3181 2182l21-61-16 32-22 61z"/>
<path class="c32" d="M3159 2252l22-70-17 32-21 70z"/>
<path class="c30" d="M3138 2314l21-62-16 32-21 62z"/>
<path class="c20" d="M2306 2958l21 0-16 32-21 0z"/>
<path class="c21" d="M2285 2927l21 31-16 32-22-31z"/>
<path class="c46" d="M2029 2223l21-52-16 32-22 52z"/>
<path class="c44" d="M2007 2305l22-82-17 32-21 82z"/>
<path class="c41" d="M1986 2411l21-106-16 32-21 106z"/>
<path class="c37" d="M1965 2538l21-127-16 32-22 127z"/>
<path class="c33" d="M1943 2678l22-140-17 32-21 140z"/>
<path class="c29" d="M1922 2825l21-147-16 32-21 147z"/>
<path class="c25" d="M1901 2972l21-147-16 32-22 147z"/>
<path class="c35" d="M4029 1822l21-147-16 18-22 147z"/>
<path class="c43" d="M3602 1721l21-32-16 19-21 31z"/>
<path class="c41" d="M3581 1782l21-61-16 18-22 61z"/>
<path class="c39" d="M3559 1866l22-84-17 18-21 85z"/>
<path class="c36" d="M3538 1967l21-101-16 19-21 101z"/>
<path class="c33" d="M3517 2076l21-109-16 19-22 108z"/>
<path class="c30" d="M3495 2181l22-105-17 18-21 106z"/>
<path class="c28" d="M3474 2275l21-94-16 19-21 93z"/>
<path class="c36" d="M3218 2102l22-38-17 19-21 38z"/>
<path class="c34" d="M3197 2163l21-61-16 19-21 61z"/>
<path class="c33" d="M3176 2233l21-70-16 19-22 70z"/>
<path class="c31" d="M3154 2295l22-62-17 19-21 62z"/>
<path class="c30" d="M3133 2333l21-38-16 19-21 38z"/>
<path class="c32" d="M3005 2306l21-33-16 19-21 32z"/>
<path class="c39" d="M2514 2282l22-44-17 19-21 44z"/>
<path class="c47" d="M2045 2205l21-53-16 19-21 52z"/>
<path class="c44" d="M2024 2286l21-81-16 18-22 82z"/>
<path class="c41" d="M2002 2392l22-106-17 19-21 106z"/>
<path class="c38" d="M1981 2519l21-127-16 19-21 127z"/>
<path class="c34" d="M1960 2659l21-140-16 19-22 140z"/>
<path class="c30" d="M1938 2807l22-148-17 19-21 147z"/>
<path class="c25" d="M1917 2953l21-146-16 18-21 147z"/>
<path class="c35" d="M4045 1835l21-147-16-13-21 147z"/>
<path class="c44" d="M3640 1702l21 0-16-13-22 0z"/>
<path class="c43" d="M3618 1734l22-32-17-13-21 32z"/>
<path class="c41" d="M3597 1795l21-61-16-13-21 61z"/>
<path class="c39" d="M3576 1880l21-85-16-13-22 84z"/>
<path class="c36" d="M3554 1981l22-101-17-14-21 101z"/>
<path class="c33" d="M3533 2089l21-108-16-14-21 109z"/>
<path class="c30" d="M3512 2195l21-106-16-13-22 105z"/>
<path class="c28" d="M3490 2288l22-93-17-14-21 94z"/>
<path class="c37" d="M3256 2078l21-8-16-14-21 8z"/>
<path class="c36" d="M3234 2116l22-38-16-14-22 38z"/>
<path class="c34" d="M3213 2177l21-61-16-14-21 61z"/>
<path class="c32" d="M3192 2246l21-69-16-14-21 70z"/>
<path class="c31" d="M3170 2308l22-62-16-13-22 62z"/>
<path class="c30" d="M3149 2347l21-39-16-13-21 38zM3128 2353l21-6-16-14-21 7z"/>
<path class="c33" d="M3043 2287l21-11-16-14-22 11z"/>
<path class="c32" d="M3021 2319l22-32-17-14-21 33zM3000 2328l21-9-16-13-21 8zM2979 2336l21-8-16-14-22 9z"/>
<path class="c40" d="M2552 2252l21-12-16-14-21 12z"/>
<path class="c39" d="M2531 2295l21-43-16-14-22 44z"/>
<path class="c48" d="M2104 2145l21 10-16-13-21-11zM2083 2166l21-21-16-14-22 21z"/>
<path class="c47" d="M2061 2218l22-52-17-14-21 53z"/>
<path class="c44" d="M2040 2299l21-81-16-13-21 81z"/>
<path class="c41" d="M2019 2406l21-107-16-13-22 106z"/>
<path class="c38" d="M1997 2533l22-127-17-14-21 127z"/>
<path class="c34" d="M1976 2673l21-140-16-14-21 140z"/>
<path class="c30" d="M1955 2820l21-147-16-14-22 148z"/>
<path class="c25" d="M1933 2967l22-147-17-13-21 146z"/>
<path class="c34" d="M4061 1870l22-147-17-35-21 147z"/>
<path class="c43" d="M3677 1737l22 31-17-35-21-31zM3656 1737l21 0-16-35-21 0z"/>
<path class="c42" d="M3635 1769l21-32-16-35-22 32z"/>
<path class="c41" d="M3613 1830l22-61-17-35-21 61z"/>
<path class="c38" d="M3592 1915l21-85-16-35-21 85z"/>
<path class="c36" d="M3571 2016l21-101-16-35-22 101z"/>
<path class="c32" d="M3549 2124l22-108-17-35-21 108z"/>
<path class="c30" d="M3528 2230l21-106-16-35-21 106z"/>
<path class="c27" d="M3507 2323l21-93-16-35-22 93z"/>
<path class="c36" d="M3293 2105l22 24-17-35-21-24zM3272 2112l21-7-16-35-21 8z"/>
<path class="c35" d="M3251 2151l21-39-16-34-22 38z"/>
<path class="c34" d="M3229 2212l22-61-17-35-21 61z"/>
<path class="c32" d="M3208 2281l21-69-16-35-21 69z"/>
<path class="c30" d="M3187 2343l21-62-16-35-22 62z"/>
<path class="c29" d="M3165 2382l22-39-17-35-21 39zM3144 2388l21-6-16-35-21 6z"/>
<path class="c31" d="M3102 2332l21 34-16-35-22-34z"/>
<path class="c32" d="M3080 2311l22 21-17-35-21-21zM3059 2322l21-11-16-35-21 11zM3038 2354l21-32-16-35-22 32zM3016 2363l22-9-17-35-21 9zM2995 2371l21-8-16-35-21 8z"/>
<path class="c39" d="M2590 2275l21 19-16-35-22-19zM2568 2287l22-12-17-35-21 12z"/>
<path class="c38" d="M2547 2330l21-43-16-35-21 43z"/>
<path class="c47" d="M2142 2190l21 41-16-35-22-41z"/>
<path class="c48" d="M2120 2180l22 10-17-35-21-10z"/>
<path class="c47" d="M2099 2201l21-21-16-35-21 21z"/>
<path class="c46" d="M2078 2253l21-52-16-35-22 52z"/>
<path class="c44" d="M2056 2334l22-81-17-35-21 81z"/>
<path class="c41" d="M2035 2441l21-107-16-35-21 107z"/>
<path class="c37" d="M2014 2567l21-126-16-35-22 127z"/>
<path class="c33" d="M1992 2708l22-141-17-34-21 140z"/>
<path class="c29" d="M1971 2855l21-147-16-35-21 147z"/>
<path class="c25" d="M1950 3002l21-147-16-35-22 147z"/>
<path class="c34" d="M4078 1881l21-147-16-11-22 147z"/>
<path class="c43" d="M3672 1748l22 0-17-11-21 0z"/>
<path class="c42" d="M3651 1780l21-32-16-11-21 32z"/>
<path class="c41" d="M3630 1841l21-61-16-11-22 61z"/>
<path class="c38" d="M3608 1926l22-85-17-11-21 85z"/>
<path class="c36" d="M3587 2027l21-101-16-11-21 101z"/>
<path class="c32" d="M3566 2135l21-108-16-11-22 108z"/>
<path class="c30" d="M3544 2241l22-106-17-11-21 106z"/>
<path class="c27" d="M3523 2334l21-93-16-11-21 93z"/>
<path class="c36" d="M3288 2123l22-7-17-11-21 7z"/>
<path class="c35" d="M3267 2162l21-39-16-11-21 39z"/>
<path class="c34" d="M3246 2223l21-61-16-11-22 61z"/>
<path class="c32" d="M3224 2292l22-69-17-11-21 69z"/>
<path class="c30" d="M3203 2354l21-62-16-11-21 62z"/>
<path class="c32" d="M3075 2333l21-12-16-10-21 11zM3054 2365l21-32-16-11-21 32zM3032 2373l22-8-16-11-22 9z"/>
<path class="c39" d="M2585 2298l21-12-16-11-22 12z"/>
<path class="c38" d="M2563 2341l22-43-17-11-21 43z"/>
<path class="c48" d="M2137 2191l21 10-16-11-22-10z"/>
<path class="c47" d="M2115 2212l22-21-17-11-21 21z"/>
<path class="c46" d="M2094 2264l21-52-16-11-21 52z"/>
<path class="c44" d="M2073 2345l21-81-16-11-22 81z"/>
<path class="c41" d="M2051 2452l22-107-17-11-21 107z"/>
<path class="c37" d="M2030 2578l21-126-16-11-21 126z"/>
<path class="c33" d="M2009 2719l21-141-16-11-22 141z"/>
<path class="c29" d="M1987 2866l22-147-17-11-21 147z"/>
<path class="c25" d="M1966 3013l21-147-16-11-21 147z"/>
<path class="c34" d="M4094 1892l21-147-16-11-21 147z"/>
<path class="c43" d="M3689 1759l21 0-16-11-22 0z"/>
<path class="c42" d="M3667 1791l22-32-17-11-21 32z"/>
<path class="c41" d="M3646 1852l21-61-16-11-21 61z"/>
<path class="c38" d="M3625 1937l21-85-16-11-22 85z"/>
<path class="c36" d="M3603 2038l22-101-17-11-21 101z"/>
<path class="c32" d="M3582 2146l21-108-16-11-21 108z"/>
<path class="c30" d="M3561 2252l21-106-16-11-22 106z"/>
<path class="c36" d="M3305 2134l21-7-16-11-22 7z"/>
<path class="c35" d="M3283 2173l22-39-17-11-21 39z"/>
<path class="c34" d="M3262 2234l21-61-16-11-21 61z"/>
<path class="c32" d="M3241 2303l21-69-16-11-22 69zM3091 2343l22-11-17-11-21 12zM3070 2376l21-33-16-10-21 32z"/>
<path class="c31" d="M3049 2384l21-8-16-11-22 8z"/>
<path class="c39" d="M2601 2309l21-12-16-11-21 12z"/>
<path class="c38" d="M2580 2352l21-43-16-11-22 43z"/>
<path class="c36" d="M2558 2424l22-72-17-11-21 72z"/>
<path class="c47" d="M2153 2202l21 10-16-11-21-10zM2132 2223l21-21-16-11-22 21z"/>
<path class="c46" d="M2110 2275l22-52-17-11-21 52z"/>
<path class="c44" d="M2089 2356l21-81-16-11-21 81z"/>
<path class="c41" d="M2068 2463l21-107-16-11-22 107z"/>
<path class="c37" d="M2046 2589l22-126-17-11-21 126z"/>
<path class="c33" d="M2025 2730l21-141-16-11-21 141z"/>
<path class="c29" d="M2004 2877l21-147-16-11-22 147z"/>
<path class="c25" d="M1982 3024l22-147-17-11-21 147z"/>
<path class="c33" d="M4110 1927l22-147-17-35-21 147z"/>
<path class="c42" d="M3726 1794l22 31-17-35-21-31zM3705 1794l21 0-16-35-21 0z"/>
<path class="c41" d="M3684 1826l21-32-16-35-22 32z"/>
<path class="c40" d="M3662 1887l22-61-17-35-21 61z"/>
<path class="c38" d="M3641 1972l21-85-16-35-21 85z"/>
<path class="c35" d="M3620 2073l21-101-16-35-22 101z"/>
<path class="c32" d="M3598 2181l22-108-17-35-21 108z"/>
<path class="c35" d="M3342 2162l22 24-17-35-21-24zM3321 2169l21-7-16-35-21 7z"/>
<path class="c34" d="M3300 2208l21-39-16-35-22 39z"/>
<path class="c33" d="M3278 2268l22-60-17-35-21 61z"/>
<path class="c31" d="M3150 2389l22 34-17-35-21-34z"/>
<path class="c32" d="M3129 2367l21 22-16-35-21-22zM3108 2378l21-11-16-35-22 11z"/>
<path class="c31" d="M3086 2411l22-33-17-35-21 33zM3065 2419l21-8-16-35-21 8z"/>
<path class="c38" d="M2639 2332l21 19-16-35-22-19zM2617 2344l22-12-17-35-21 12z"/>
<path class="c37" d="M2596 2387l21-43-16-35-21 43z"/>
<path class="c35" d="M2575 2459l21-72-16-35-22 72z"/>
<path class="c46" d="M2191 2247l21 41-16-35-22-41z"/>
<path class="c47" d="M2169 2236l22 11-17-35-21-10z"/>
<path class="c46" d="M2148 2258l21-22-16-34-21 21z"/>
<path class="c45" d="M2127 2310l21-52-16-35-22 52z"/>
<path class="c43" d="M2105 2391l22-81-17-35-21 81z"/>
<path class="c40" d="M2084 2498l21-107-16-35-21 107z"/>
<path class="c36" d="M2063 2624l21-126-16-35-22 126z"/>
<path class="c32" d="M2041 2765l22-141-17-35-21 141z"/>
<path class="c28" d="M2020 2912l21-147-16-35-21 147z"/>
<path class="c24" d="M1999 3059l21-147-16-35-22 147z"/>
<path class="c33" d="M4127 1940l21-146-16-14-22 147z"/>
<path class="c29" d="M4105 2088l22-148-17-13-21 147z"/>
<path class="c42" d="M3721 1808l22-1-17-13-21 0z"/>
<path class="c41" d="M3700 1840l21-32-16-14-21 32z"/>
<path class="c40" d="M3679 1900l21-60-16-14-22 61z"/>
<path class="c38" d="M3657 1985l22-85-17-13-21 85z"/>
<path class="c35" d="M3636 2086l21-101-16-13-21 101z"/>
<path class="c32" d="M3615 2195l21-109-16-13-22 108z"/>
<path class="c35" d="M3337 2183l22-8-17-13-21 7z"/>
<path class="c34" d="M3316 2221l21-38-16-14-21 39z"/>
<path class="c33" d="M3295 2282l21-61-16-13-22 60z"/>
<path class="c38" d="M2634 2357l21-12-16-13-22 12z"/>
<path class="c37" d="M2612 2401l22-44-17-13-21 43z"/>
<path class="c35" d="M2591 2472l21-71-16-14-21 72z"/>
<path class="c47" d="M2186 2250l21 11-16-14-22-11z"/>
<path class="c46" d="M2164 2271l22-21-17-14-21 22z"/>
<path class="c45" d="M2143 2323l21-52-16-13-21 52z"/>
<path class="c43" d="M2122 2405l21-82-16-13-22 81z"/>
<path class="c40" d="M2100 2511l22-106-17-14-21 107z"/>
<path class="c36" d="M2079 2638l21-127-16-13-21 126z"/>
<path class="c32" d="M2058 2778l21-140-16-14-22 141z"/>
<path class="c28" d="M2036 2925l22-147-17-13-21 147z"/>
<path class="c24" d="M2015 3072l21-147-16-13-21 147z"/>
<path class="c34" d="M4143 1922l21-147-16 19-21 146z"/>
<path class="c30" d="M4122 2069l21-147-16 18-22 148z"/>
<path class="c42" d="M3716 1821l22-32-17 19-21 32z"/>
<path class="c41" d="M3695 1882l21-61-16 19-21 60z"/>
<path class="c38" d="M3674 1966l21-84-16 18-22 85z"/>
<path class="c36" d="M3652 2067l22-101-17 19-21 101z"/>
<path class="c33" d="M3631 2176l21-109-16 19-21 109z"/>
<path class="c35" d="M3332 2202l22-38-17 19-21 38z"/>
<path class="c34" d="M3311 2263l21-61-16 19-21 61z"/>
<path class="c38" d="M2629 2382l21-44-16 19-22 44z"/>
<path class="c36" d="M2607 2454l22-72-17 19-21 71z"/>
<path class="c34" d="M2586 2547l21-93-16 18-21 94z"/>
<path class="c46" d="M2159 2305l22-53-17 19-21 52z"/>
<path class="c44" d="M2138 2386l21-81-16 18-21 82z"/>
<path class="c41" d="M2117 2493l21-107-16 19-22 106z"/>
<path class="c37" d="M2095 2619l22-126-17 18-21 127z"/>
<path class="c33" d="M2074 2759l21-140-16 19-21 140z"/>
<path class="c29" d="M2053 2907l21-148-16 19-22 147z"/>
<path class="c25" d="M2031 3054l22-147-17 18-21 147z"/>
<path class="c36" d="M4159 1890l22-147-17 32-21 147z"/>
<path class="c31" d="M4138 2037l21-147-16 32-21 147z"/>
<path class="c42" d="M3711 1850l22-61-17 32-21 61z"/>
<path class="c40" d="M3690 1934l21-84-16 32-21 84z"/>
<path class="c37" d="M3669 2036l21-102-16 32-22 101z"/>
<path class="c34" d="M3647 2144l22-108-17 31-21 109z"/>
<path class="c35" d="M3327 2231l22-61-17 32-21 61z"/>
<path class="c33" d="M3306 2301l21-70-16 32-21 70z"/>
<path class="c39" d="M2645 2350l21-43-16 31-21 44z"/>
<path class="c37" d="M2624 2422l21-72-16 32-22 72z"/>
<path class="c35" d="M2602 2515l22-93-17 32-21 93z"/>
<path class="c47" d="M2176 2273l21-53-16 32-22 53z"/>
<path class="c45" d="M2154 2354l22-81-17 32-21 81z"/>
<path class="c42" d="M2133 2461l21-107-16 32-21 107z"/>
<path class="c38" d="M2112 2587l21-126-16 32-22 126z"/>
<path class="c34" d="M2090 2728l22-141-17 32-21 140z"/>
<path class="c30" d="M2069 2875l21-147-16 31-21 148z"/>
<path class="c26" d="M2048 3022l21-147-16 32-22 147z"/>
<path class="c36" d="M4176 1870l21-147-16 20-22 147z"/>
<path class="c32" d="M4154 2017l22-147-17 20-21 147z"/>
<path class="c28" d="M4133 2157l21-140-16 20-21 140z"/>
<path class="c45" d="M3749 1769l21-32-16 20-21 32z"/>
<path class="c43" d="M3728 1830l21-61-16 20-22 61z"/>
<path class="c41" d="M3706 1915l22-85-17 20-21 84z"/>
<path class="c38" d="M3685 2016l21-101-16 19-21 102z"/>
<path class="c35" d="M3664 2124l21-108-16 20-22 108z"/>
<path class="c37" d="M3365 2151l21-39-16 20-21 38z"/>
<path class="c36" d="M3344 2211l21-60-16 19-22 61z"/>
<path class="c34" d="M3322 2281l22-70-17 20-21 70zM3152 2354l21-33-16 20-22 33z"/>
<path class="c33" d="M3088 2403l21-32-16 20-22 32z"/>
<path class="c40" d="M2661 2330l21-43-16 20-21 43z"/>
<path class="c38" d="M2640 2402l21-72-16 20-21 72z"/>
<path class="c36" d="M2618 2495l22-93-16 20-22 93z"/>
<path class="c33" d="M2597 2601l21-106-16 20-21 106z"/>
<path class="c48" d="M2192 2253l21-52-16 19-21 53z"/>
<path class="c46" d="M2171 2334l21-81-16 20-22 81z"/>
<path class="c43" d="M2149 2441l22-107-17 20-21 107z"/>
<path class="c39" d="M2128 2567l21-126-16 20-21 126z"/>
<path class="c35" d="M2107 2708l21-141-16 20-22 141z"/>
<path class="c31" d="M2085 2855l22-147-17 20-21 147z"/>
<path class="c27" d="M2064 3002l21-147-16 20-21 147z"/>
<path class="c37" d="M4192 1879l21-147-16-9-21 147z"/>
<path class="c32" d="M4171 2026l21-147-16-9-22 147z"/>
<path class="c28" d="M4149 2166l22-140-17-9-21 140z"/>
<path class="c45" d="M3787 1746l21 0-16-9-22 0zM3765 1778l22-32-17-9-21 32z"/>
<path class="c43" d="M3744 1839l21-61-16-9-21 61z"/>
<path class="c41" d="M3723 1924l21-85-16-9-22 85z"/>
<path class="c38" d="M3701 2025l22-101-17-9-21 101z"/>
<path class="c35" d="M3680 2133l21-108-16-9-21 108z"/>
<path class="c38" d="M3403 2121l21-7-16-9-22 7zM3381 2160l22-39-17-9-21 39z"/>
<path class="c36" d="M3360 2220l21-60-16-9-21 60z"/>
<path class="c34" d="M3339 2290l21-70-16-9-22 70z"/>
<path class="c35" d="M3189 2330l22-11-17-9-21 11z"/>
<path class="c34" d="M3168 2363l21-33-16-9-21 33zM3147 2371l21-8-16-9-22 8zM3125 2380l22-9-17-9-21 9z"/>
<path class="c33" d="M3104 2412l21-32-16-9-21 32zM3083 2423l21-11-16-9-22 11z"/>
<path class="c36" d="M2997 2352l22-6-17-9-21 6z"/>
<path class="c41" d="M2699 2296l21-12-16-9-22 12z"/>
<path class="c40" d="M2677 2339l22-43-17-9-21 43z"/>
<path class="c38" d="M2656 2411l21-72-16-9-21 72z"/>
<path class="c36" d="M2635 2504l21-93-16-9-22 93z"/>
<path class="c33" d="M2613 2610l22-106-17-9-21 106z"/>
<path class="c50" d="M2251 2188l21 11-16-9-21-11z"/>
<path class="c49" d="M2230 2210l21-22-16-9-22 22z"/>
<path class="c48" d="M2208 2262l22-52-17-9-21 52z"/>
<path class="c46" d="M2187 2343l21-81-16-9-21 81z"/>
<path class="c43" d="M2166 2450l21-107-16-9-22 107z"/>
<path class="c39" d="M2144 2576l22-126-17-9-21 126z"/>
<path class="c35" d="M2123 2717l21-141-16-9-21 141z"/>
<path class="c31" d="M2102 2864l21-147-16-9-22 147z"/>
<path class="c27" d="M2080 3011l22-147-17-9-21 147z"/>
<path class="c36" d="M4208 1920l22-147-17-41-21 147z"/>
<path class="c31" d="M4187 2067l21-147-16-41-21 147z"/>
<path class="c27" d="M4166 2208l21-141-16-41-22 140z"/>
<path class="c44" d="M3824 1787l22 31-17-41-21-31zM3803 1787l21 0-16-41-21 0zM3782 1819l21-32-16-41-22 32z"/>
<path class="c42" d="M3760 1880l22-61-17-41-21 61z"/>
<path class="c40" d="M3739 1965l21-85-16-41-21 85z"/>
<path class="c37" d="M3718 2066l21-101-16-41-22 101z"/>
<path class="c34" d="M3696 2174l22-108-17-41-21 108z"/>
<path class="c36" d="M3462 2179l21 51-16-41-22-51z"/>
<path class="c37" d="M3440 2155l22 24-17-41-21-24zM3419 2162l21-7-16-41-21 7zM3398 2201l21-39-16-41-22 39z"/>
<path class="c35" d="M3376 2261l22-60-17-41-21 60z"/>
<path class="c33" d="M3355 2331l21-70-16-41-21 70z"/>
<path class="c34" d="M3206 2371l21-11-16-41-22 11z"/>
<path class="c33" d="M3184 2404l22-33-17-41-21 33zM3163 2412l21-8-16-41-21 8zM3142 2421l21-9-16-41-22 9z"/>
<path class="c32" d="M3120 2453l22-32-17-41-21 32zM3099 2464l21-11-16-41-21 11z"/>
<path class="c33" d="M3078 2443l21 21-16-41-22-21z"/>
<path class="c34" d="M3056 2409l22 34-17-41-21-34z"/>
<path class="c35" d="M3035 2387l21 22-16-41-21-22zM3014 2393l21-6-16-41-22 6z"/>
<path class="c41" d="M2736 2325l22 19-17-41-21-19z"/>
<path class="c40" d="M2715 2337l21-12-16-41-21 12z"/>
<path class="c39" d="M2694 2380l21-43-16-41-22 43z"/>
<path class="c37" d="M2672 2452l22-72-17-41-21 72z"/>
<path class="c35" d="M2651 2545l21-93-16-41-21 93z"/>
<path class="c32" d="M2630 2651l21-106-16-41-22 106z"/>
<path class="c48" d="M2289 2240l21 41-16-41-22-41z"/>
<path class="c49" d="M2267 2229l22 11-17-41-21-11zM2246 2251l21-22-16-41-21 22z"/>
<path class="c47" d="M2225 2303l21-52-16-41-22 52z"/>
<path class="c45" d="M2203 2384l22-81-17-41-21 81z"/>
<path class="c42" d="M2182 2491l21-107-16-41-21 107z"/>
<path class="c38" d="M2161 2617l21-126-16-41-22 126z"/>
<path class="c34" d="M2139 2758l22-141-17-41-21 141z"/>
<path class="c30" d="M2118 2905l21-147-16-41-21 147z"/>
<path class="c26" d="M2097 3052l21-147-16-41-22 147z"/>
<path class="c34" d="M4225 1984l21-147-16-64-22 147z"/>
<path class="c30" d="M4203 2132l22-148-17-64-21 147z"/>
<path class="c26" d="M4182 2272l21-140-16-65-21 141z"/>
<path class="c39" d="M3883 1942l22 84-17-65-21-83z"/>
<path class="c41" d="M3862 1882l21 60-16-64-21-60z"/>
<path class="c42" d="M3841 1851l21 31-16-64-22-31z"/>
<path class="c43" d="M3819 1852l22-1-17-64-21 0z"/>
<path class="c42" d="M3798 1884l21-32-16-65-21 32z"/>
<path class="c40" d="M3777 1944l21-60-16-65-22 61z"/>
<path class="c38" d="M3755 2029l22-85-17-64-21 85z"/>
<path class="c35" d="M3734 2130l21-101-16-64-21 101z"/>
<path class="c32" d="M3713 2239l21-109-16-64-22 108z"/>
<path class="c31" d="M3521 2362l21 72-16-64-22-73z"/>
<path class="c33" d="M3499 2294l22 68-17-65-21-67z"/>
<path class="c35" d="M3478 2243l21 51-16-64-21-51z"/>
<path class="c36" d="M3457 2219l21 24-16-64-22-24zM3435 2227l22-8-17-64-21 7z"/>
<path class="c35" d="M3414 2265l21-38-16-65-21 39z"/>
<path class="c33" d="M3393 2326l21-61-16-64-22 60z"/>
<path class="c32" d="M3371 2396l22-70-17-65-21 70z"/>
<path class="c31" d="M3158 2485l21-8-16-65-21 9zM3137 2518l21-33-16-64-22 32z"/>
<path class="c30" d="M3115 2529l22-11-17-65-21 11z"/>
<path class="c31" d="M3094 2508l21 21-16-65-21-21z"/>
<path class="c33" d="M3073 2473l21 35-16-65-22-34z"/>
<path class="c34" d="M3051 2451l22 22-17-64-21-22zM3030 2457l21-6-16-64-21 6z"/>
<path class="c39" d="M2731 2401l22-12-17-64-21 12z"/>
<path class="c38" d="M2710 2445l21-44-16-64-21 43z"/>
<path class="c36" d="M2689 2516l21-71-16-65-22 72z"/>
<path class="c33" d="M2667 2609l22-93-17-64-21 93z"/>
<path class="c30" d="M2646 2715l21-106-16-64-21 106z"/>
<path class="c27" d="M2625 2824l21-109-16-64-22 108z"/>
<path class="c45" d="M2326 2345l22 68-17-65-21-67z"/>
<path class="c47" d="M2305 2304l21 41-16-64-21-41zM2284 2294l21 10-16-64-22-11zM2262 2315l22-21-17-65-21 22z"/>
<path class="c46" d="M2241 2367l21-52-16-64-21 52z"/>
<path class="c43" d="M2220 2449l21-82-16-64-22 81z"/>
<path class="c40" d="M2198 2555l22-106-17-65-21 107z"/>
<path class="c37" d="M2177 2682l21-127-16-64-21 126z"/>
<path class="c33" d="M2156 2822l21-140-16-65-22 141z"/>
<path class="c29" d="M2134 2969l22-147-17-64-21 147z"/>
<path class="c24" d="M2113 3116l21-147-16-64-21 147z"/>
<path class="c32" d="M4241 2057l21-147-16-73-21 147z"/>
<path class="c28" d="M4220 2204l21-147-16-73-22 148z"/>
<path class="c24" d="M4198 2344l22-140-17-72-21 140z"/>
<path class="c37" d="M3900 2015l21 83-16-72-22-84z"/>
<path class="c39" d="M3878 1955l22 60-17-73-21-60z"/>
<path class="c41" d="M3857 1924l21 31-16-73-21-31zM3836 1924l21 0-16-73-22 1z"/>
<path class="c40" d="M3814 1956l22-32-17-72-21 32z"/>
<path class="c39" d="M3793 2017l21-61-16-72-21 60z"/>
<path class="c36" d="M3772 2101l21-84-16-73-22 85z"/>
<path class="c33" d="M3750 2202l22-101-17-72-21 101z"/>
<path class="c30" d="M3729 2311l21-109-16-72-21 109z"/>
<path class="c31" d="M3516 2366l21 68-16-72-22-68z"/>
<path class="c33" d="M3494 2316l22 50-17-72-21-51z"/>
<path class="c34" d="M3473 2291l21 25-16-73-21-24zM3452 2299l21-8-16-72-22 8z"/>
<path class="c33" d="M3430 2337l22-38-17-72-21 38z"/>
<path class="c32" d="M3409 2398l21-61-16-72-21 61z"/>
<path class="c29" d="M3110 2580l22 21-17-72-21-21z"/>
<path class="c31" d="M3089 2546l21 34-16-72-21-35z"/>
<path class="c32" d="M3068 2523l21 23-16-73-22-22zM3046 2530l22-7-17-72-21 6z"/>
<path class="c28" d="M2662 2787l22-105-17-73-21 106z"/>
<path class="c25" d="M2641 2896l21-109-16-72-21 109z"/>
<path class="c43" d="M2342 2418l22 67-16-72-22-68z"/>
<path class="c45" d="M2321 2377l21 41-16-73-21-41zM2300 2366l21 11-16-73-21-10zM2279 2387l21-21-16-72-22 21z"/>
<path class="c44" d="M2257 2440l22-53-17-72-21 52z"/>
<path class="c41" d="M2236 2521l21-81-16-73-21 82z"/>
<path class="c39" d="M2215 2628l21-107-16-72-22 106z"/>
<path class="c35" d="M2193 2754l22-126-17-73-21 127z"/>
<path class="c31" d="M2172 2894l21-140-16-72-21 140z"/>
<path class="c27" d="M2151 3042l21-148-16-72-22 147z"/>
<path class="c23" d="M2129 3189l22-147-17-73-21 147z"/>
<path class="c38" d="M3895 2018l21 60-16-63-22-60z"/>
<path class="c39" d="M3873 1987l22 31-17-63-21-31zM3852 1987l21 0-16-63-21 0zM3831 2019l21-32-16-63-22 32z"/>
<path class="c37" d="M3809 2080l22-61-17-63-21 61z"/>
<path class="c35" d="M3788 2165l21-85-16-63-21 84z"/>
<path class="c32" d="M3767 2266l21-101-16-64-22 101z"/>
<path class="c29" d="M3745 2374l22-108-17-64-21 109z"/>
<path class="c31" d="M3511 2379l21 51-16-64-22-50z"/>
<path class="c32" d="M3489 2355l22 24-17-63-21-25zM3468 2362l21-7-16-64-21 8zM3447 2401l21-39-16-63-22 38z"/>
<path class="c29" d="M3105 2609l22 34-17-63-21-34z"/>
<path class="c30" d="M3084 2587l21 22-16-63-21-23zM3063 2593l21-6-16-64-22 7z"/>
<path class="c42" d="M2359 2481l21 67-16-63-22-67z"/>
<path class="c43" d="M2337 2440l22 41-17-63-21-41z"/>
<path class="c44" d="M2316 2430l21 10-16-63-21-11z"/>
<path class="c43" d="M2295 2451l21-21-16-64-21 21z"/>
<path class="c42" d="M2274 2503l21-52-16-64-22 53z"/>
<path class="c40" d="M2252 2584l22-81-17-63-21 81z"/>
<path class="c37" d="M2231 2691l21-107-16-63-21 107z"/>
<path class="c33" d="M2210 2817l21-126-16-63-22 126z"/>
<path class="c29" d="M2188 2958l22-141-17-63-21 140z"/>
<path class="c25" d="M2167 3105l21-147-16-64-21 148z"/>
<path class="c21" d="M2146 3252l21-147-16-63-22 147z"/>
<path class="c38" d="M3890 2028l21 31-16-41-22-31zM3868 2028l22 0-17-41-21 0zM3847 2060l21-32-16-41-21 32z"/>
<path class="c36" d="M3826 2121l21-61-16-41-22 61z"/>
<path class="c34" d="M3804 2205l22-84-17-41-21 85z"/>
<path class="c31" d="M3783 2306l21-101-16-40-21 101zM3506 2396l21 24-16-41-22-24z"/>
<path class="c32" d="M3484 2403l22-7-17-41-21 7z"/>
<path class="c29" d="M3100 2627l22 23-17-41-21-22zM3079 2634l21-7-16-40-21 6z"/>
<path class="c42" d="M2354 2481l21 41-16-41-22-41z"/>
<path class="c43" d="M2332 2470l22 11-17-41-21-10zM2311 2491l21-21-16-40-21 21z"/>
<path class="c41" d="M2290 2544l21-53-16-40-21 52z"/>
<path class="c39" d="M2268 2625l22-81-16-41-22 81z"/>
<path class="c36" d="M2247 2732l21-107-16-41-21 107z"/>
<path class="c32" d="M2226 2858l21-126-16-41-21 126z"/>
<path class="c28" d="M2204 2998l22-140-16-41-22 141z"/>
<path class="c24" d="M2183 3146l21-148-16-40-21 147z"/>
<path class="c20" d="M2162 3293l21-147-16-41-21 147z"/>
<path class="c38" d="M3885 2038l21 0-16-10-22 0zM3863 2070l22-32-17-10-21 32z"/>
<path class="c36" d="M3842 2131l21-61-16-10-21 61z"/>
<path class="c34" d="M3821 2215l21-84-16-10-22 84z"/>
<path class="c31" d="M3799 2317l22-102-17-10-21 101z"/>
<path class="c17" d="M2562 3258l21 31-16-10-21-31z"/>
<path class="c43" d="M2349 2480l21 11-16-10-22-11zM2327 2501l22-21-17-10-21 21z"/>
<path class="c41" d="M2306 2554l21-53-16-10-21 53z"/>
<path class="c39" d="M2285 2635l21-81-16-10-22 81z"/>
<path class="c36" d="M2263 2742l22-107-17-10-21 107z"/>
<path class="c32" d="M2242 2868l21-126-16-10-21 126z"/>
<path class="c28" d="M2221 3009l21-141-16-10-22 140z"/>
<path class="c24" d="M2199 3156l22-147-17-11-21 148z"/>
<path class="c20" d="M2178 3303l21-147-16-10-21 147z"/>
<path class="c39" d="M3880 2048l21-31-16 21-22 32z"/>
<path class="c37" d="M3858 2109l22-61-17 22-21 61z"/>
<path class="c35" d="M3837 2194l21-85-16 22-21 84z"/>
<path class="c32" d="M3816 2295l21-101-16 21-22 102z"/>
<path class="c17" d="M2600 3267l21 0-16 21-22 1z"/>
<path class="c18" d="M2578 3236l22 31-17 22-21-31z"/>
<path class="c20" d="M2557 3176l21 60-16 22-21-60z"/>
<path class="c42" d="M2322 2532l22-52-17 21-21 53z"/>
<path class="c40" d="M2301 2613l21-81-16 22-21 81z"/>
<path class="c37" d="M2280 2720l21-107-16 22-22 107z"/>
<path class="c33" d="M2258 2847l22-127-17 22-21 126z"/>
<path class="c29" d="M2237 2987l21-140-16 21-21 141z"/>
<path class="c25" d="M2216 3134l21-147-16 22-22 147z"/>
<path class="c21" d="M2194 3281l22-147-17 22-21 147z"/>
<path class="c37" d="M3853 2146l22-85-17 48-21 85z"/>
<path class="c34" d="M3832 2247l21-101-16 48-21 101z"/>
<path class="c31" d="M3811 2355l21-108-16 48-22 108z"/>
<path class="c19" d="M2659 3187l21-61-16 48-22 61z"/>
<path class="c18" d="M2637 3219l22-32-17 48-21 32zM2616 3219l21 0-16 48-21 0z"/>
<path class="c20" d="M2595 3188l21 31-16 48-22-31z"/>
<path class="c22" d="M2573 3128l22 60-17 48-21-60z"/>
<path class="c42" d="M2317 2565l22-81-17 48-21 81z"/>
<path class="c39" d="M2296 2672l21-107-16 48-21 107z"/>
<path class="c35" d="M2275 2798l21-126-16 48-22 127z"/>
<path class="c31" d="M2253 2939l22-141-17 49-21 140z"/>
<path class="c27" d="M2232 3086l21-147-16 48-21 147z"/>
<path class="c23" d="M2211 3233l21-147-16 48-22 147z"/>
<path class="c36" d="M3848 2181l22-101-17 66-21 101z"/>
<path class="c33" d="M3827 2290l21-109-16 66-21 108z"/>
<path class="c23" d="M2696 3061l22-85-17 65-21 85z"/>
<path class="c21" d="M2675 3121l21-60-16 65-21 61zM2654 3153l21-32-16 66-22 32zM2632 3153l22 0-17 66-21 0z"/>
<path class="c22" d="M2611 3122l21 31-16 66-21-31z"/>
<path class="c24" d="M2590 3063l21 59-16 66-22-60z"/>
<path class="c41" d="M2312 2606l22-106-17 65-21 107z"/>
<path class="c38" d="M2291 2733l21-127-16 66-21 126z"/>
<path class="c34" d="M2270 2873l21-140-16 65-22 141z"/>
<path class="c29" d="M2248 3021l22-148-17 66-21 147z"/>
<path class="c25" d="M2227 3167l21-146-16 65-21 147z"/>
<path class="c38" d="M3865 2111l21-101-16 70-22 101z"/>
<path class="c35" d="M3843 2220l22-109-17 70-21 109z"/>
<path class="c32" d="M3822 2325l21-105-16 70-21 105z"/>
<path class="c24" d="M2691 3051l22-61-17 71-21 60z"/>
<path class="c23" d="M2670 3083l21-32-16 70-21 32zM2649 3083l21 0-16 70-22 0z"/>
<path class="c24" d="M2627 3052l22 31-17 70-21-31z"/>
<path class="c26" d="M2606 2992l21 60-16 70-21-59z"/>
<path class="c44" d="M2329 2536l21-106-16 70-22 106z"/>
<path class="c40" d="M2307 2663l22-127-17 70-21 127z"/>
<path class="c36" d="M2286 2803l21-140-16 70-21 140z"/>
<path class="c32" d="M2265 2950l21-147-16 70-22 148z"/>
<path class="c28" d="M2243 3097l22-147-17 71-21 146z"/>
<path class="c43" d="M3902 1948l22-85-17 62-21 85z"/>
<path class="c41" d="M3881 2049l21-101-16 62-21 101z"/>
<path class="c38" d="M3860 2157l21-108-16 62-22 109z"/>
<path class="c35" d="M3838 2263l22-106-17 63-21 105z"/>
<path class="c32" d="M3817 2356l21-93-16 62-21 93z"/>
<path class="c25" d="M2686 3021l22-32-17 62-21 32zM2665 3021l21 0-16 62-21 0z"/>
<path class="c27" d="M2644 2990l21 31-16 62-22-31z"/>
<path class="c29" d="M2622 2930l22 60-17 62-21-60z"/>
<path class="c49" d="M2366 2367l22-81-17 62-21 82z"/>
<path class="c46" d="M2345 2474l21-107-16 63-21 106z"/>
<path class="c42" d="M2324 2600l21-126-16 62-22 127z"/>
<path class="c38" d="M2302 2741l22-141-17 63-21 140z"/>
<path class="c34" d="M2281 2888l21-147-16 62-21 147z"/>
<path class="c30" d="M2260 3035l21-147-16 62-22 147z"/>
<path class="c47" d="M3940 1819l21-61-16 44-21 61z"/>
<path class="c45" d="M3918 1904l22-85-16 44-22 85z"/>
<path class="c42" d="M3897 2005l21-101-16 44-21 101z"/>
<path class="c39" d="M3876 2113l21-108-16 44-21 108z"/>
<path class="c36" d="M3855 2219l21-106-16 44-22 106z"/>
<path class="c34" d="M3833 2312l22-93-17 44-21 93z"/>
<path class="c40" d="M3556 2201l21-61-16 44-21 60z"/>
<path class="c39" d="M3535 2271l21-70-16 43-22 70z"/>
<path class="c37" d="M3513 2333l22-62-17 43-21 62z"/>
<path class="c38" d="M3151 2433l21-62-16 44-22 62z"/>
<path class="c36" d="M3129 2503l22-70-17 44-21 69z"/>
<path class="c35" d="M3108 2564l21-61-16 43-21 61z"/>
<path class="c27" d="M2681 2977l22 0-17 44-21 0z"/>
<path class="c28" d="M2660 2946l21 31-16 44-21-31z"/>
<path class="c30" d="M2639 2886l21 60-16 44-22-60z"/>
<path class="c50" d="M2383 2324l21-82-16 44-22 81z"/>
<path class="c47" d="M2361 2430l22-106-17 43-21 107z"/>
<path class="c44" d="M2340 2557l21-127-16 44-21 126z"/>
<path class="c40" d="M2319 2697l21-140-16 43-22 141z"/>
<path class="c36" d="M2297 2844l22-147-17 44-21 147z"/>
<path class="c31" d="M2276 2991l21-147-16 44-21 147z"/>
<path class="c42" d="M4404 1843l21-147-16 16-21 147z"/>
<path class="c50" d="M3977 1742l22-32-17 17-21 31z"/>
<path class="c48" d="M3956 1803l21-61-16 16-21 61z"/>
<path class="c46" d="M3935 1887l21-84-16 16-22 85z"/>
<path class="c43" d="M3913 1988l22-101-17 17-21 101z"/>
<path class="c40" d="M3892 2097l21-109-16 17-21 108z"/>
<path class="c37" d="M3871 2203l21-106-16 16-21 106z"/>
<path class="c35" d="M3849 2296l22-93-16 16-22 93z"/>
<path class="c33" d="M3828 2367l21-71-16 16-21 72z"/>
<path class="c43" d="M3594 2123l21-38-16 17-22 38z"/>
<path class="c41" d="M3572 2184l22-61-17 17-21 61z"/>
<path class="c39" d="M3551 2254l21-70-16 17-21 70z"/>
<path class="c38" d="M3530 2316l21-62-16 17-22 62z"/>
<path class="c37" d="M3508 2354l22-38-17 17-21 38z"/>
<path class="c39" d="M3380 2327l22-33-17 17-21 32z"/>
<path class="c41" d="M3188 2354l22-38-17 16-21 39z"/>
<path class="c39" d="M3167 2416l21-62-16 17-21 62z"/>
<path class="c37" d="M3146 2486l21-70-16 17-22 70z"/>
<path class="c35" d="M3124 2547l22-61-17 17-21 61zM3103 2585l21-38-16 17-21 38z"/>
<path class="c46" d="M2890 2303l21-44-16 17-22 44z"/>
<path class="c53" d="M2420 2226l22-53-17 17-21 52z"/>
<path class="c51" d="M2399 2307l21-81-16 16-21 82z"/>
<path class="c48" d="M2378 2413l21-106-16 17-22 106z"/>
<path class="c45" d="M2356 2540l22-127-17 17-21 127z"/>
<path class="c41" d="M2335 2680l21-140-16 17-21 140z"/>
<path class="c36" d="M2314 2828l21-148-16 17-22 147z"/>
<path class="c32" d="M2292 2975l22-147-17 16-21 147z"/>
<path class="c42" d="M4420 1857l22-147-17-14-21 147z"/>
<path class="c50" d="M4015 1724l21 0-16-14-21 0zM3994 1756l21-32-16-14-22 32z"/>
<path class="c48" d="M3972 1817l22-61-17-14-21 61z"/>
<path class="c46" d="M3951 1902l21-85-16-14-21 84z"/>
<path class="c43" d="M3930 2003l21-101-16-15-22 101z"/>
<path class="c40" d="M3908 2111l22-108-17-15-21 109z"/>
<path class="c37" d="M3887 2217l21-106-16-14-21 106z"/>
<path class="c34" d="M3866 2310l21-93-16-14-22 93z"/>
<path class="c33" d="M3844 2382l22-72-17-14-21 71z"/>
<path class="c44" d="M3631 2100l22-8-17-15-21 8z"/>
<path class="c43" d="M3610 2138l21-38-16-15-21 38z"/>
<path class="c41" d="M3589 2199l21-61-16-15-22 61z"/>
<path class="c39" d="M3567 2269l22-70-17-15-21 70z"/>
<path class="c38" d="M3546 2330l21-61-16-15-21 62z"/>
<path class="c37" d="M3525 2369l21-39-16-14-22 38zM3503 2376l22-7-17-15-21 7z"/>
<path class="c40" d="M3418 2309l21-11-16-15-21 11z"/>
<path class="c39" d="M3397 2341l21-32-16-15-22 33zM3375 2350l22-9-17-14-21 8zM3354 2358l21-8-16-15-21 9z"/>
<path class="c41" d="M3226 2330l21-6-16-15-21 7z"/>
<path class="c40" d="M3205 2369l21-39-16-14-22 38z"/>
<path class="c39" d="M3183 2431l22-62-17-15-21 62z"/>
<path class="c37" d="M3162 2501l21-70-16-15-21 70z"/>
<path class="c35" d="M3141 2561l21-60-16-15-22 61z"/>
<path class="c34" d="M3119 2600l22-39-17-14-21 38zM3098 2607l21-7-16-15-21 8z"/>
<path class="c47" d="M2949 2262l21 19-16-15-22-19zM2927 2274l22-12-17-15-21 12z"/>
<path class="c45" d="M2906 2317l21-43-16-15-21 44z"/>
<path class="c55" d="M2479 2167l22 10-17-14-21-11zM2458 2188l21-21-16-15-21 21z"/>
<path class="c53" d="M2437 2240l21-52-16-15-22 53z"/>
<path class="c51" d="M2415 2321l22-81-17-14-21 81z"/>
<path class="c48" d="M2394 2428l21-107-16-14-21 106z"/>
<path class="c45" d="M2373 2555l21-127-16-15-22 127z"/>
<path class="c41" d="M2351 2695l22-140-17-15-21 140z"/>
<path class="c36" d="M2330 2842l21-147-16-15-21 148z"/>
<path class="c32" d="M2309 2989l21-147-16-14-22 147z"/>
<path class="c41" d="M4437 1903l21-147-16-46-22 147z"/>
<path class="c48" d="M4074 1801l21 60-16-46-21-60z"/>
<path class="c49" d="M4053 1770l21 31-16-46-22-31zM4031 1771l22-1-17-46-21 0zM4010 1802l21-31-16-47-21 32z"/>
<path class="c47" d="M3989 1863l21-61-16-46-22 61z"/>
<path class="c45" d="M3967 1948l22-85-17-46-21 85z"/>
<path class="c42" d="M3946 2049l21-101-16-46-21 101z"/>
<path class="c39" d="M3925 2157l21-108-16-46-22 108z"/>
<path class="c36" d="M3903 2263l22-106-17-46-21 106z"/>
<path class="c33" d="M3882 2356l21-93-16-46-21 93z"/>
<path class="c42" d="M3690 2162l21 51-16-46-21-51z"/>
<path class="c43" d="M3669 2138l21 24-16-46-21-24zM3648 2146l21-8-16-46-22 8z"/>
<path class="c42" d="M3626 2184l22-38-17-46-21 38z"/>
<path class="c40" d="M3605 2245l21-61-16-46-21 61z"/>
<path class="c38" d="M3584 2315l21-70-16-46-22 70z"/>
<path class="c37" d="M3562 2377l22-62-17-46-21 61z"/>
<path class="c36" d="M3520 2422l21-7-16-46-22 7z"/>
<path class="c37" d="M3498 2399l22 23-17-46-21-23z"/>
<path class="c38" d="M3477 2365l21 34-16-46-21-34z"/>
<path class="c39" d="M3456 2344l21 21-16-46-22-21zM3434 2355l22-11-17-46-21 11z"/>
<path class="c38" d="M3413 2387l21-32-16-46-21 32zM3392 2396l21-9-16-46-22 9zM3370 2404l22-8-17-46-21 8z"/>
<path class="c36" d="M3178 2547l22-70-17-46-21 70z"/>
<path class="c34" d="M3157 2608l21-61-16-46-21 60z"/>
<path class="c33" d="M3136 2646l21-38-16-47-22 39zM3114 2653l22-7-17-46-21 7z"/>
<path class="c34" d="M3093 2629l21 24-16-46-21-24z"/>
<path class="c36" d="M3072 2579l21 50-16-46-22-51z"/>
<path class="c45" d="M2986 2327l22 46-17-46-21-46z"/>
<path class="c46" d="M2965 2308l21 19-16-46-21-19z"/>
<path class="c45" d="M2944 2320l21-12-16-46-22 12z"/>
<path class="c44" d="M2922 2364l22-44-17-46-21 43z"/>
<path class="c53" d="M2517 2223l21 41-16-46-21-41z"/>
<path class="c54" d="M2496 2213l21 10-16-46-22-10zM2474 2234l22-21-17-46-21 21z"/>
<path class="c52" d="M2453 2286l21-52-16-46-21 52z"/>
<path class="c50" d="M2432 2367l21-81-16-46-22 81z"/>
<path class="c47" d="M2410 2474l22-107-17-46-21 107z"/>
<path class="c43" d="M2389 2601l21-127-16-46-21 127z"/>
<path class="c39" d="M2368 2741l21-140-16-46-22 140z"/>
<path class="c35" d="M2346 2888l22-147-17-46-21 147z"/>
<path class="c31" d="M2325 3035l21-147-16-46-21 147z"/>
<path class="c39" d="M4453 1977l21-147-16-74-21 147z"/>
<path class="c44" d="M4112 1935l21 84-16-74-22-84z"/>
<path class="c46" d="M4090 1875l22 60-17-74-21-60z"/>
<path class="c47" d="M4069 1844l21 31-16-74-21-31zM4048 1845l21-1-16-74-22 1zM4026 1876l22-31-17-74-21 31z"/>
<path class="c45" d="M4005 1937l21-61-16-74-21 61z"/>
<path class="c43" d="M3984 2022l21-85-16-74-22 85z"/>
<path class="c40" d="M3962 2123l22-101-17-74-21 101z"/>
<path class="c37" d="M3941 2231l21-108-16-74-21 108z"/>
<path class="c38" d="M3728 2287l21 68-16-74-22-68z"/>
<path class="c40" d="M3706 2236l22 51-17-74-21-51z"/>
<path class="c41" d="M3685 2212l21 24-16-74-21-24zM3664 2220l21-8-16-74-21 8z"/>
<path class="c40" d="M3642 2258l22-38-16-74-22 38z"/>
<path class="c38" d="M3621 2319l21-61-16-74-21 61z"/>
<path class="c36" d="M3600 2389l21-70-16-74-21 70zM3493 2439l22 34-17-74-21-34z"/>
<path class="c37" d="M3472 2418l21 21-16-74-21-21zM3451 2429l21-11-16-74-22 11z"/>
<path class="c36" d="M3429 2461l22-32-17-74-21 32zM3408 2470l21-9-16-74-21 9zM3387 2478l21-8-16-74-22 8z"/>
<path class="c31" d="M3131 2728l21-8-16-74-22 7z"/>
<path class="c32" d="M3109 2703l22 25-17-75-21-24z"/>
<path class="c34" d="M3088 2653l21 50-16-74-21-50z"/>
<path class="c37" d="M3067 2585l21 68-16-74-22-68z"/>
<path class="c39" d="M3045 2512l22 73-17-74-21-73z"/>
<path class="c41" d="M3024 2447l21 65-16-74-21-65z"/>
<path class="c43" d="M3003 2401l21 46-16-74-22-46z"/>
<path class="c44" d="M2981 2382l22 19-17-74-21-19zM2960 2394l21-12-16-74-21 12z"/>
<path class="c42" d="M2939 2438l21-44-16-74-22 44z"/>
<path class="c48" d="M2576 2406l21 89-16-75-21-89z"/>
<path class="c50" d="M2555 2338l21 68-16-75-22-67z"/>
<path class="c51" d="M2533 2297l22 41-17-74-21-41z"/>
<path class="c52" d="M2512 2287l21 10-16-74-21-10zM2491 2308l21-21-16-74-22 21z"/>
<path class="c50" d="M2469 2360l22-52-17-74-21 52z"/>
<path class="c48" d="M2448 2442l21-82-16-74-21 81z"/>
<path class="c45" d="M2427 2548l21-106-16-75-22 107z"/>
<path class="c42" d="M2405 2675l22-127-17-74-21 127z"/>
<path class="c38" d="M2384 2815l21-140-16-74-21 140z"/>
<path class="c33" d="M2363 2962l21-147-16-74-22 147z"/>
<path class="c29" d="M2341 3109l22-147-17-74-21 147z"/>
<path class="c36" d="M4469 2073l22-147-17-96-21 147z"/>
<path class="c32" d="M4192 2325l21 112-16-96-21-111z"/>
<path class="c35" d="M4171 2215l21 110-16-95-22-110z"/>
<path class="c39" d="M4149 2114l22 101-17-95-21-101z"/>
<path class="c41" d="M4128 2031l21 83-16-95-21-84z"/>
<path class="c43" d="M4107 1971l21 60-16-96-22-60z"/>
<path class="c45" d="M4085 1940l22 31-17-96-21-31zM4064 1940l21 0-16-96-21 1z"/>
<path class="c44" d="M4043 1972l21-32-16-95-22 31z"/>
<path class="c43" d="M4021 2033l22-61-17-96-21 61z"/>
<path class="c40" d="M4000 2118l21-85-16-96-21 85z"/>
<path class="c37" d="M3979 2219l21-101-16-96-22 101zM3723 2332l21 51-16-96-22-51z"/>
<path class="c38" d="M3701 2308l22 24-17-96-21-24zM3680 2315l21-7-16-96-21 8z"/>
<path class="c37" d="M3659 2354l21-39-16-95-22 38z"/>
<path class="c36" d="M3637 2414l22-60-17-96-21 61z"/>
<path class="c34" d="M3488 2513l22 22-17-96-21-21zM3467 2524l21-11-16-95-21 11z"/>
<path class="c33" d="M3446 2557l21-33-16-95-22 32zM3424 2565l22-8-17-96-21 9zM3403 2574l21-9-16-95-21 8z"/>
<path class="c30" d="M3126 2799l21 24-16-95-22-25z"/>
<path class="c32" d="M3104 2748l22 51-17-96-21-50z"/>
<path class="c34" d="M3083 2680l21 68-16-95-21-68z"/>
<path class="c36" d="M3062 2608l21 72-16-95-22-73z"/>
<path class="c39" d="M3040 2543l22 65-17-96-21-65z"/>
<path class="c40" d="M3019 2497l21 46-16-96-21-46z"/>
<path class="c41" d="M2998 2478l21 19-16-96-22-19zM2976 2490l22-12-17-96-21 12z"/>
<path class="c40" d="M2955 2533l21-43-16-96-21 44z"/>
<path class="c35" d="M2656 2805l22 111-17-96-21-110z"/>
<path class="c39" d="M2635 2694l21 111-16-95-21-111z"/>
<path class="c42" d="M2614 2590l21 104-16-95-22-104z"/>
<path class="c45" d="M2592 2501l22 89-17-95-21-89z"/>
<path class="c47" d="M2571 2434l21 67-16-95-21-68z"/>
<path class="c49" d="M2550 2393l21 41-16-96-22-41zM2528 2382l22 11-17-96-21-10zM2507 2403l21-21-16-95-21 21z"/>
<path class="c48" d="M2486 2456l21-53-16-95-22 52z"/>
<path class="c46" d="M2464 2537l22-81-17-96-21 82z"/>
<path class="c43" d="M2443 2644l21-107-16-95-21 106z"/>
<path class="c39" d="M2422 2770l21-126-16-96-22 127z"/>
<path class="c35" d="M2400 2911l22-141-17-95-21 140z"/>
<path class="c31" d="M2379 3058l21-147-16-96-21 147z"/>
<path class="c27" d="M2358 3205l21-147-16-96-22 147z"/>
<path class="c33" d="M4486 2181l21-147-16-108-22 147z"/>
<path class="c32" d="M4187 2323l21 111-16-109-21-110z"/>
<path class="c36" d="M4166 2223l21 100-16-108-22-101z"/>
<path class="c38" d="M4144 2139l22 84-17-109-21-83z"/>
<path class="c41" d="M4123 2079l21 60-16-108-21-60z"/>
<path class="c42" d="M4102 2048l21 31-16-108-22-31zM4080 2048l22 0-17-108-21 0z"/>
<path class="c41" d="M4059 2080l21-32-16-108-21 32z"/>
<path class="c40" d="M4038 2141l21-61-16-108-22 61z"/>
<path class="c37" d="M4016 2226l22-85-17-108-21 85z"/>
<path class="c29" d="M3121 2856l21 51-16-108-22-51z"/>
<path class="c31" d="M3099 2789l22 67-17-108-21-68z"/>
<path class="c33" d="M3078 2716l21 73-16-109-21-72z"/>
<path class="c36" d="M3057 2651l21 65-16-108-22-65z"/>
<path class="c37" d="M3035 2605l22 46-17-108-21-46z"/>
<path class="c38" d="M3014 2586l21 19-16-108-21-19zM2993 2598l21-12-16-108-22 12z"/>
<path class="c37" d="M2971 2641l22-43-17-108-21 43z"/>
<path class="c36" d="M2651 2802l22 112-17-109-21-111z"/>
<path class="c39" d="M2630 2698l21 104-16-108-21-104z"/>
<path class="c42" d="M2609 2609l21 89-16-108-22-89z"/>
<path class="c44" d="M2587 2542l22 67-17-108-21-67z"/>
<path class="c46" d="M2566 2501l21 41-16-108-21-41z"/>
<path class="c47" d="M2545 2491l21 10-16-108-22-11z"/>
<path class="c46" d="M2523 2512l22-21-17-109-21 21z"/>
<path class="c45" d="M2502 2564l21-52-16-109-21 53z"/>
<path class="c43" d="M2481 2645l21-81-16-108-22 81z"/>
<path class="c40" d="M2459 2752l22-107-17-108-21 107z"/>
<path class="c36" d="M2438 2878l21-126-16-108-21 126z"/>
<path class="c32" d="M2417 3019l21-141-16-108-22 141z"/>
<path class="c28" d="M2395 3166l22-147-17-108-21 147z"/>
<path class="c24" d="M2374 3313l21-147-16-108-21 147z"/>
<path class="c30" d="M4502 2292l21-147-16-111-21 147z"/>
<path class="c33" d="M4182 2333l21 101-16-111-21-100z"/>
<path class="c35" d="M4161 2250l21 83-16-110-22-84z"/>
<path class="c38" d="M4139 2190l22 60-17-111-21-60z"/>
<path class="c39" d="M4118 2159l21 31-16-111-21-31zM4097 2159l21 0-16-111-22 0z"/>
<path class="c38" d="M4075 2191l22-32-17-111-21 32z"/>
<path class="c37" d="M4054 2252l21-61-16-111-21 61z"/>
<path class="c28" d="M3116 2899l21 68-16-111-22-67z"/>
<path class="c30" d="M3094 2827l22 72-17-110-21-73z"/>
<path class="c33" d="M3073 2762l21 65-16-111-21-65z"/>
<path class="c34" d="M3052 2716l21 46-16-111-22-46z"/>
<path class="c35" d="M3030 2697l22 19-17-111-21-19zM3009 2709l21-12-16-111-21 12z"/>
<path class="c34" d="M2988 2752l21-43-16-111-22 43z"/>
<path class="c36" d="M2646 2809l22 104-17-111-21-104z"/>
<path class="c39" d="M2625 2720l21 89-16-111-21-89z"/>
<path class="c41" d="M2604 2653l21 67-16-111-22-67z"/>
<path class="c43" d="M2582 2612l22 41-17-111-21-41zM2561 2602l21 10-16-111-21-10zM2540 2623l21-21-16-111-22 21z"/>
<path class="c42" d="M2518 2675l22-52-17-111-21 52z"/>
<path class="c40" d="M2497 2756l21-81-16-111-21 81z"/>
<path class="c37" d="M2476 2863l21-107-16-111-22 107z"/>
<path class="c33" d="M2454 2989l22-126-17-111-21 126z"/>
<path class="c29" d="M2433 3130l21-141-16-111-21 141z"/>
<path class="c25" d="M2412 3277l21-147-16-111-22 147z"/>
<path class="c21" d="M2390 3424l22-147-17-111-21 147z"/>
<path class="c27" d="M4518 2396l22-147-17-104-21 147z"/>
<path class="c33" d="M4177 2353l21 84-16-104-21-83z"/>
<path class="c35" d="M4156 2294l21 59-16-103-22-60z"/>
<path class="c36" d="M4134 2263l22 31-17-104-21-31zM4113 2263l21 0-16-104-21 0z"/>
<path class="c35" d="M4092 2295l21-32-16-104-22 32z"/>
<path class="c34" d="M4070 2356l22-61-17-104-21 61z"/>
<path class="c28" d="M3111 2930l21 73-16-104-22-72z"/>
<path class="c30" d="M3089 2866l22 64-17-103-21-65z"/>
<path class="c31" d="M3068 2819l21 47-16-104-21-46z"/>
<path class="c32" d="M3047 2800l21 19-16-103-22-19zM3025 2812l22-12-17-103-21 12z"/>
<path class="c31" d="M3004 2856l21-44-16-103-21 43z"/>
<path class="c36" d="M2641 2824l22 89-17-104-21-89z"/>
<path class="c39" d="M2620 2756l21 68-16-104-21-67z"/>
<path class="c40" d="M2599 2716l21 40-16-103-22-41z"/>
<path class="c41" d="M2577 2705l22 11-17-104-21-10z"/>
<path class="c40" d="M2556 2726l21-21-16-103-21 21z"/>
<path class="c39" d="M2535 2778l21-52-16-103-22 52z"/>
<path class="c37" d="M2513 2860l22-82-17-103-21 81z"/>
<path class="c34" d="M2492 2966l21-106-16-104-21 107z"/>
<path class="c30" d="M2471 3093l21-127-16-103-22 126z"/>
<path class="c26" d="M2449 3233l22-140-17-104-21 141z"/>
<path class="c22" d="M2428 3381l21-148-16-103-21 147z"/>
<path class="c18" d="M2407 3527l21-146-16-104-22 147z"/>
<path class="c32" d="M4172 2381l21 60-16-88-21-59z"/>
<path class="c34" d="M4151 2350l21 31-16-87-22-31zM4129 2350l22 0-17-87-21 0z"/>
<path class="c33" d="M4108 2382l21-32-16-87-21 32z"/>
<path class="c29" d="M3084 2907l22 46-17-87-21-47z"/>
<path class="c30" d="M3063 2887l21 20-16-88-21-19zM3042 2899l21-12-16-87-22 12z"/>
<path class="c29" d="M3020 2943l22-44-17-87-21 44z"/>
<path class="c36" d="M2636 2844l22 67-17-87-21-68z"/>
<path class="c38" d="M2615 2803l21 41-16-88-21-40zM2594 2792l21 11-16-87-22-11zM2572 2813l22-21-17-87-21 21z"/>
<path class="c37" d="M2551 2866l21-53-16-87-21 52z"/>
<path class="c34" d="M2530 2947l21-81-16-88-22 82z"/>
<path class="c31" d="M2508 3054l22-107-17-87-21 106z"/>
<path class="c28" d="M2487 3180l21-126-16-88-21 127z"/>
<path class="c24" d="M2466 3320l21-140-16-87-22 140z"/>
<path class="c20" d="M2444 3468l22-148-17-87-21 148z"/>
<path class="c15" d="M2423 3615l21-147-16-87-21 146z"/>
<path class="c32" d="M4167 2413l21 31-16-63-21-31zM4146 2413l21 0-16-63-22 0zM4124 2445l22-32-17-63-21 32z"/>
<path class="c28" d="M3079 2951l22 19-17-63-21-20zM3058 2963l21-12-16-64-21 12z"/>
<path class="c26" d="M2717 3167l21 111-16-63-22-111z"/>
<path class="c29" d="M2695 3063l22 104-17-63-21-104z"/>
<path class="c32" d="M2674 2974l21 89-16-63-21-89z"/>
<path class="c36" d="M2631 2866l22 41-17-63-21-41z"/>
<path class="c37" d="M2610 2856l21 10-16-63-21-11z"/>
<path class="c36" d="M2589 2877l21-21-16-64-22 21z"/>
<path class="c35" d="M2567 2929l22-52-17-64-21 53z"/>
<path class="c33" d="M2546 3010l21-81-16-63-21 81z"/>
<path class="c30" d="M2525 3117l21-107-16-63-22 107z"/>
<path class="c26" d="M2503 3243l22-126-17-63-21 126z"/>
<path class="c22" d="M2482 3384l21-141-16-63-21 140z"/>
<path class="c18" d="M2461 3531l21-147-16-64-22 148z"/>
<path class="c14" d="M2439 3678l22-147-17-63-21 147z"/>
<path class="c23" d="M4567 2580l22-147-17-34-21 147z"/>
<path class="c8" d="M4354 3137l21 67-16-34-21-67z"/>
<path class="c11" d="M4333 3048l21 89-16-34-22-89z"/>
<path class="c15" d="M3906 3095l21 46-16-34-21-46z"/>
<path class="c12" d="M2818 3607l22 60-17-34-21-60z"/>
<path class="c15" d="M2797 3524l21 83-16-34-21-84z"/>
<path class="c32" d="M2690 3009l22 89-17-35-21-89z"/>
<path class="c36" d="M2626 2890l22 10-17-34-21-10zM2605 2911l21-21-16-34-21 21z"/>
<path class="c34" d="M2584 2963l21-52-16-34-22 52z"/>
<path class="c32" d="M2562 3045l22-82-17-34-21 81z"/>
<path class="c29" d="M2541 3151l21-106-16-35-21 107z"/>
<path class="c26" d="M2520 3278l21-127-16-34-22 126z"/>
<path class="c22" d="M2498 3418l22-140-17-35-21 141z"/>
<path class="c17" d="M2477 3565l21-147-16-34-21 147z"/>
<path class="c13" d="M2456 3712l21-147-16-34-22 147z"/>
<path class="c23" d="M4584 2583l21-147-16-3-22 147z"/>
<path class="c5" d="M4413 3248l21 11-16-3-21-11z"/>
<path class="c6" d="M4392 3207l21 41-16-3-22-41z"/>
<path class="c9" d="M4370 3140l22 67-17-3-21-67z"/>
<path class="c12" d="M4349 3051l21 89-16-3-21-89z"/>
<path class="c13" d="M3944 3144l21 19-16-2-22-20z"/>
<path class="c15" d="M3922 3098l22 46-17-3-21-46z"/>
<path class="c17" d="M3901 3033l21 65-16-3-21-65z"/>
<path class="c20" d="M3453 3106l21 22-16-3-21-21z"/>
<path class="c22" d="M3432 3072l21 34-16-2-22-35z"/>
<path class="c23" d="M3410 3050l22 22-17-3-21-22z"/>
<path class="c10" d="M2856 3670l21 31-16-3-21-31z"/>
<path class="c12" d="M2835 3610l21 60-16-3-22-60z"/>
<path class="c15" d="M2813 3527l22 83-17-3-21-83z"/>
<path class="c36" d="M2621 2914l22-21-17-3-21 21z"/>
<path class="c35" d="M2600 2966l21-52-16-3-21 52z"/>
<path class="c32" d="M2579 3047l21-81-16-3-22 82z"/>
<path class="c29" d="M2557 3154l22-107-17-2-21 106z"/>
<path class="c26" d="M2536 3280l21-126-16-3-21 127z"/>
<path class="c22" d="M2515 3421l21-141-16-2-22 140z"/>
<path class="c18" d="M2493 3568l22-147-17-3-21 147z"/>
<path class="c13" d="M2472 3715l21-147-16-3-21 147z"/>
<path class="c24" d="M4600 2554l21-146-16 28-21 147z"/>
<path class="c5" d="M4451 3230l21-21-16 28-22 22z"/>
<path class="c6" d="M4429 3219l22 11-17 29-21-11z"/>
<path class="c8" d="M4408 3179l21 40-16 29-21-41z"/>
<path class="c10" d="M4387 3111l21 68-16 28-22-67z"/>
<path class="c13" d="M4365 3022l22 89-17 29-21-89z"/>
<path class="c16" d="M4344 2918l21 104-16 29-21-104z"/>
<path class="c14" d="M3981 3135l22-12-17 28-21 12z"/>
<path class="c15" d="M3960 3116l21 19-16 28-21-19z"/>
<path class="c16" d="M3939 3069l21 47-16 28-22-46z"/>
<path class="c19" d="M3917 3005l22 64-17 29-21-65z"/>
<path class="c22" d="M3469 3078l22 21-17 29-21-22z"/>
<path class="c23" d="M3448 3043l21 35-16 28-21-34z"/>
<path class="c24" d="M3427 3021l21 22-16 29-22-22z"/>
<path class="c10" d="M2915 3672l21-32-16 29-21 32zM2894 3672l21 0-16 29-22 0z"/>
<path class="c11" d="M2872 3641l22 31-17 29-21-31z"/>
<path class="c14" d="M2851 3582l21 59-16 29-21-60z"/>
<path class="c16" d="M2830 3498l21 84-16 28-22-83z"/>
<path class="c20" d="M2808 3397l22 101-17 29-21-101z"/>
<path class="c36" d="M2616 2937l22-52-17 29-21 52z"/>
<path class="c34" d="M2595 3019l21-82-16 29-21 81z"/>
<path class="c31" d="M2574 3125l21-106-16 28-22 107z"/>
<path class="c27" d="M2552 3252l22-127-17 29-21 126z"/>
<path class="c23" d="M2531 3392l21-140-16 28-21 141z"/>
<path class="c19" d="M2510 3539l21-147-16 29-22 147z"/>
<path class="c15" d="M2488 3686l22-147-17 29-21 147z"/>
<path class="c26" d="M4616 2497l22-147-17 58-21 146z"/>
<path class="c8" d="M4488 3152l22-53-17 58-21 52zM4467 3173l21-21-16 57-21 21zM4446 3162l21 11-16 57-22-11z"/>
<path class="c10" d="M4424 3121l22 41-17 57-21-40z"/>
<path class="c12" d="M4403 3054l21 67-16 58-21-68z"/>
<path class="c15" d="M4382 2965l21 89-16 57-22-89z"/>
<path class="c18" d="M4360 2861l22 104-17 57-21-104z"/>
<path class="c13" d="M2952 3583l22-61-16 57-22 61z"/>
<path class="c12" d="M2931 3615l21-32-16 57-21 32zM2910 3615l21 0-16 57-21 0z"/>
<path class="c14" d="M2888 3584l22 31-16 57-22-31z"/>
<path class="c16" d="M2867 3524l21 60-16 57-21-59z"/>
<path class="c18" d="M2846 3441l21 83-16 58-21-84z"/>
<path class="c22" d="M2825 3340l21 101-16 57-22-101z"/>
<path class="c36" d="M2611 2961l22-81-17 57-21 82z"/>
<path class="c33" d="M2590 3068l21-107-16 58-21 106z"/>
<path class="c29" d="M2569 3195l21-127-16 57-22 127z"/>
<path class="c25" d="M2547 3335l22-140-17 57-21 140z"/>
<path class="c21" d="M2526 3482l21-147-16 57-21 147z"/>
<path class="c17" d="M2505 3629l21-147-16 57-22 147z"/>
<path class="c29" d="M4633 2416l21-147-16 81-22 147z"/>
<path class="c25" d="M4611 2563l22-147-17 81-21 147z"/>
<path class="c12" d="M4526 3018l21-81-16 81-21 81z"/>
<path class="c11" d="M4505 3070l21-52-16 81-22 53z"/>
<path class="c10" d="M4483 3091l22-21-17 82-21 21z"/>
<path class="c11" d="M4462 3081l21 10-16 82-21-11z"/>
<path class="c12" d="M4441 3040l21 41-16 81-22-41z"/>
<path class="c15" d="M4419 2973l22 67-17 81-21-67z"/>
<path class="c18" d="M4398 2884l21 89-16 81-21-89z"/>
<path class="c21" d="M4377 2780l21 104-16 81-22-104z"/>
<path class="c19" d="M3011 3356l22-101-17 81-21 101z"/>
<path class="c17" d="M2990 3441l21-85-16 81-21 85z"/>
<path class="c16" d="M2969 3502l21-61-16 81-22 61z"/>
<path class="c15" d="M2947 3534l22-32-17 81-21 32zM2926 3534l21 0-16 81-21 0z"/>
<path class="c16" d="M2905 3503l21 31-16 81-22-31z"/>
<path class="c18" d="M2883 3443l22 60-17 81-21-60z"/>
<path class="c21" d="M2862 3360l21 83-16 81-21-83z"/>
<path class="c24" d="M2841 3259l21 101-16 81-21-101z"/>
<path class="c35" d="M2606 2987l22-107-17 81-21 107z"/>
<path class="c32" d="M2585 3113l21-126-16 81-21 127z"/>
<path class="c28" d="M2564 3254l21-141-16 82-22 140z"/>
<path class="c24" d="M2542 3401l22-147-17 81-21 147z"/>
<path class="c19" d="M2521 3548l21-147-16 81-21 147z"/>
<path class="c32" d="M4649 2318l21-147-16 98-21 147z"/>
<path class="c28" d="M4628 2465l21-147-16 98-22 147z"/>
<path class="c21" d="M4585 2732l21-127-16 99-21 126z"/>
<path class="c18" d="M4564 2838l21-106-16 98-22 107z"/>
<path class="c15" d="M4542 2920l22-82-17 99-21 81z"/>
<path class="c14" d="M4521 2972l21-52-16 98-21 52zM4500 2993l21-21-16 98-22 21zM4478 2983l22 10-17 98-21-10z"/>
<path class="c16" d="M4457 2942l21 41-16 98-21-41z"/>
<path class="c18" d="M4436 2874l21 68-16 98-22-67z"/>
<path class="c21" d="M4414 2785l22 89-17 99-21-89z"/>
<path class="c24" d="M4393 2681l21 104-16 99-21-104z"/>
<path class="c26" d="M3049 3157l21-108-16 98-21 108z"/>
<path class="c23" d="M3028 3258l21-101-16 98-22 101z"/>
<path class="c20" d="M3006 3343l22-85-17 98-21 85z"/>
<path class="c19" d="M2985 3404l21-61-16 98-21 61z"/>
<path class="c18" d="M2964 3435l21-31-16 98-22 32zM2942 3436l22-1-17 99-21 0z"/>
<path class="c20" d="M2921 3405l21 31-16 98-21-31z"/>
<path class="c22" d="M2900 3345l21 60-16 98-22-60z"/>
<path class="c24" d="M2878 3261l22 84-17 98-21-83z"/>
<path class="c28" d="M2857 3160l21 101-16 99-21-101z"/>
<path class="c31" d="M2580 3155l21-140-16 98-21 141z"/>
<path class="c27" d="M2559 3303l21-148-16 99-22 147z"/>
<path class="c23" d="M2537 3450l22-147-17 98-21 147z"/>
<path class="c36" d="M4665 2210l22-147-17 108-21 147z"/>
<path class="c32" d="M4644 2357l21-147-16 108-21 147z"/>
<path class="c21" d="M4580 2731l21-107-16 108-21 106z"/>
<path class="c19" d="M4559 2812l21-81-16 107-22 82z"/>
<path class="c18" d="M4537 2864l22-52-17 108-21 52z"/>
<path class="c17" d="M4516 2885l21-21-16 108-21 21z"/>
<path class="c18" d="M4495 2875l21 10-16 108-22-10z"/>
<path class="c19" d="M4473 2834l22 41-17 108-21-41z"/>
<path class="c22" d="M4452 2767l21 67-16 108-21-68z"/>
<path class="c24" d="M4431 2678l21 89-16 107-22-89z"/>
<path class="c28" d="M4409 2574l22 104-17 107-21-104z"/>
<path class="c26" d="M3044 3150l21-101-16 108-21 101z"/>
<path class="c24" d="M3023 3235l21-85-16 108-22 85z"/>
<path class="c22" d="M3001 3296l22-61-17 108-21 61zM2980 3328l21-32-16 108-21 31zM2959 3328l21 0-16 107-22 1z"/>
<path class="c23" d="M2937 3297l22 31-17 108-21-31z"/>
<path class="c25" d="M2916 3237l21 60-16 108-21-60z"/>
<path class="c28" d="M2895 3153l21 84-16 108-22-84z"/>
<path class="c31" d="M2873 3053l22 100-17 108-21-101zM2575 3195l21-147-16 107-21 148z"/>
<path class="c26" d="M2554 3342l21-147-16 108-22 147z"/>
<path class="c40" d="M4682 2101l21-147-16 109-22 147z"/>
<path class="c35" d="M4660 2248l22-147-17 109-21 147z"/>
<path class="c25" d="M4596 2622l22-107-17 109-21 107z"/>
<path class="c23" d="M4575 2703l21-81-16 109-21 81z"/>
<path class="c21" d="M4554 2756l21-53-16 109-22 52zM4532 2777l22-21-17 108-21 21zM4511 2766l21 11-16 108-21-10z"/>
<path class="c23" d="M4490 2725l21 41-16 109-22-41z"/>
<path class="c25" d="M4468 2658l22 67-17 109-21-67z"/>
<path class="c28" d="M4447 2569l21 89-16 109-21-89z"/>
<path class="c32" d="M4426 2465l21 104-16 109-22-104z"/>
<path class="c28" d="M3039 3126l21-84-16 108-21 85z"/>
<path class="c26" d="M3018 3187l21-61-16 109-22 61z"/>
<path class="c25" d="M2996 3219l22-32-17 109-21 32z"/>
<path class="c26" d="M2975 3219l21 0-16 109-21 0z"/>
<path class="c27" d="M2954 3188l21 31-16 109-22-31z"/>
<path class="c29" d="M2932 3128l22 60-17 109-21-60z"/>
<path class="c32" d="M2911 3045l21 83-16 109-21-84z"/>
<path class="c35" d="M2890 2944l21 101-16 108-22-100z"/>
<path class="c34" d="M2591 3086l21-147-16 109-21 147z"/>
<path class="c30" d="M2570 3233l21-147-16 109-21 147z"/>
<path class="c43" d="M4698 2000l21-147-16 101-21 147z"/>
<path class="c39" d="M4676 2147l22-147-16 101-22 147z"/>
<path class="c35" d="M4655 2287l21-140-16 101-21 141z"/>
<path class="c26" d="M4591 2602l22-82-17 102-21 81z"/>
<path class="c25" d="M4570 2654l21-52-16 101-21 53z"/>
<path class="c24" d="M4549 2675l21-21-16 102-22 21z"/>
<path class="c25" d="M4527 2665l22 10-17 102-21-11z"/>
<path class="c26" d="M4506 2624l21 41-16 101-21-41z"/>
<path class="c29" d="M4485 2556l21 68-16 101-22-67z"/>
<path class="c32" d="M4463 2467l22 89-17 102-21-89z"/>
<path class="c29" d="M3034 3085l21-60-16 101-21 61zM3013 3117l21-32-16 102-22 32zM2991 3118l22-1-17 102-21 0z"/>
<path class="c30" d="M2970 3087l21 31-16 101-21-31z"/>
<path class="c32" d="M2949 3027l21 60-16 101-22-60z"/>
<path class="c35" d="M2927 2943l22 84-17 101-21-83z"/>
<path class="c38" d="M2906 2842l21 101-16 102-21-101z"/>
<path class="c42" d="M2629 2837l21-140-16 102-22 140z"/>
<path class="c38" d="M2607 2985l22-148-17 102-21 147z"/>
<path class="c33" d="M2586 3132l21-147-16 101-21 147z"/>
<path class="c46" d="M4714 1913l21-147-16 87-21 147z"/>
<path class="c42" d="M4693 2060l21-147-16 87-22 147z"/>
<path class="c38" d="M4671 2201l22-141-17 87-21 140z"/>
<path class="c34" d="M4650 2327l21-126-16 86-21 127z"/>
<path class="c27" d="M4565 2589l21-22-16 87-21 21z"/>
<path class="c28" d="M4544 2578l21 11-16 86-22-10z"/>
<path class="c29" d="M4522 2537l22 41-17 87-21-41z"/>
<path class="c32" d="M4501 2470l21 67-16 87-21-68z"/>
<path class="c34" d="M4480 2381l21 89-16 86-22-89z"/>
<path class="c32" d="M3029 3031l21-32-16 86-21 32zM3008 3031l21 0-16 86-22 1z"/>
<path class="c33" d="M2986 3000l22 31-17 87-21-31z"/>
<path class="c35" d="M2965 2940l21 60-16 87-21-60z"/>
<path class="c38" d="M2944 2857l21 83-16 87-22-84z"/>
<path class="c49" d="M2666 2611l22-127-17 87-21 126z"/>
<path class="c45" d="M2645 2751l21-140-16 86-21 140z"/>
<path class="c40" d="M2624 2898l21-147-16 86-22 148z"/>
<path class="c36" d="M2602 3045l22-147-17 87-21 147z"/>
<path class="c48" d="M4730 1848l22-147-17 65-21 147z"/>
<path class="c44" d="M4709 1995l21-147-16 65-21 147z"/>
<path class="c40" d="M4688 2136l21-141-16 65-22 141z"/>
<path class="c36" d="M4666 2262l22-126-17 65-21 126z"/>
<path class="c33" d="M4645 2369l21-107-16 65-21 107z"/>
<path class="c32" d="M4538 2472l22 41-16 65-22-41z"/>
<path class="c34" d="M4517 2405l21 67-16 65-21-67z"/>
<path class="c52" d="M4261 1893l22-85-17 65-21 85z"/>
<path class="c49" d="M4240 1994l21-101-16 65-21 101z"/>
<path class="c46" d="M4219 2102l21-108-16 65-22 108z"/>
<path class="c43" d="M4197 2208l22-106-17 65-21 106z"/>
<path class="c41" d="M4176 2301l21-93-16 65-21 93z"/>
<path class="c47" d="M3173 2473l22-93-17 65-21 93z"/>
<path class="c44" d="M3152 2579l21-106-16 65-21 106z"/>
<path class="c41" d="M3131 2687l21-108-16 65-22 108z"/>
<path class="c39" d="M3109 2788l22-101-17 65-21 101z"/>
<path class="c35" d="M3003 2935l21 31-16 65-22-31z"/>
<path class="c37" d="M2981 2875l22 60-17 65-21-60z"/>
<path class="c55" d="M2704 2419l21-107-16 65-21 107z"/>
<path class="c51" d="M2683 2546l21-127-16 65-22 127z"/>
<path class="c47" d="M2661 2686l22-140-17 65-21 140z"/>
<path class="c43" d="M2640 2833l21-147-16 65-21 147z"/>
<path class="c39" d="M2619 2980l21-147-16 65-22 147z"/>
<path class="c50" d="M4747 1810l21-147-16 38-22 147z"/>
<path class="c45" d="M4725 1957l22-147-17 38-21 147z"/>
<path class="c41" d="M4704 2097l21-140-16 38-21 141z"/>
<path class="c38" d="M4683 2224l21-127-16 39-22 126z"/>
<path class="c35" d="M4661 2331l22-107-17 38-21 107z"/>
<path class="c33" d="M4640 2412l21-81-16 38-21 81z"/>
<path class="c31" d="M4619 2464l21-52-16 38-22 53z"/>
<path class="c56" d="M4299 1770l21-61-16 38-21 61z"/>
<path class="c54" d="M4278 1855l21-85-16 38-22 85z"/>
<path class="c51" d="M4256 1956l22-101-17 38-21 101z"/>
<path class="c48" d="M4235 2064l21-108-16 38-21 108z"/>
<path class="c45" d="M4214 2170l21-106-16 38-22 106z"/>
<path class="c42" d="M4192 2263l22-93-17 38-21 93z"/>
<path class="c40" d="M4171 2335l21-72-16 38-21 72z"/>
<path class="c49" d="M3915 2151l21-60-16 38-21 61z"/>
<path class="c47" d="M3894 2221l21-70-16 39-22 70z"/>
<path class="c46" d="M3872 2283l22-62-17 39-21 61z"/>
<path class="c47" d="M3510 2384l21-62-16 38-22 62z"/>
<path class="c45" d="M3488 2453l22-69-17 38-21 70z"/>
<path class="c43" d="M3467 2514l21-61-16 39-21 60z"/>
<path class="c51" d="M3211 2342l21-72-16 39-21 71z"/>
<path class="c49" d="M3190 2435l21-93-16 38-22 93z"/>
<path class="c46" d="M3168 2541l22-106-17 38-21 106z"/>
<path class="c43" d="M3147 2649l21-108-16 38-21 108z"/>
<path class="c40" d="M3126 2750l21-101-16 38-22 101z"/>
<path class="c38" d="M3104 2835l22-85-17 38-21 85z"/>
<path class="c36" d="M3083 2896l21-61-16 38-21 61z"/>
<path class="c61" d="M2763 2193l21-52-16 38-21 52z"/>
<path class="c59" d="M2742 2274l21-81-16 38-22 81z"/>
<path class="c56" d="M2720 2381l22-107-17 38-21 107z"/>
<path class="c52" d="M2699 2507l21-126-16 38-21 127z"/>
<path class="c48" d="M2678 2648l21-141-16 39-22 140z"/>
<path class="c44" d="M2656 2795l22-147-17 38-21 147z"/>
<path class="c40" d="M2635 2942l21-147-16 38-21 147z"/>
<path class="c50" d="M4763 1802l21-147-16 8-21 147z"/>
<path class="c46" d="M4742 1949l21-147-16 8-22 147z"/>
<path class="c42" d="M4720 2089l22-140-17 8-21 140z"/>
<path class="c38" d="M4699 2216l21-127-16 8-21 127z"/>
<path class="c35" d="M4678 2323l21-107-16 8-22 107z"/>
<path class="c33" d="M4656 2404l22-81-17 8-21 81z"/>
<path class="c32" d="M4635 2456l21-52-16 8-21 52zM4614 2477l21-21-16 8-22 21z"/>
<path class="c58" d="M4337 1701l21-32-16 8-22 32z"/>
<path class="c57" d="M4315 1762l22-61-17 8-21 61z"/>
<path class="c54" d="M4294 1846l21-84-16 8-21 85z"/>
<path class="c52" d="M4273 1948l21-102-16 9-22 101z"/>
<path class="c48" d="M4251 2056l22-108-17 8-21 108z"/>
<path class="c46" d="M4230 2162l21-106-16 8-21 106z"/>
<path class="c43" d="M4209 2255l21-93-16 8-22 93z"/>
<path class="c41" d="M4187 2326l22-71-17 8-21 72z"/>
<path class="c40" d="M4166 2370l21-44-16 9-21 43zM4145 2382l21-12-16 8-22 12z"/>
<path class="c52" d="M3974 2044l21-7-16 8-21 7z"/>
<path class="c51" d="M3953 2082l21-38-16 8-22 39z"/>
<path class="c50" d="M3931 2143l22-61-17 9-21 60z"/>
<path class="c48" d="M3910 2213l21-70-16 8-21 70z"/>
<path class="c46" d="M3889 2275l21-62-16 8-22 62z"/>
<path class="c45" d="M3867 2314l22-39-17 8-21 39zM3846 2320l21-6-16 8-21 6z"/>
<path class="c48" d="M3761 2253l21-11-16 8-22 11zM3739 2286l22-33-17 8-21 33zM3718 2294l21-8-16 8-21 8z"/>
<path class="c47" d="M3697 2303l21-9-16 8-22 9zM3675 2335l22-32-17 8-21 32zM3654 2346l21-11-16 8-21 11z"/>
<path class="c50" d="M3569 2275l21-7-16 9-22 6z"/>
<path class="c49" d="M3547 2313l22-38-17 8-21 39z"/>
<path class="c47" d="M3526 2375l21-62-16 9-21 62z"/>
<path class="c45" d="M3505 2445l21-70-16 9-22 69z"/>
<path class="c44" d="M3483 2506l22-61-17 8-21 61z"/>
<path class="c43" d="M3462 2544l21-38-16 8-21 38zM3441 2552l21-8-16 8-22 8z"/>
<path class="c55" d="M3270 2219l21-13-16 9-21 12z"/>
<path class="c54" d="M3249 2262l21-43-16 8-22 43z"/>
<path class="c52" d="M3227 2334l22-72-17 8-21 72z"/>
<path class="c49" d="M3206 2427l21-93-16 8-21 93z"/>
<path class="c47" d="M3185 2533l21-106-16 8-22 106z"/>
<path class="c43" d="M3163 2641l22-108-17 8-21 108z"/>
<path class="c41" d="M3142 2742l21-101-16 8-21 101z"/>
<path class="c38" d="M3121 2827l21-85-16 8-22 85z"/>
<path class="c37" d="M3099 2888l22-61-17 8-21 61z"/>
<path class="c36" d="M3078 2919l21-31-16 8-21 32z"/>
<path class="c63" d="M2801 2132l21-21-16 8-22 22z"/>
<path class="c62" d="M2779 2185l22-53-17 9-21 52z"/>
<path class="c60" d="M2758 2266l21-81-16 8-21 81z"/>
<path class="c57" d="M2737 2373l21-107-16 8-22 107z"/>
<path class="c53" d="M2715 2499l22-126-17 8-21 126z"/>
<path class="c49" d="M2694 2640l21-141-16 8-21 141z"/>
<path class="c45" d="M2673 2787l21-147-16 8-22 147z"/>
<path class="c41" d="M2651 2934l22-147-17 8-21 147z"/>
<path class="c50" d="M4779 1825l22-147-17-23-21 147z"/>
<path class="c46" d="M4758 1973l21-148-16-23-21 147z"/>
<path class="c42" d="M4737 2113l21-140-16-24-22 140z"/>
<path class="c38" d="M4715 2239l22-126-17-24-21 127z"/>
<path class="c35" d="M4694 2346l21-107-16-23-21 107z"/>
<path class="c33" d="M4673 2427l21-81-16-23-22 81z"/>
<path class="c32" d="M4651 2480l22-53-17-23-21 52z"/>
<path class="c31" d="M4630 2501l21-21-16-24-21 21z"/>
<path class="c32" d="M4609 2490l21 11-16-24-22-10z"/>
<path class="c58" d="M4395 1692l22 31-17-23-21-31z"/>
<path class="c59" d="M4374 1693l21-1-16-23-21 0z"/>
<path class="c58" d="M4353 1724l21-31-16-24-21 32z"/>
<path class="c56" d="M4332 1785l21-61-16-23-22 61z"/>
<path class="c54" d="M4310 1870l22-85-17-23-21 84z"/>
<path class="c51" d="M4289 1971l21-101-16-24-21 102z"/>
<path class="c48" d="M4268 2080l21-109-16-23-22 108z"/>
<path class="c45" d="M4246 2185l22-105-17-24-21 106z"/>
<path class="c43" d="M4225 2278l21-93-16-23-21 93z"/>
<path class="c41" d="M4204 2350l21-72-16-23-22 71z"/>
<path class="c40" d="M4182 2394l22-44-17-24-21 44z"/>
<path class="c39" d="M4161 2406l21-12-16-24-21 12z"/>
<path class="c40" d="M4140 2386l21 20-16-24-22-19z"/>
<path class="c52" d="M4012 2060l21 24-16-23-22-24zM3990 2068l22-8-17-23-21 7z"/>
<path class="c51" d="M3969 2106l21-38-16-24-21 38z"/>
<path class="c49" d="M3948 2167l21-61-16-24-22 61z"/>
<path class="c47" d="M3926 2237l22-70-17-24-21 70z"/>
<path class="c46" d="M3905 2299l21-62-16-24-21 62z"/>
<path class="c45" d="M3884 2337l21-38-16-24-22 39zM3862 2344l22-7-17-23-21 6z"/>
<path class="c46" d="M3841 2321l21 23-16-24-21-22z"/>
<path class="c48" d="M3798 2266l22 21-17-24-21-21zM3777 2277l21-11-16-24-21 11z"/>
<path class="c47" d="M3756 2309l21-32-16-24-22 33zM3734 2318l22-9-17-23-21 8zM3713 2326l21-8-16-24-21 9z"/>
<path class="c46" d="M3692 2359l21-33-16-23-22 32zM3670 2370l22-11-17-24-21 11z"/>
<path class="c47" d="M3649 2349l21 21-16-24-21-21z"/>
<path class="c49" d="M3606 2292l22 22-17-23-21-23zM3585 2298l21-6-16-24-21 7zM3564 2337l21-39-16-23-22 38z"/>
<path class="c47" d="M3542 2399l22-62-17-24-21 62z"/>
<path class="c45" d="M3521 2469l21-70-16-24-21 70z"/>
<path class="c43" d="M3500 2530l21-61-16-24-22 61zM3478 2568l22-38-17-24-21 38zM3457 2576l21-8-16-24-21 8z"/>
<path class="c44" d="M3436 2551l21 25-16-24-22-24z"/>
<path class="c55" d="M3308 2230l21 19-16-23-22-20zM3286 2242l22-12-17-24-21 13z"/>
<path class="c54" d="M3265 2286l21-44-16-23-21 43z"/>
<path class="c52" d="M3244 2357l21-71-16-24-22 72z"/>
<path class="c49" d="M3222 2450l22-93-17-23-21 93z"/>
<path class="c46" d="M3201 2556l21-106-16-23-21 106z"/>
<path class="c43" d="M3180 2665l21-109-16-23-22 108z"/>
<path class="c40" d="M3158 2766l22-101-17-24-21 101z"/>
<path class="c38" d="M3137 2850l21-84-16-24-21 85z"/>
<path class="c36" d="M3116 2911l21-61-16-23-22 61zM3094 2943l22-32-17-23-21 31zM3073 2943l21 0-16-24-21 1z"/>
<path class="c37" d="M3052 2912l21 31-16-23-22-31z"/>
<path class="c63" d="M2838 2135l22 10-17-23-21-11zM2817 2156l21-21-16-24-21 21z"/>
<path class="c61" d="M2796 2208l21-52-16-24-22 53z"/>
<path class="c59" d="M2774 2290l22-82-17-23-21 81z"/>
<path class="c56" d="M2753 2396l21-106-16-24-21 107z"/>
<path class="c53" d="M2732 2523l21-127-16-23-22 126z"/>
<path class="c49" d="M2710 2663l22-140-17-24-21 141z"/>
<path class="c44" d="M2689 2810l21-147-16-23-21 147z"/>
<path class="c40" d="M2668 2957l21-147-16-23-22 147z"/>
<path class="c48" d="M4796 1880l21-147-16-55-22 147z"/>
<path class="c44" d="M4774 2027l22-147-17-55-21 148z"/>
<path class="c40" d="M4753 2168l21-141-16-54-21 140z"/>
<path class="c37" d="M4732 2294l21-126-16-55-22 126z"/>
<path class="c34" d="M4710 2401l22-107-17-55-21 107z"/>
<path class="c32" d="M4689 2482l21-81-16-55-21 81z"/>
<path class="c30" d="M4668 2534l21-52-16-55-22 53zM4646 2556l22-22-17-54-21 21zM4625 2545l21 11-16-55-21-11z"/>
<path class="c32" d="M4604 2504l21 41-16-55-22-41z"/>
<path class="c34" d="M4582 2437l22 67-17-55-21-67z"/>
<path class="c56" d="M4433 1778l21 60-16-55-21-60z"/>
<path class="c57" d="M4412 1747l21 31-16-55-22-31zM4390 1747l22 0-17-55-21 1zM4369 1779l21-32-16-54-21 31z"/>
<path class="c55" d="M4348 1840l21-61-16-55-21 61z"/>
<path class="c53" d="M4326 1925l22-85-16-55-22 85z"/>
<path class="c50" d="M4305 2026l21-101-16-55-21 101z"/>
<path class="c47" d="M4284 2134l21-108-16-55-21 109z"/>
<path class="c44" d="M4263 2240l21-106-16-54-22 105z"/>
<path class="c41" d="M4241 2333l22-93-17-55-21 93z"/>
<path class="c39" d="M4220 2405l21-72-16-55-21 72z"/>
<path class="c38" d="M4199 2448l21-43-16-55-22 44zM4177 2460l22-12-17-54-21 12z"/>
<path class="c39" d="M4156 2441l21 19-16-54-21-20z"/>
<path class="c41" d="M4135 2395l21 46-16-55-22-46z"/>
<path class="c43" d="M4113 2330l22 65-17-55-21-65z"/>
<path class="c48" d="M4071 2190l21 68-16-55-22-68z"/>
<path class="c49" d="M4049 2139l22 51-17-55-21-51z"/>
<path class="c50" d="M4028 2115l21 24-16-55-21-24zM4007 2123l21-8-16-55-22 8z"/>
<path class="c49" d="M3985 2161l22-38-17-55-21 38z"/>
<path class="c48" d="M3964 2222l21-61-16-55-21 61z"/>
<path class="c46" d="M3943 2291l21-69-16-55-22 70z"/>
<path class="c44" d="M3921 2353l22-62-17-54-21 62z"/>
<path class="c43" d="M3900 2392l21-39-16-54-21 38zM3879 2399l21-7-16-55-22 7z"/>
<path class="c44" d="M3857 2376l22 23-17-55-21-23z"/>
<path class="c46" d="M3836 2342l21 34-16-55-21-34z"/>
<path class="c47" d="M3815 2321l21 21-16-55-22-21zM3793 2332l22-11-17-55-21 11z"/>
<path class="c46" d="M3772 2364l21-32-16-55-21 32zM3751 2373l21-9-16-55-22 9zM3729 2381l22-8-17-55-21 8z"/>
<path class="c45" d="M3708 2414l21-33-16-55-21 33zM3687 2425l21-11-16-55-22 11z"/>
<path class="c46" d="M3665 2403l22 22-17-55-21-21z"/>
<path class="c47" d="M3644 2369l21 34-16-54-21-35z"/>
<path class="c48" d="M3623 2347l21 22-16-55-22-22zM3601 2353l22-6-17-55-21 6z"/>
<path class="c47" d="M3580 2392l21-39-16-55-21 39z"/>
<path class="c46" d="M3559 2454l21-62-16-55-22 62z"/>
<path class="c44" d="M3537 2524l22-70-17-55-21 70z"/>
<path class="c42" d="M3516 2584l21-60-16-55-21 61z"/>
<path class="c41" d="M3495 2623l21-39-16-54-22 38zM3473 2630l22-7-17-55-21 8z"/>
<path class="c42" d="M3452 2606l21 24-16-54-21-25z"/>
<path class="c44" d="M3431 2555l21 51-16-55-22-50z"/>
<path class="c46" d="M3409 2488l22 67-17-54-21-68z"/>
<path class="c51" d="M3367 2350l21 65-16-55-22-65z"/>
<path class="c53" d="M3345 2304l22 46-17-55-21-46zM3324 2285l21 19-16-55-21-19zM3303 2297l21-12-16-55-22 12z"/>
<path class="c52" d="M3281 2340l22-43-17-55-21 44z"/>
<path class="c50" d="M3260 2412l21-72-16-54-21 71z"/>
<path class="c48" d="M3239 2505l21-93-16-55-22 93z"/>
<path class="c45" d="M3217 2611l22-106-17-55-21 106z"/>
<path class="c42" d="M3196 2719l21-108-16-55-21 109z"/>
<path class="c39" d="M3175 2820l21-101-16-54-22 101z"/>
<path class="c37" d="M3153 2905l22-85-17-54-21 84z"/>
<path class="c35" d="M3132 2966l21-61-16-55-21 61z"/>
<path class="c34" d="M3111 2998l21-32-16-55-22 32z"/>
<path class="c35" d="M3089 2998l22 0-17-55-21 0z"/>
<path class="c36" d="M3068 2967l21 31-16-55-21-31z"/>
<path class="c38" d="M3047 2907l21 60-16-55-22-60z"/>
<path class="c60" d="M2897 2241l22 67-17-54-21-68z"/>
<path class="c61" d="M2876 2200l21 41-16-55-21-41z"/>
<path class="c62" d="M2855 2190l21 10-16-55-22-10z"/>
<path class="c61" d="M2833 2211l22-21-17-55-21 21z"/>
<path class="c60" d="M2812 2263l21-52-16-55-21 52z"/>
<path class="c58" d="M2791 2344l21-81-16-55-22 82z"/>
<path class="c55" d="M2769 2451l22-107-17-54-21 106z"/>
<path class="c51" d="M2748 2578l21-127-16-55-21 127z"/>
<path class="c47" d="M2727 2718l21-140-16-55-22 140z"/>
<path class="c43" d="M2705 2865l22-147-17-55-21 147z"/>
<path class="c39" d="M2684 3012l21-147-16-55-21 147z"/>
<path class="c46" d="M4812 1964l21-147-16-84-21 147z"/>
<path class="c42" d="M4791 2111l21-147-16-84-22 147z"/>
<path class="c38" d="M4769 2252l22-141-17-84-21 141z"/>
<path class="c34" d="M4748 2378l21-126-16-84-21 126z"/>
<path class="c32" d="M4727 2485l21-107-16-84-22 107z"/>
<path class="c29" d="M4705 2566l22-81-17-84-21 81z"/>
<path class="c28" d="M4684 2618l21-52-16-84-21 52zM4663 2639l21-21-16-84-22 22zM4641 2629l22 10-17-83-21-11z"/>
<path class="c30" d="M4620 2588l21 41-16-84-21-41z"/>
<path class="c32" d="M4599 2521l21 67-16-84-22-67z"/>
<path class="c35" d="M4577 2432l22 89-17-84-21-89z"/>
<path class="c38" d="M4556 2328l21 104-16-84-21-104z"/>
<path class="c45" d="M4513 2106l22 110-17-83-21-111z"/>
<path class="c49" d="M4492 2005l21 101-16-84-21-100z"/>
<path class="c52" d="M4471 1922l21 83-16-83-22-84z"/>
<path class="c54" d="M4449 1862l22 60-17-84-21-60z"/>
<path class="c55" d="M4428 1831l21 31-16-84-21-31zM4407 1831l21 0-16-84-22 0z"/>
<path class="c54" d="M4385 1863l22-32-17-84-21 32z"/>
<path class="c53" d="M4364 1924l21-61-16-84-21 61z"/>
<path class="c50" d="M4343 2009l21-85-16-84-22 85z"/>
<path class="c48" d="M4321 2110l22-101-17-84-21 101z"/>
<path class="c45" d="M4300 2218l21-108-16-84-21 108z"/>
<path class="c42" d="M4279 2324l21-106-16-84-21 106z"/>
<path class="c39" d="M4257 2417l22-93-16-84-22 93z"/>
<path class="c37" d="M4236 2489l21-72-16-84-21 72z"/>
<path class="c36" d="M4215 2532l21-43-16-84-21 43zM4194 2544l21-12-16-84-22 12z"/>
<path class="c37" d="M4172 2525l22 19-17-84-21-19z"/>
<path class="c38" d="M4151 2479l21 46-16-84-21-46z"/>
<path class="c41" d="M4130 2414l21 65-16-84-22-65z"/>
<path class="c43" d="M4108 2341l22 73-17-84-21-72z"/>
<path class="c45" d="M4087 2274l21 67-16-83-21-68z"/>
<path class="c47" d="M4066 2223l21 51-16-84-22-51z"/>
<path class="c48" d="M4044 2199l22 24-17-84-21-24zM4023 2206l21-7-16-84-21 8z"/>
<path class="c47" d="M4002 2245l21-39-16-83-22 38z"/>
<path class="c46" d="M3980 2305l22-60-17-84-21 61z"/>
<path class="c44" d="M3959 2375l21-70-16-83-21 69z"/>
<path class="c42" d="M3938 2437l21-62-16-84-22 62z"/>
<path class="c41" d="M3916 2476l22-39-17-84-21 39zM3895 2482l21-6-16-84-21 7z"/>
<path class="c42" d="M3874 2460l21 22-16-83-22-23z"/>
<path class="c44" d="M3852 2426l22 34-17-84-21-34zM3831 2404l21 22-16-84-21-21zM3810 2415l21-11-16-83-22 11zM3788 2448l22-33-17-83-21 32zM3767 2456l21-8-16-84-21 9zM3746 2465l21-9-16-83-22 8z"/>
<path class="c43" d="M3724 2497l22-32-17-84-21 33zM3703 2508l21-11-16-83-21 11z"/>
<path class="c44" d="M3682 2487l21 21-16-83-22-22z"/>
<path class="c45" d="M3660 2453l22 34-17-84-21-34z"/>
<path class="c46" d="M3639 2431l21 22-16-84-21-22zM3618 2437l21-6-16-84-22 6z"/>
<path class="c45" d="M3596 2476l22-39-17-84-21 39z"/>
<path class="c43" d="M3575 2538l21-62-16-84-21 62z"/>
<path class="c41" d="M3554 2607l21-69-16-84-22 70z"/>
<path class="c40" d="M3532 2668l22-61-17-83-21 60z"/>
<path class="c39" d="M3511 2707l21-39-16-84-21 39zM3490 2714l21-7-16-84-22 7z"/>
<path class="c40" d="M3468 2690l22 24-17-84-21-24z"/>
<path class="c42" d="M3447 2639l21 51-16-84-21-51z"/>
<path class="c44" d="M3426 2571l21 68-16-84-22-67z"/>
<path class="c47" d="M3404 2499l22 72-17-83-21-73z"/>
<path class="c49" d="M3383 2434l21 65-16-84-21-65z"/>
<path class="c50" d="M3362 2388l21 46-16-84-22-46z"/>
<path class="c51" d="M3340 2369l22 19-17-84-21-19zM3319 2381l21-12-16-84-21 12z"/>
<path class="c50" d="M3298 2424l21-43-16-84-22 43z"/>
<path class="c48" d="M3276 2496l22-72-17-84-21 72z"/>
<path class="c46" d="M3255 2589l21-93-16-84-21 93z"/>
<path class="c43" d="M3234 2695l21-106-16-84-22 106z"/>
<path class="c40" d="M3212 2803l22-108-17-84-21 108z"/>
<path class="c37" d="M3191 2904l21-101-16-84-21 101z"/>
<path class="c34" d="M3170 2989l21-85-16-84-22 85z"/>
<path class="c33" d="M3148 3050l22-61-17-84-21 61z"/>
<path class="c32" d="M3127 3082l21-32-16-84-21 32zM3106 3082l21 0-16-84-22 0z"/>
<path class="c34" d="M3084 3051l22 31-17-84-21-31z"/>
<path class="c36" d="M3063 2991l21 60-16-84-21-60z"/>
<path class="c38" d="M3042 2907l21 84-16-84-22-83z"/>
<path class="c42" d="M3020 2807l22 100-17-83-21-101z"/>
<path class="c52" d="M2956 2481l22 104-17-84-21-104z"/>
<path class="c55" d="M2935 2392l21 89-16-84-21-89z"/>
<path class="c58" d="M2914 2325l21 67-16-84-22-67z"/>
<path class="c59" d="M2892 2284l22 41-17-84-21-41z"/>
<path class="c60" d="M2871 2273l21 11-16-84-21-10z"/>
<path class="c59" d="M2850 2295l21-22-16-83-22 21z"/>
<path class="c58" d="M2828 2347l22-52-17-84-21 52z"/>
<path class="c56" d="M2807 2428l21-81-16-84-21 81z"/>
<path class="c53" d="M2786 2535l21-107-16-84-22 107z"/>
<path class="c49" d="M2764 2661l22-126-17-84-21 127z"/>
<path class="c45" d="M2743 2802l21-141-16-83-21 140z"/>
<path class="c41" d="M2722 2949l21-147-16-84-22 147z"/>
<path class="c37" d="M2700 3096l22-147-17-84-21 147z"/>
<path class="c43" d="M4828 2073l22-147-17-109-21 147z"/>
<path class="c39" d="M4807 2220l21-147-16-109-21 147z"/>
<path class="c35" d="M4786 2361l21-141-16-109-22 141z"/>
<path class="c32" d="M4764 2487l22-126-17-109-21 126z"/>
<path class="c29" d="M4743 2594l21-107-16-109-21 107z"/>
<path class="c26" d="M4722 2675l21-81-16-109-22 81z"/>
<path class="c25" d="M4700 2727l22-52-17-109-21 52zM4679 2748l21-21-16-109-21 21zM4658 2738l21 10-16-109-22-10z"/>
<path class="c27" d="M4636 2697l22 41-17-109-21-41z"/>
<path class="c29" d="M4615 2630l21 67-16-109-21-67z"/>
<path class="c32" d="M4594 2541l21 89-16-109-22-89z"/>
<path class="c35" d="M4572 2437l22 104-17-109-21-104z"/>
<path class="c39" d="M4551 2325l21 112-16-109-21-112z"/>
<path class="c42" d="M4530 2215l21 110-16-109-22-110z"/>
<path class="c46" d="M4508 2114l22 101-17-109-21-101z"/>
<path class="c49" d="M4487 2031l21 83-16-109-21-83z"/>
<path class="c51" d="M4466 1971l21 60-16-109-22-60z"/>
<path class="c52" d="M4444 1940l22 31-17-109-21-31zM4423 1940l21 0-16-109-21 0z"/>
<path class="c51" d="M4402 1972l21-32-16-109-22 32z"/>
<path class="c50" d="M4380 2033l22-61-17-109-21 61z"/>
<path class="c47" d="M4359 2118l21-85-16-109-21 85z"/>
<path class="c45" d="M4338 2219l21-101-16-109-22 101z"/>
<path class="c42" d="M4316 2327l22-108-17-109-21 108z"/>
<path class="c39" d="M4295 2433l21-106-16-109-21 106z"/>
<path class="c36" d="M4274 2526l21-93-16-109-22 93z"/>
<path class="c34" d="M4252 2598l22-72-17-109-21 72z"/>
<path class="c33" d="M4231 2641l21-43-16-109-21 43zM4210 2653l21-12-16-109-21 12z"/>
<path class="c34" d="M4188 2634l22 19-16-109-22-19z"/>
<path class="c35" d="M4167 2588l21 46-16-109-21-46z"/>
<path class="c38" d="M4146 2523l21 65-16-109-21-65z"/>
<path class="c40" d="M4124 2450l22 73-16-109-22-73z"/>
<path class="c42" d="M4103 2383l21 67-16-109-21-67z"/>
<path class="c44" d="M4082 2332l21 51-16-109-21-51z"/>
<path class="c45" d="M4061 2308l21 24-16-109-22-24zM4039 2315l22-7-17-109-21 7z"/>
<path class="c44" d="M4018 2354l21-39-16-109-21 39z"/>
<path class="c43" d="M3997 2415l21-61-16-109-22 60z"/>
<path class="c41" d="M3975 2484l22-69-17-110-21 70z"/>
<path class="c39" d="M3954 2546l21-62-16-109-21 62z"/>
<path class="c38" d="M3933 2585l21-39-16-109-22 39zM3911 2591l22-6-17-109-21 6z"/>
<path class="c39" d="M3890 2569l21 22-16-109-21-22z"/>
<path class="c41" d="M3869 2535l21 34-16-109-22-34zM3847 2513l22 22-17-109-21-22zM3826 2524l21-11-16-109-21 11zM3805 2557l21-33-16-109-22 33zM3783 2565l22-8-17-109-21 8zM3762 2574l21-9-16-109-21 9z"/>
<path class="c40" d="M3741 2606l21-32-16-109-22 32zM3719 2617l22-11-17-109-21 11z"/>
<path class="c41" d="M3698 2596l21 21-16-109-21-21z"/>
<path class="c42" d="M3677 2562l21 34-16-109-22-34z"/>
<path class="c43" d="M3655 2540l22 22-17-109-21-22zM3634 2546l21-6-16-109-21 6z"/>
<path class="c42" d="M3613 2585l21-39-16-109-22 39z"/>
<path class="c40" d="M3591 2647l22-62-17-109-21 62z"/>
<path class="c39" d="M3570 2716l21-69-16-109-21 69z"/>
<path class="c37" d="M3549 2777l21-61-16-109-22 61z"/>
<path class="c36" d="M3527 2816l22-39-17-109-21 39zM3506 2823l21-7-16-109-21 7z"/>
<path class="c37" d="M3485 2799l21 24-16-109-22-24z"/>
<path class="c39" d="M3463 2748l22 51-17-109-21-51z"/>
<path class="c41" d="M3442 2680l21 68-16-109-21-68z"/>
<path class="c44" d="M3421 2608l21 72-16-109-22-72z"/>
<path class="c46" d="M3399 2543l22 65-17-109-21-65z"/>
<path class="c47" d="M3378 2497l21 46-16-109-21-46z"/>
<path class="c48" d="M3357 2478l21 19-16-109-22-19zM3335 2490l22-12-17-109-21 12z"/>
<path class="c47" d="M3314 2533l21-43-16-109-21 43z"/>
<path class="c45" d="M3293 2605l21-72-16-109-22 72z"/>
<path class="c43" d="M3271 2698l22-93-17-109-21 93z"/>
<path class="c40" d="M3250 2804l21-106-16-109-21 106z"/>
<path class="c37" d="M3229 2912l21-108-16-109-22 108z"/>
<path class="c34" d="M3207 3013l22-101-17-109-21 101z"/>
<path class="c31" d="M3186 3098l21-85-16-109-21 85z"/>
<path class="c30" d="M3165 3159l21-61-16-109-22 61z"/>
<path class="c29" d="M3143 3191l22-32-17-109-21 32zM3122 3191l21 0-16-109-21 0z"/>
<path class="c31" d="M3101 3160l21 31-16-109-22-31z"/>
<path class="c33" d="M3079 3100l22 60-17-109-21-60z"/>
<path class="c35" d="M3058 3017l21 83-16-109-21-84z"/>
<path class="c39" d="M3037 2916l21 101-16-110-22-100z"/>
<path class="c42" d="M3015 2806l22 110-17-109-21-111z"/>
<path class="c46" d="M2994 2694l21 112-16-110-21-111z"/>
<path class="c49" d="M2973 2590l21 104-16-109-22-104z"/>
<path class="c52" d="M2951 2501l22 89-17-109-21-89z"/>
<path class="c55" d="M2930 2434l21 67-16-109-21-67z"/>
<path class="c56" d="M2909 2393l21 41-16-109-22-41z"/>
<path class="c57" d="M2887 2383l22 10-17-109-21-11z"/>
<path class="c56" d="M2866 2404l21-21-16-110-21 22z"/>
<path class="c55" d="M2845 2456l21-52-16-109-22 52z"/>
<path class="c53" d="M2823 2537l22-81-17-109-21 81z"/>
<path class="c50" d="M2802 2644l21-107-16-109-21 107z"/>
<path class="c46" d="M2781 2770l21-126-16-109-22 126z"/>
<path class="c42" d="M2759 2911l22-141-17-109-21 141z"/>
<path class="c38" d="M2738 3058l21-147-16-109-21 147z"/>
<path class="c34" d="M2717 3205l21-147-16-109-22 147z"/>
<path class="c40" d="M4845 2202l21-147-16-129-22 147z"/>
<path class="c35" d="M4823 2349l22-147-17-129-21 147z"/>
<path class="c32" d="M4802 2490l21-141-16-129-21 141z"/>
<path class="c28" d="M4781 2616l21-126-16-129-22 126z"/>
<path class="c25" d="M4759 2723l22-107-17-129-21 107z"/>
<path class="c23" d="M4738 2804l21-81-16-129-21 81z"/>
<path class="c21" d="M4717 2856l21-52-16-129-22 52zM4695 2877l22-21-17-129-21 21z"/>
<path class="c22" d="M4674 2867l21 10-16-129-21-10z"/>
<path class="c23" d="M4653 2826l21 41-16-129-22-41z"/>
<path class="c25" d="M4631 2759l22 67-17-129-21-67z"/>
<path class="c28" d="M4610 2670l21 89-16-129-21-89z"/>
<path class="c32" d="M4589 2566l21 104-16-129-22-104z"/>
<path class="c35" d="M4567 2454l22 112-17-129-21-112z"/>
<path class="c39" d="M4546 2344l21 110-16-129-21-110z"/>
<path class="c42" d="M4525 2243l21 101-16-129-22-101z"/>
<path class="c45" d="M4503 2160l22 83-17-129-21-83z"/>
<path class="c47" d="M4482 2100l21 60-16-129-21-60z"/>
<path class="c48" d="M4461 2069l21 31-16-129-22-31zM4439 2069l22 0-17-129-21 0zM4418 2101l21-32-16-129-21 32z"/>
<path class="c46" d="M4397 2162l21-61-16-129-22 61z"/>
<path class="c44" d="M4375 2247l22-85-17-129-21 85z"/>
<path class="c41" d="M4354 2348l21-101-16-129-21 101z"/>
<path class="c38" d="M4333 2456l21-108-16-129-22 108z"/>
<path class="c35" d="M4311 2562l22-106-17-129-21 106z"/>
<path class="c32" d="M4290 2655l21-93-16-129-21 93z"/>
<path class="c31" d="M4269 2727l21-72-16-129-22 72z"/>
<path class="c29" d="M4247 2770l22-43-17-129-21 43zM4226 2782l21-12-16-129-21 12z"/>
<path class="c30" d="M4205 2763l21 19-16-129-22-19z"/>
<path class="c32" d="M4183 2717l22 46-17-129-21-46z"/>
<path class="c34" d="M4162 2652l21 65-16-129-21-65z"/>
<path class="c37" d="M4141 2580l21 72-16-129-22-73z"/>
<path class="c39" d="M4119 2512l22 68-17-130-21-67z"/>
<path class="c41" d="M4098 2461l21 51-16-129-21-51z"/>
<path class="c42" d="M4077 2437l21 24-16-129-21-24zM4056 2444l21-7-16-129-22 7z"/>
<path class="c41" d="M4034 2483l22-39-17-129-21 39z"/>
<path class="c39" d="M4013 2544l21-61-16-129-21 61z"/>
<path class="c37" d="M3992 2613l21-69-16-129-22 69z"/>
<path class="c36" d="M3970 2675l22-62-17-129-21 62z"/>
<path class="c35" d="M3949 2714l21-39-16-129-21 39zM3928 2720l21-6-16-129-22 6z"/>
<path class="c36" d="M3906 2698l22 22-17-129-21-22z"/>
<path class="c37" d="M3885 2664l21 34-16-129-21-34z"/>
<path class="c38" d="M3864 2643l21 21-16-129-22-22zM3842 2654l22-11-17-130-21 11z"/>
<path class="c37" d="M3821 2686l21-32-16-130-21 33zM3800 2695l21-9-16-129-22 8zM3778 2703l22-8-17-130-21 9z"/>
<path class="c36" d="M3757 2735l21-32-16-129-21 32zM3736 2747l21-12-16-129-22 11z"/>
<path class="c37" d="M3714 2725l22 22-17-130-21-21z"/>
<path class="c38" d="M3693 2691l21 34-16-129-21-34z"/>
<path class="c39" d="M3672 2669l21 22-16-129-22-22zM3650 2675l22-6-17-129-21 6z"/>
<path class="c38" d="M3629 2714l21-39-16-129-21 39z"/>
<path class="c37" d="M3608 2776l21-62-16-129-22 62z"/>
<path class="c35" d="M3586 2845l22-69-17-129-21 69z"/>
<path class="c33" d="M3565 2906l21-61-16-129-21 61z"/>
<path class="c32" d="M3544 2945l21-39-16-129-22 39zM3522 2952l22-7-17-129-21 7z"/>
<path class="c33" d="M3501 2928l21 24-16-129-21-24z"/>
<path class="c35" d="M3480 2877l21 51-16-129-22-51z"/>
<path class="c38" d="M3458 2810l22 67-17-129-21-68z"/>
<path class="c40" d="M3437 2737l21 73-16-130-21-72z"/>
<path class="c42" d="M3416 2672l21 65-16-129-22-65z"/>
<path class="c44" d="M3394 2626l22 46-17-129-21-46z"/>
<path class="c45" d="M3373 2607l21 19-16-129-21-19zM3352 2619l21-12-16-129-22 12z"/>
<path class="c43" d="M3330 2662l22-43-17-129-21 43z"/>
<path class="c42" d="M3309 2734l21-72-16-129-21 72z"/>
<path class="c39" d="M3288 2827l21-93-16-129-22 93z"/>
<path class="c36" d="M3266 2933l22-106-17-129-21 106z"/>
<path class="c33" d="M3245 3041l21-108-16-129-21 108z"/>
<path class="c30" d="M3224 3142l21-101-16-129-22 101z"/>
<path class="c28" d="M3202 3227l22-85-17-129-21 85z"/>
<path class="c26" d="M3181 3288l21-61-16-129-21 61zM3160 3320l21-32-16-129-22 32zM3138 3320l22 0-17-129-21 0z"/>
<path class="c27" d="M3117 3289l21 31-16-129-21-31z"/>
<path class="c29" d="M3096 3229l21 60-16-129-22-60z"/>
<path class="c32" d="M3074 3146l22 83-17-129-21-83z"/>
<path class="c35" d="M3053 3045l21 101-16-129-21-101z"/>
<path class="c39" d="M3032 2935l21 110-16-129-22-110z"/>
<path class="c42" d="M3010 2823l22 112-17-129-21-112z"/>
<path class="c46" d="M2989 2719l21 104-16-129-21-104z"/>
<path class="c49" d="M2968 2630l21 89-16-129-22-89z"/>
<path class="c51" d="M2946 2563l22 67-17-129-21-67z"/>
<path class="c52" d="M2925 2522l21 41-16-129-21-41z"/>
<path class="c53" d="M2904 2512l21 10-16-129-22-10zM2882 2533l22-21-17-129-21 21z"/>
<path class="c51" d="M2861 2585l21-52-16-129-21 52z"/>
<path class="c49" d="M2840 2666l21-81-16-129-22 81z"/>
<path class="c46" d="M2818 2773l22-107-17-129-21 107z"/>
<path class="c43" d="M2797 2899l21-126-16-129-21 126z"/>
<path class="c39" d="M2776 3040l21-141-16-129-22 141z"/>
<path class="c34" d="M2754 3187l22-147-17-129-21 147z"/>
<path class="c30" d="M2733 3334l21-147-16-129-21 147z"/>
<path class="c36" d="M4861 2345l21-147-16-143-21 147z"/>
<path class="c32" d="M4840 2492l21-147-16-143-22 147z"/>
<path class="c28" d="M4818 2632l22-140-17-143-21 141z"/>
<path class="c24" d="M4797 2759l21-127-16-142-21 126z"/>
<path class="c21" d="M4776 2866l21-107-16-143-22 107z"/>
<path class="c19" d="M4754 2947l22-81-17-143-21 81z"/>
<path class="c17" d="M4733 2999l21-52-16-143-21 52zM4712 3020l21-21-16-143-22 21z"/>
<path class="c18" d="M4690 3010l22 10-17-143-21-10z"/>
<path class="c19" d="M4669 2969l21 41-16-143-21-41z"/>
<path class="c21" d="M4648 2902l21 67-16-143-22-67z"/>
<path class="c24" d="M4626 2813l22 89-17-143-21-89z"/>
<path class="c28" d="M4605 2709l21 104-16-143-21-104z"/>
<path class="c31" d="M4584 2597l21 112-16-143-22-112z"/>
<path class="c35" d="M4562 2487l22 110-17-143-21-110z"/>
<path class="c38" d="M4541 2386l21 101-16-143-21-101z"/>
<path class="c41" d="M4520 2303l21 83-16-143-22-83z"/>
<path class="c43" d="M4498 2243l22 60-17-143-21-60z"/>
<path class="c44" d="M4477 2212l21 31-16-143-21-31zM4456 2212l21 0-16-143-22 0zM4434 2244l22-32-17-143-21 32z"/>
<path class="c42" d="M4413 2305l21-61-16-143-21 61z"/>
<path class="c40" d="M4392 2389l21-84-16-143-22 85z"/>
<path class="c37" d="M4370 2491l22-102-17-142-21 101z"/>
<path class="c34" d="M4349 2599l21-108-16-143-21 108z"/>
<path class="c31" d="M4328 2705l21-106-16-143-22 106z"/>
<path class="c28" d="M4306 2798l22-93-17-143-21 93z"/>
<path class="c27" d="M4285 2869l21-71-16-143-21 72z"/>
<path class="c25" d="M4264 2913l21-44-16-142-22 43zM4242 2925l22-12-17-143-21 12z"/>
<path class="c26" d="M4221 2906l21 19-16-143-21-19z"/>
<path class="c28" d="M4200 2860l21 46-16-143-22-46z"/>
<path class="c30" d="M4178 2795l22 65-17-143-21-65z"/>
<path class="c33" d="M4157 2722l21 73-16-143-21-72z"/>
<path class="c35" d="M4136 2655l21 67-16-142-22-68z"/>
<path class="c37" d="M4114 2604l22 51-17-143-21-51z"/>
<path class="c38" d="M4093 2580l21 24-16-143-21-24zM4072 2587l21-7-16-143-21 7z"/>
<path class="c37" d="M4050 2625l22-38-16-143-22 39z"/>
<path class="c35" d="M4029 2686l21-61-16-142-21 61z"/>
<path class="c33" d="M4008 2756l21-70-16-142-21 69z"/>
<path class="c32" d="M3986 2818l22-62-16-143-22 62z"/>
<path class="c31" d="M3965 2857l21-39-16-143-21 39zM3944 2863l21-6-16-143-21 6z"/>
<path class="c32" d="M3923 2841l21 22-16-143-22-22z"/>
<path class="c33" d="M3901 2807l22 34-17-143-21-34z"/>
<path class="c34" d="M3880 2785l21 22-16-143-21-21zM3859 2796l21-11-16-142-22 11z"/>
<path class="c33" d="M3837 2829l22-33-17-142-21 32zM3816 2837l21-8-16-143-21 9zM3795 2846l21-9-16-142-22 8z"/>
<path class="c32" d="M3773 2878l22-32-17-143-21 32zM3752 2889l21-11-16-143-21 12z"/>
<path class="c33" d="M3731 2868l21 21-16-142-22-22z"/>
<path class="c34" d="M3709 2834l22 34-17-143-21-34z"/>
<path class="c35" d="M3688 2811l21 23-16-143-21-22zM3667 2818l21-7-16-142-22 6z"/>
<path class="c34" d="M3645 2857l22-39-17-143-21 39z"/>
<path class="c33" d="M3624 2918l21-61-16-143-21 62z"/>
<path class="c31" d="M3603 2988l21-70-16-142-22 69z"/>
<path class="c29" d="M3581 3049l22-61-17-143-21 61z"/>
<path class="c28" d="M3560 3087l21-38-16-143-21 39zM3539 3095l21-8-16-142-22 7z"/>
<path class="c29" d="M3517 3071l22 24-17-143-21-24z"/>
<path class="c31" d="M3496 3020l21 51-16-143-21-51z"/>
<path class="c34" d="M3475 2952l21 68-16-143-22-67z"/>
<path class="c36" d="M3453 2880l22 72-17-142-21-73z"/>
<path class="c38" d="M3432 2815l21 65-16-143-21-65z"/>
<path class="c40" d="M3411 2769l21 46-16-143-22-46z"/>
<path class="c41" d="M3389 2750l22 19-17-143-21-19zM3368 2762l21-12-16-143-21 12z"/>
<path class="c39" d="M3347 2805l21-43-16-143-22 43z"/>
<path class="c38" d="M3325 2877l22-72-17-143-21 72z"/>
<path class="c35" d="M3304 2970l21-93-16-143-21 93z"/>
<path class="c32" d="M3283 3076l21-106-16-143-22 106z"/>
<path class="c29" d="M3261 3184l22-108-17-143-21 108z"/>
<path class="c26" d="M3240 3285l21-101-16-143-21 101z"/>
<path class="c24" d="M3219 3370l21-85-16-143-22 85z"/>
<path class="c22" d="M3197 3431l22-61-17-143-21 61zM3176 3463l21-32-16-143-21 32zM3155 3463l21 0-16-143-22 0z"/>
<path class="c23" d="M3133 3432l22 31-17-143-21-31z"/>
<path class="c25" d="M3112 3372l21 60-16-143-21-60z"/>
<path class="c28" d="M3091 3288l21 84-16-143-22-83z"/>
<path class="c31" d="M3069 3188l22 100-17-142-21-101z"/>
<path class="c35" d="M3048 3077l21 111-16-143-21-110z"/>
<path class="c38" d="M3027 2966l21 111-16-142-22-112z"/>
<path class="c42" d="M3005 2862l22 104-17-143-21-104z"/>
<path class="c45" d="M2984 2773l21 89-16-143-21-89z"/>
<path class="c47" d="M2963 2706l21 67-16-143-22-67z"/>
<path class="c48" d="M2941 2665l22 41-17-143-21-41z"/>
<path class="c49" d="M2920 2654l21 11-16-143-21-10zM2899 2675l21-21-16-142-22 21z"/>
<path class="c47" d="M2877 2728l22-53-17-142-21 52z"/>
<path class="c45" d="M2856 2809l21-81-16-143-21 81z"/>
<path class="c42" d="M2835 2916l21-107-16-143-22 107z"/>
<path class="c39" d="M2813 3042l22-126-17-143-21 126z"/>
<path class="c35" d="M2792 3183l21-141-16-143-21 141z"/>
<path class="c30" d="M2771 3330l21-147-16-143-22 147z"/>
<path class="c26" d="M2749 3477l22-147-17-143-21 147z"/>
<path class="c32" d="M4877 2495l22-147-17-150-21 147z"/>
<path class="c27" d="M4856 2642l21-147-16-150-21 147z"/>
<path class="c23" d="M4835 2782l21-140-16-150-22 140z"/>
<path class="c20" d="M4813 2909l22-127-17-150-21 127z"/>
<path class="c17" d="M4792 3015l21-106-16-150-21 107z"/>
<path class="c15" d="M4771 3097l21-82-16-149-22 81z"/>
<path class="c13" d="M4749 3149l22-52-17-150-21 52zM4728 3170l21-21-16-150-21 21zM4707 3159l21 11-16-150-22-10z"/>
<path class="c15" d="M4685 3119l22 40-17-149-21-41z"/>
<path class="c17" d="M4664 3051l21 68-16-150-21-67z"/>
<path class="c20" d="M4643 2962l21 89-16-149-22-89z"/>
<path class="c23" d="M4621 2858l22 104-17-149-21-104z"/>
<path class="c27" d="M4600 2747l21 111-16-149-21-112z"/>
<path class="c31" d="M4579 2637l21 110-16-150-22-110z"/>
<path class="c34" d="M4557 2536l22 101-17-150-21-101z"/>
<path class="c37" d="M4536 2452l21 84-16-150-21-83z"/>
<path class="c39" d="M4515 2393l21 59-16-149-22-60z"/>
<path class="c40" d="M4493 2362l22 31-17-150-21-31zM4472 2362l21 0-16-150-21 0zM4451 2394l21-32-16-150-22 32z"/>
<path class="c38" d="M4429 2455l22-61-17-150-21 61z"/>
<path class="c36" d="M4408 2539l21-84-16-150-21 84z"/>
<path class="c33" d="M4387 2640l21-101-16-150-22 102z"/>
<path class="c30" d="M4365 2749l22-109-17-149-21 108z"/>
<path class="c27" d="M4344 2854l21-105-16-150-21 106z"/>
<path class="c24" d="M4323 2948l21-94-16-149-22 93z"/>
<path class="c22" d="M4301 3019l22-71-17-150-21 71z"/>
<path class="c21" d="M4280 3063l21-44-16-150-21 44zM4259 3075l21-12-16-150-22 12z"/>
<path class="c22" d="M4237 3056l22 19-17-150-21-19z"/>
<path class="c24" d="M4216 3010l21 46-16-150-21-46z"/>
<path class="c26" d="M4195 2945l21 65-16-150-22-65z"/>
<path class="c28" d="M4173 2872l22 73-17-150-21-73z"/>
<path class="c31" d="M4152 2804l21 68-16-150-21-67z"/>
<path class="c32" d="M4131 2753l21 51-16-149-22-51z"/>
<path class="c33" d="M4109 2729l22 24-17-149-21-24zM4088 2737l21-8-16-149-21 7z"/>
<path class="c32" d="M4067 2775l21-38-16-150-22 38z"/>
<path class="c31" d="M4045 2836l22-61-17-150-21 61z"/>
<path class="c29" d="M4024 2906l21-70-16-150-21 70z"/>
<path class="c27" d="M4003 2968l21-62-16-150-22 62z"/>
<path class="c26" d="M3981 3006l22-38-17-150-21 39z"/>
<path class="c27" d="M3960 3013l21-7-16-149-21 6zM3939 2991l21 22-16-150-21-22z"/>
<path class="c29" d="M3918 2956l21 35-16-150-22-34z"/>
<path class="c30" d="M3896 2935l22 21-17-149-21-22zM3875 2946l21-11-16-150-21 11z"/>
<path class="c29" d="M3854 2979l21-33-16-150-22 33zM3832 2987l22-8-17-150-21 8zM3811 2996l21-9-16-150-21 9z"/>
<path class="c28" d="M3790 3028l21-32-16-150-22 32zM3768 3039l22-11-17-150-21 11z"/>
<path class="c29" d="M3747 3018l21 21-16-150-21-21z"/>
<path class="c30" d="M3726 2983l21 35-16-150-22-34z"/>
<path class="c31" d="M3704 2961l22 22-17-149-21-23zM3683 2968l21-7-16-150-21 7z"/>
<path class="c30" d="M3662 3006l21-38-16-150-22 39z"/>
<path class="c29" d="M3640 3068l22-62-17-149-21 61z"/>
<path class="c27" d="M3619 3138l21-70-16-150-21 70z"/>
<path class="c25" d="M3598 3199l21-61-16-150-22 61z"/>
<path class="c24" d="M3576 3237l22-38-17-150-21 38zM3555 3245l21-8-16-150-21 8z"/>
<path class="c25" d="M3534 3221l21 24-16-150-22-24z"/>
<path class="c27" d="M3512 3170l22 51-17-150-21-51z"/>
<path class="c29" d="M3491 3102l21 68-16-150-21-68z"/>
<path class="c32" d="M3470 3029l21 73-16-150-22-72z"/>
<path class="c34" d="M3448 2964l22 65-17-149-21-65z"/>
<path class="c36" d="M3427 2918l21 46-16-149-21-46zM3406 2899l21 19-16-149-22-19zM3384 2911l22-12-17-149-21 12z"/>
<path class="c35" d="M3363 2955l21-44-16-149-21 43z"/>
<path class="c33" d="M3342 3027l21-72-16-150-22 72z"/>
<path class="c31" d="M3320 3120l22-93-17-150-21 93z"/>
<path class="c28" d="M3299 3225l21-105-16-150-21 106z"/>
<path class="c25" d="M3278 3334l21-109-16-149-22 108z"/>
<path class="c22" d="M3256 3435l22-101-17-150-21 101z"/>
<path class="c20" d="M3235 3520l21-85-16-150-21 85z"/>
<path class="c18" d="M3214 3580l21-60-16-150-22 61z"/>
<path class="c17" d="M3192 3612l22-32-17-149-21 32z"/>
<path class="c18" d="M3171 3613l21-1-16-149-21 0z"/>
<path class="c19" d="M3150 3581l21 32-16-150-22-31z"/>
<path class="c21" d="M3128 3522l22 59-17-149-21-60z"/>
<path class="c24" d="M3107 3438l21 84-16-150-21-84z"/>
<path class="c27" d="M3086 3337l21 101-16-150-22-100z"/>
<path class="c31" d="M3064 3227l22 110-17-149-21-111z"/>
<path class="c34" d="M3043 3116l21 111-16-150-21-111z"/>
<path class="c38" d="M3022 3012l21 104-16-150-22-104z"/>
<path class="c40" d="M3000 2923l22 89-17-150-21-89z"/>
<path class="c43" d="M2979 2855l21 68-16-150-21-67z"/>
<path class="c44" d="M2958 2815l21 40-16-149-22-41z"/>
<path class="c45" d="M2936 2804l22 11-17-150-21-11z"/>
<path class="c44" d="M2915 2825l21-21-16-150-21 21z"/>
<path class="c43" d="M2894 2877l21-52-16-150-22 53z"/>
<path class="c41" d="M2872 2959l22-82-17-149-21 81z"/>
<path class="c38" d="M2851 3065l21-106-16-150-21 107z"/>
<path class="c34" d="M2830 3192l21-127-16-149-22 126z"/>
<path class="c30" d="M2808 3332l22-140-17-150-21 141z"/>
<path class="c26" d="M2787 3480l21-148-16-149-21 147z"/>
<path class="c22" d="M2766 3626l21-146-16-150-22 147z"/>
<path class="c27" d="M4894 2644l21-147-16-149-22 147z"/>
<path class="c23" d="M4872 2791l22-147-17-149-21 147z"/>
<path class="c19" d="M4851 2931l21-140-16-149-21 140z"/>
<path class="c16" d="M4830 3058l21-127-16-149-22 127z"/>
<path class="c13" d="M4808 3165l22-107-17-149-21 106z"/>
<path class="c10" d="M4787 3246l21-81-16-150-21 82z"/>
<path class="c9" d="M4766 3298l21-52-16-149-22 52zM4744 3319l22-21-17-149-21 21zM4723 3309l21 10-16-149-21-11z"/>
<path class="c11" d="M4702 3268l21 41-16-150-22-40z"/>
<path class="c13" d="M4680 3201l22 67-17-149-21-68z"/>
<path class="c16" d="M4659 3112l21 89-16-150-21-89z"/>
<path class="c19" d="M4638 3008l21 104-16-150-22-104z"/>
<path class="c23" d="M4616 2896l22 112-17-150-21-111z"/>
<path class="c26" d="M4595 2786l21 110-16-149-21-110z"/>
<path class="c30" d="M4574 2685l21 101-16-149-22-101z"/>
<path class="c33" d="M4552 2602l22 83-17-149-21-84z"/>
<path class="c35" d="M4531 2542l21 60-16-150-21-59z"/>
<path class="c36" d="M4510 2511l21 31-16-149-22-31zM4488 2511l22 0-17-149-21 0z"/>
<path class="c35" d="M4467 2543l21-32-16-149-21 32z"/>
<path class="c34" d="M4446 2604l21-61-16-149-22 61z"/>
<path class="c31" d="M4424 2689l22-85-17-149-21 84z"/>
<path class="c29" d="M4403 2790l21-101-16-150-21 101z"/>
<path class="c26" d="M4382 2898l21-108-16-150-22 109z"/>
<path class="c23" d="M4360 3004l22-106-17-149-21 105z"/>
<path class="c20" d="M4339 3097l21-93-16-150-21 94z"/>
<path class="c18" d="M4318 3169l21-72-16-149-22 71z"/>
<path class="c17" d="M4296 3212l22-43-17-150-21 44zM4275 3224l21-12-16-149-21 12z"/>
<path class="c18" d="M4254 3205l21 19-16-149-22-19z"/>
<path class="c19" d="M4232 3159l22 46-17-149-21-46z"/>
<path class="c22" d="M4211 3094l21 65-16-149-21-65z"/>
<path class="c24" d="M4190 3021l21 73-16-149-22-73z"/>
<path class="c26" d="M4168 2954l22 67-17-149-21-68z"/>
<path class="c28" d="M4147 2903l21 51-16-150-21-51z"/>
<path class="c29" d="M4126 2879l21 24-16-150-22-24zM4104 2886l22-7-17-150-21 8z"/>
<path class="c28" d="M4083 2925l21-39-16-149-21 38z"/>
<path class="c27" d="M4062 2985l21-60-16-150-22 61z"/>
<path class="c25" d="M4040 3055l22-70-17-149-21 70z"/>
<path class="c23" d="M4019 3117l21-62-16-149-21 62z"/>
<path class="c22" d="M3998 3156l21-39-16-149-22 38zM3976 3162l22-6-17-150-21 7z"/>
<path class="c23" d="M3955 3140l21 22-16-149-21-22z"/>
<path class="c25" d="M3934 3106l21 34-16-149-21-35zM3912 3084l22 22-16-150-22-21zM3891 3095l21-11-16-149-21 11zM3870 3128l21-33-16-149-21 33zM3848 3136l22-8-16-149-22 8zM3827 3145l21-9-16-149-21 9z"/>
<path class="c24" d="M3806 3177l21-32-16-149-21 32zM3785 3188l21-11-16-149-22 11z"/>
<path class="c25" d="M3763 3167l22 21-17-149-21-21z"/>
<path class="c26" d="M3742 3133l21 34-16-149-21-35z"/>
<path class="c27" d="M3721 3111l21 22-16-150-22-22zM3699 3117l22-6-17-150-21 7z"/>
<path class="c26" d="M3678 3156l21-39-16-149-21 38z"/>
<path class="c24" d="M3657 3218l21-62-16-150-22 62z"/>
<path class="c23" d="M3635 3287l22-69-17-150-21 70z"/>
<path class="c21" d="M3614 3348l21-61-16-149-21 61z"/>
<path class="c20" d="M3593 3386l21-38-16-149-22 38zM3571 3394l22-8-17-149-21 8z"/>
<path class="c21" d="M3550 3370l21 24-16-149-21-24z"/>
<path class="c23" d="M3529 3319l21 51-16-149-22-51z"/>
<path class="c25" d="M3507 3251l22 68-17-149-21-68z"/>
<path class="c28" d="M3486 3179l21 72-16-149-21-73z"/>
<path class="c30" d="M3465 3114l21 65-16-150-22-65z"/>
<path class="c31" d="M3443 3068l22 46-17-150-21-46z"/>
<path class="c32" d="M3422 3049l21 19-16-150-21-19zM3401 3061l21-12-16-150-22 12z"/>
<path class="c31" d="M3379 3104l22-43-17-150-21 44z"/>
<path class="c29" d="M3358 3176l21-72-16-149-21 72z"/>
<path class="c27" d="M3337 3269l21-93-16-149-22 93z"/>
<path class="c24" d="M3315 3375l22-106-17-149-21 105z"/>
<path class="c21" d="M3294 3483l21-108-16-150-21 109z"/>
<path class="c18" d="M3273 3584l21-101-16-149-22 101z"/>
<path class="c15" d="M3251 3669l22-85-17-149-21 85z"/>
<path class="c14" d="M3230 3730l21-61-16-149-21 60z"/>
<path class="c13" d="M3209 3762l21-32-16-150-22 32zM3187 3762l22 0-17-150-21 1z"/>
<path class="c15" d="M3166 3731l21 31-16-149-21-32z"/>
<path class="c17" d="M3145 3671l21 60-16-150-22-59z"/>
<path class="c19" d="M3123 3587l22 84-17-149-21-84z"/>
<path class="c23" d="M3102 3487l21 100-16-149-21-101z"/>
<path class="c26" d="M3081 3376l21 111-16-150-22-110z"/>
<path class="c30" d="M3059 3265l22 111-17-149-21-111z"/>
<path class="c33" d="M3038 3161l21 104-16-149-21-104z"/>
<path class="c36" d="M3017 3072l21 89-16-149-22-89z"/>
<path class="c39" d="M2995 3005l22 67-17-149-21-68z"/>
<path class="c40" d="M2974 2964l21 41-16-150-21-40z"/>
<path class="c41" d="M2953 2953l21 11-16-149-22-11z"/>
<path class="c40" d="M2931 2975l22-22-17-149-21 21z"/>
<path class="c39" d="M2910 3027l21-52-16-150-21 52z"/>
<path class="c37" d="M2889 3108l21-81-16-150-22 82z"/>
<path class="c34" d="M2867 3215l22-107-17-149-21 106z"/>
<path class="c30" d="M2846 3341l21-126-16-150-21 127z"/>
<path class="c26" d="M2825 3482l21-141-16-149-22 140z"/>
<path class="c22" d="M2803 3629l22-147-17-150-21 148z"/>
<path class="c18" d="M2782 3776l21-147-16-149-21 146z"/>
</g>
<path d="M115.0 351.2 L115.0 119.3M491.5 375.9 L491.5 144.0M278.2 458.2 l5.5 3.6M278.2 458.2 l-6.2 2.4M384.9 417.0 l5.5 3.6M196.6 404.7 l-6.2 2.4M491.5 375.9 l5.5 3.6M115.0 351.2 l-6.2 2.4M115.0 351.2 l-6.0 -3.6M115.0 288.1 l-6.0 -3.6M115.0 225.0 l-6.0 -3.6M115.0 161.9 l-6.0 -3.6" fill="none" stroke="#151515" stroke-width="1.6"/>
<text class="ti" x="303.7" y="29.1" text-anchor="middle">Parameter space</text>
<g class="t" text-anchor="end">
<text x="101.4" y="162.3">500</text>
<text x="101.4" y="225.7">0</text>
<text x="101.4" y="288.9">-500</text>
<text x="101.4" y="352.6">-1000</text>
<text x="101.2" y="377">500</text>
<text x="182.7" y="431.7">0</text>
<text x="264.1" y="484.4">-500</text>
<text x="330.6" y="487.2">-500</text>
<text x="407.6" y="446.3">0</text>
<text x="536.9" y="405.4">500</text>
</g>
<text class="l" x="403.8" y="494.6">x</text><text class="s" x="414.6" y="505.5">1</text>
<text class="l" x="144.8" y="487.6">x</text><text class="s" x="155" y="499">2</text>
<g transform="translate(25.7 292.8) rotate(-90) scale(1.022 1.05)">
<text class="l" x="0" y="0">F8( x<tspan class="s" dy="11">1</tspan><tspan dy="-11"> , x</tspan><tspan class="s" dy="11">2</tspan><tspan dy="-11"> )</tspan></text>
</g>
</svg>
</body></html>
